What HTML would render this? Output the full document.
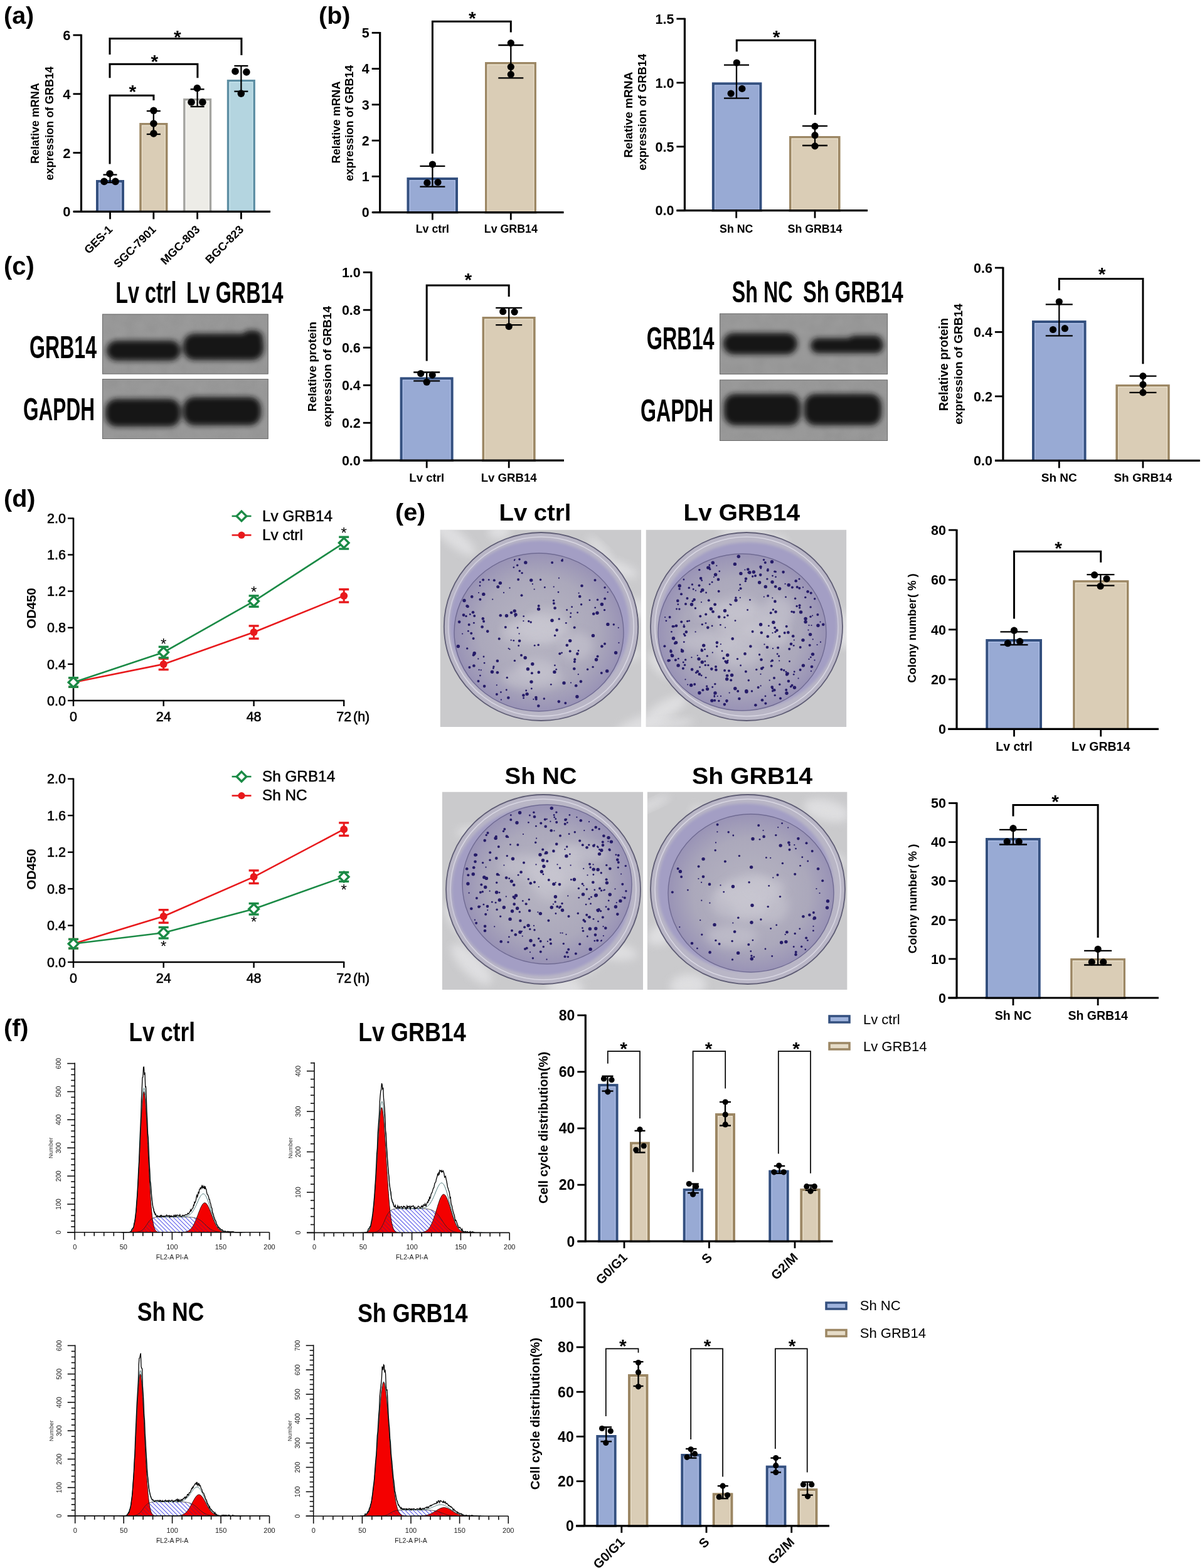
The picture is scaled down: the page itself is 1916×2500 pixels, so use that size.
<!DOCTYPE html>
<html><head><meta charset="utf-8"><title>GRB14 figure</title>
<style>html,body{margin:0;padding:0;background:#fff;} svg{display:block;}</style></head>
<body><svg width="1916" height="2500" viewBox="0 0 1916 2500">
<rect width="1916" height="2500" fill="#fff"/>
<text x="6" y="38" font-family="'Liberation Sans', Arial, sans-serif" font-size="39.5" font-weight="bold" text-anchor="start" fill="#000" >(a)</text>
<line x1="129.5" y1="54.8" x2="129.5" y2="338.6" stroke="#000" stroke-width="3.2" stroke-linecap="butt"/>
<line x1="116.5" y1="56" x2="129.5" y2="56" stroke="#000" stroke-width="2.8" stroke-linecap="butt"/>
<text x="112.5" y="63.9" font-family="'Liberation Sans', Arial, sans-serif" font-size="22" font-weight="bold" text-anchor="end" fill="#000" >6</text>
<line x1="116.5" y1="149.8" x2="129.5" y2="149.8" stroke="#000" stroke-width="2.8" stroke-linecap="butt"/>
<text x="112.5" y="157.7" font-family="'Liberation Sans', Arial, sans-serif" font-size="22" font-weight="bold" text-anchor="end" fill="#000" >4</text>
<line x1="116.5" y1="243.6" x2="129.5" y2="243.6" stroke="#000" stroke-width="2.8" stroke-linecap="butt"/>
<text x="112.5" y="251.5" font-family="'Liberation Sans', Arial, sans-serif" font-size="22" font-weight="bold" text-anchor="end" fill="#000" >2</text>
<line x1="116.5" y1="337.4" x2="129.5" y2="337.4" stroke="#000" stroke-width="2.8" stroke-linecap="butt"/>
<text x="112.5" y="345.3" font-family="'Liberation Sans', Arial, sans-serif" font-size="22" font-weight="bold" text-anchor="end" fill="#000" >0</text>
<line x1="117" y1="337.4" x2="431" y2="337.4" stroke="#000" stroke-width="3.2" stroke-linecap="butt"/>
<line x1="175.5" y1="337.4" x2="175.5" y2="349.4" stroke="#000" stroke-width="2.8" stroke-linecap="butt"/>
<line x1="244.8" y1="337.4" x2="244.8" y2="349.4" stroke="#000" stroke-width="2.8" stroke-linecap="butt"/>
<line x1="314.6" y1="337.4" x2="314.6" y2="349.4" stroke="#000" stroke-width="2.8" stroke-linecap="butt"/>
<line x1="384.4" y1="337.4" x2="384.4" y2="349.4" stroke="#000" stroke-width="2.8" stroke-linecap="butt"/>
<rect x="153" y="287" width="45" height="50.4" fill="#98aad4"/>
<path d="M155,337.4 V289 H196 V337.4" fill="none" stroke="#34507f" stroke-width="4"/>
<path d="M157.6,337.4 V291.6 H193.4 V337.4" fill="none" stroke="#b6c6ee" stroke-width="1.1" opacity="0.9"/>
<line x1="152.5" y1="337.4" x2="198.5" y2="337.4" stroke="#000" stroke-width="3.2"/>
<rect x="222.3" y="196" width="45" height="141.4" fill="#dacdb6"/>
<path d="M224.1,337.4 V197.8 H265.6 V337.4" fill="none" stroke="#9c8764" stroke-width="3.5"/>
<path d="M226.4,337.4 V200.1 H263.2 V337.4" fill="none" stroke="#f0e6d2" stroke-width="1.1" opacity="0.9"/>
<line x1="221.8" y1="337.4" x2="267.8" y2="337.4" stroke="#000" stroke-width="3.2"/>
<rect x="292.1" y="157" width="45" height="180.4" fill="#edece7"/>
<path d="M293.9,337.4 V158.8 H335.4 V337.4" fill="none" stroke="#a4a4a0" stroke-width="3.5"/>
<path d="M296.2,337.4 V161.1 H333 V337.4" fill="none" stroke="#fafaf8" stroke-width="1.1" opacity="0.9"/>
<line x1="291.6" y1="337.4" x2="337.6" y2="337.4" stroke="#000" stroke-width="3.2"/>
<rect x="361.9" y="127" width="45" height="210.4" fill="#b4d5e0"/>
<path d="M363.6,337.4 V128.8 H405.1 V337.4" fill="none" stroke="#5d8ea3" stroke-width="3.5"/>
<path d="M366,337.4 V131.1 H402.8 V337.4" fill="none" stroke="#d2eef6" stroke-width="1.1" opacity="0.9"/>
<line x1="361.4" y1="337.4" x2="407.4" y2="337.4" stroke="#000" stroke-width="3.2"/>
<line x1="175.5" y1="278.6" x2="175.5" y2="291" stroke="#000" stroke-width="2.3" stroke-linecap="butt"/>
<line x1="164.5" y1="278.6" x2="186.5" y2="278.6" stroke="#000" stroke-width="2.3" stroke-linecap="butt"/>
<line x1="164.5" y1="291" x2="186.5" y2="291" stroke="#000" stroke-width="2.3" stroke-linecap="butt"/>
<line x1="244.8" y1="177" x2="244.8" y2="214" stroke="#000" stroke-width="2.3" stroke-linecap="butt"/>
<line x1="233.8" y1="177" x2="255.8" y2="177" stroke="#000" stroke-width="2.3" stroke-linecap="butt"/>
<line x1="233.8" y1="214" x2="255.8" y2="214" stroke="#000" stroke-width="2.3" stroke-linecap="butt"/>
<line x1="314.6" y1="142.3" x2="314.6" y2="170" stroke="#000" stroke-width="2.3" stroke-linecap="butt"/>
<line x1="303.6" y1="142.3" x2="325.6" y2="142.3" stroke="#000" stroke-width="2.3" stroke-linecap="butt"/>
<line x1="303.6" y1="170" x2="325.6" y2="170" stroke="#000" stroke-width="2.3" stroke-linecap="butt"/>
<line x1="384.4" y1="105" x2="384.4" y2="145.7" stroke="#000" stroke-width="2.3" stroke-linecap="butt"/>
<line x1="373.4" y1="105" x2="395.4" y2="105" stroke="#000" stroke-width="2.3" stroke-linecap="butt"/>
<line x1="373.4" y1="145.7" x2="395.4" y2="145.7" stroke="#000" stroke-width="2.3" stroke-linecap="butt"/>
<circle cx="175" cy="277" r="5.8" fill="#000"/>
<circle cx="166" cy="289.4" r="5.8" fill="#000"/>
<circle cx="184" cy="289.4" r="5.8" fill="#000"/>
<circle cx="244.9" cy="176.3" r="5.8" fill="#000"/>
<circle cx="244.9" cy="197" r="5.8" fill="#000"/>
<circle cx="244.9" cy="212.9" r="5.8" fill="#000"/>
<circle cx="314.3" cy="140.6" r="5.8" fill="#000"/>
<circle cx="305" cy="162.9" r="5.8" fill="#000"/>
<circle cx="322.9" cy="162.9" r="5.8" fill="#000"/>
<circle cx="375" cy="113.7" r="5.8" fill="#000"/>
<circle cx="392.9" cy="114.9" r="5.8" fill="#000"/>
<circle cx="384.3" cy="149.1" r="5.8" fill="#000"/>
<polyline points="175,87 175,61.4 384.9,61.4 384.9,88" fill="none" stroke="#000" stroke-width="3" stroke-linejoin="miter"/>
<text x="282.9" y="69.1" font-family="'Liberation Sans', Arial, sans-serif" font-size="30" font-weight="bold" text-anchor="middle" fill="#000" >*</text>
<polyline points="175,124.3 175,102.3 314.9,102.3 314.9,124.3" fill="none" stroke="#000" stroke-width="3" stroke-linejoin="miter"/>
<text x="246.3" y="107.6" font-family="'Liberation Sans', Arial, sans-serif" font-size="30" font-weight="bold" text-anchor="middle" fill="#000" >*</text>
<polyline points="175,261.4 175,152.3 244.9,152.3 244.9,160" fill="none" stroke="#000" stroke-width="3" stroke-linejoin="miter"/>
<text x="211.4" y="155.6" font-family="'Liberation Sans', Arial, sans-serif" font-size="30" font-weight="bold" text-anchor="middle" fill="#000" >*</text>
<text x="62.3" y="196.6" font-family="'Liberation Sans', Arial, sans-serif" font-size="17.95" font-weight="bold" text-anchor="middle" transform="rotate(-90 62.3 196.6)" >Relative mRNA</text>
<text x="85" y="196.8" font-family="'Liberation Sans', Arial, sans-serif" font-size="17.95" font-weight="bold" text-anchor="middle" transform="rotate(-90 85 196.8)" >expression of GRB14</text>
<text x="180.5" y="367" font-family="'Liberation Sans', Arial, sans-serif" font-size="18.3" font-weight="bold" text-anchor="end" transform="rotate(-45 180.5 367)">GES-1</text>
<text x="249.8" y="367" font-family="'Liberation Sans', Arial, sans-serif" font-size="18.3" font-weight="bold" text-anchor="end" transform="rotate(-45 249.8 367)">SGC-7901</text>
<text x="319.6" y="367" font-family="'Liberation Sans', Arial, sans-serif" font-size="18.3" font-weight="bold" text-anchor="end" transform="rotate(-45 319.6 367)">MGC-803</text>
<text x="389.4" y="367" font-family="'Liberation Sans', Arial, sans-serif" font-size="18.3" font-weight="bold" text-anchor="end" transform="rotate(-45 389.4 367)">BGC-823</text>
<text x="508" y="38" font-family="'Liberation Sans', Arial, sans-serif" font-size="39.5" font-weight="bold" text-anchor="start" fill="#000" >(b)</text>
<line x1="605.7" y1="51.1" x2="605.7" y2="339.8" stroke="#000" stroke-width="3.2" stroke-linecap="butt"/>
<line x1="592.7" y1="338.6" x2="605.7" y2="338.6" stroke="#000" stroke-width="2.8" stroke-linecap="butt"/>
<text x="588.7" y="346.3" font-family="'Liberation Sans', Arial, sans-serif" font-size="21.5" font-weight="bold" text-anchor="end" fill="#000" >0</text>
<line x1="592.7" y1="281.3" x2="605.7" y2="281.3" stroke="#000" stroke-width="2.8" stroke-linecap="butt"/>
<text x="588.7" y="289.1" font-family="'Liberation Sans', Arial, sans-serif" font-size="21.5" font-weight="bold" text-anchor="end" fill="#000" >1</text>
<line x1="592.7" y1="224.1" x2="605.7" y2="224.1" stroke="#000" stroke-width="2.8" stroke-linecap="butt"/>
<text x="588.7" y="231.8" font-family="'Liberation Sans', Arial, sans-serif" font-size="21.5" font-weight="bold" text-anchor="end" fill="#000" >2</text>
<line x1="592.7" y1="166.8" x2="605.7" y2="166.8" stroke="#000" stroke-width="2.8" stroke-linecap="butt"/>
<text x="588.7" y="174.6" font-family="'Liberation Sans', Arial, sans-serif" font-size="21.5" font-weight="bold" text-anchor="end" fill="#000" >3</text>
<line x1="592.7" y1="109.6" x2="605.7" y2="109.6" stroke="#000" stroke-width="2.8" stroke-linecap="butt"/>
<text x="588.7" y="117.3" font-family="'Liberation Sans', Arial, sans-serif" font-size="21.5" font-weight="bold" text-anchor="end" fill="#000" >4</text>
<line x1="592.7" y1="52.3" x2="605.7" y2="52.3" stroke="#000" stroke-width="2.8" stroke-linecap="butt"/>
<text x="588.7" y="60" font-family="'Liberation Sans', Arial, sans-serif" font-size="21.5" font-weight="bold" text-anchor="end" fill="#000" >5</text>
<line x1="594" y1="338.6" x2="898.6" y2="338.6" stroke="#000" stroke-width="3.2" stroke-linecap="butt"/>
<line x1="689.4" y1="338.6" x2="689.4" y2="350.6" stroke="#000" stroke-width="2.8" stroke-linecap="butt"/>
<line x1="814.3" y1="338.6" x2="814.3" y2="350.6" stroke="#000" stroke-width="2.8" stroke-linecap="butt"/>
<rect x="648.6" y="283" width="81.4" height="55.6" fill="#98aad4"/>
<path d="M650.6,338.6 V285 H728 V338.6" fill="none" stroke="#34507f" stroke-width="4"/>
<path d="M653.2,338.6 V287.6 H725.4 V338.6" fill="none" stroke="#b6c6ee" stroke-width="1.1" opacity="0.9"/>
<line x1="648.1" y1="338.6" x2="730.5" y2="338.6" stroke="#000" stroke-width="3.2"/>
<rect x="773" y="99" width="82" height="239.6" fill="#dacdb6"/>
<path d="M774.8,338.6 V100.8 H853.2 V338.6" fill="none" stroke="#9c8764" stroke-width="3.5"/>
<path d="M777.1,338.6 V103.1 H850.9 V338.6" fill="none" stroke="#f0e6d2" stroke-width="1.1" opacity="0.9"/>
<line x1="772.5" y1="338.6" x2="855.5" y2="338.6" stroke="#000" stroke-width="3.2"/>
<line x1="689.4" y1="264.9" x2="689.4" y2="297.7" stroke="#000" stroke-width="2.3" stroke-linecap="butt"/>
<line x1="669.4" y1="264.9" x2="709.4" y2="264.9" stroke="#000" stroke-width="2.3" stroke-linecap="butt"/>
<line x1="669.4" y1="297.7" x2="709.4" y2="297.7" stroke="#000" stroke-width="2.3" stroke-linecap="butt"/>
<line x1="814.3" y1="72" x2="814.3" y2="124.3" stroke="#000" stroke-width="2.3" stroke-linecap="butt"/>
<line x1="794.3" y1="72" x2="834.3" y2="72" stroke="#000" stroke-width="2.3" stroke-linecap="butt"/>
<line x1="794.3" y1="124.3" x2="834.3" y2="124.3" stroke="#000" stroke-width="2.3" stroke-linecap="butt"/>
<circle cx="689.4" cy="262" r="5.6" fill="#000"/>
<circle cx="680.9" cy="291.4" r="5.6" fill="#000"/>
<circle cx="698" cy="290.6" r="5.6" fill="#000"/>
<circle cx="814.3" cy="68.6" r="5.6" fill="#000"/>
<circle cx="814.3" cy="106.6" r="5.6" fill="#000"/>
<circle cx="814.3" cy="118.6" r="5.6" fill="#000"/>
<polyline points="689.4,244.9 689.4,34.3 814.3,34.3 814.3,51.4" fill="none" stroke="#000" stroke-width="3" stroke-linejoin="miter"/>
<text x="752.9" y="39.1" font-family="'Liberation Sans', Arial, sans-serif" font-size="30" font-weight="bold" text-anchor="middle" fill="#000" >*</text>
<text x="541.5" y="195" font-family="'Liberation Sans', Arial, sans-serif" font-size="18.3" font-weight="bold" text-anchor="middle" transform="rotate(-90 541.5 195)" >Relative mRNA</text>
<text x="563.5" y="196.4" font-family="'Liberation Sans', Arial, sans-serif" font-size="18.3" font-weight="bold" text-anchor="middle" transform="rotate(-90 563.5 196.4)" >expression of GRB14</text>
<text x="689.4" y="370.5" font-family="'Liberation Sans', Arial, sans-serif" font-size="17.8" font-weight="bold" text-anchor="middle" fill="#000" >Lv ctrl</text>
<text x="814.3" y="370.5" font-family="'Liberation Sans', Arial, sans-serif" font-size="17.8" font-weight="bold" text-anchor="middle" fill="#000" >Lv GRB14</text>
<line x1="1091.4" y1="28.8" x2="1091.4" y2="336.9" stroke="#000" stroke-width="3.2" stroke-linecap="butt"/>
<line x1="1078.4" y1="30" x2="1091.4" y2="30" stroke="#000" stroke-width="2.8" stroke-linecap="butt"/>
<text x="1074.4" y="37.7" font-family="'Liberation Sans', Arial, sans-serif" font-size="21.5" font-weight="bold" text-anchor="end" fill="#000" >1.5</text>
<line x1="1078.4" y1="131.9" x2="1091.4" y2="131.9" stroke="#000" stroke-width="2.8" stroke-linecap="butt"/>
<text x="1074.4" y="139.6" font-family="'Liberation Sans', Arial, sans-serif" font-size="21.5" font-weight="bold" text-anchor="end" fill="#000" >1.0</text>
<line x1="1078.4" y1="233.8" x2="1091.4" y2="233.8" stroke="#000" stroke-width="2.8" stroke-linecap="butt"/>
<text x="1074.4" y="241.5" font-family="'Liberation Sans', Arial, sans-serif" font-size="21.5" font-weight="bold" text-anchor="end" fill="#000" >0.5</text>
<line x1="1078.4" y1="335.7" x2="1091.4" y2="335.7" stroke="#000" stroke-width="2.8" stroke-linecap="butt"/>
<text x="1074.4" y="343.4" font-family="'Liberation Sans', Arial, sans-serif" font-size="21.5" font-weight="bold" text-anchor="end" fill="#000" >0.0</text>
<line x1="1078.6" y1="335.7" x2="1383" y2="335.7" stroke="#000" stroke-width="3.2" stroke-linecap="butt"/>
<line x1="1173.7" y1="335.7" x2="1173.7" y2="347.7" stroke="#000" stroke-width="2.8" stroke-linecap="butt"/>
<line x1="1299" y1="335.7" x2="1299" y2="347.7" stroke="#000" stroke-width="2.8" stroke-linecap="butt"/>
<rect x="1134.9" y="131.4" width="79.4" height="204.3" fill="#98aad4"/>
<path d="M1136.9,335.7 V133.4 H1212.3 V335.7" fill="none" stroke="#34507f" stroke-width="4"/>
<path d="M1139.5,335.7 V136 H1209.7 V335.7" fill="none" stroke="#b6c6ee" stroke-width="1.1" opacity="0.9"/>
<line x1="1134.4" y1="335.7" x2="1214.8" y2="335.7" stroke="#000" stroke-width="3.2"/>
<rect x="1258" y="217" width="81.4" height="118.7" fill="#dacdb6"/>
<path d="M1259.8,335.7 V218.8 H1337.7 V335.7" fill="none" stroke="#9c8764" stroke-width="3.5"/>
<path d="M1262.1,335.7 V221.1 H1335.3 V335.7" fill="none" stroke="#f0e6d2" stroke-width="1.1" opacity="0.9"/>
<line x1="1257.5" y1="335.7" x2="1339.9" y2="335.7" stroke="#000" stroke-width="3.2"/>
<line x1="1174" y1="103.7" x2="1174" y2="156.6" stroke="#000" stroke-width="2.3" stroke-linecap="butt"/>
<line x1="1154" y1="103.7" x2="1194" y2="103.7" stroke="#000" stroke-width="2.3" stroke-linecap="butt"/>
<line x1="1154" y1="156.6" x2="1194" y2="156.6" stroke="#000" stroke-width="2.3" stroke-linecap="butt"/>
<line x1="1299" y1="200.9" x2="1299" y2="232" stroke="#000" stroke-width="2.3" stroke-linecap="butt"/>
<line x1="1279" y1="200.9" x2="1319" y2="200.9" stroke="#000" stroke-width="2.3" stroke-linecap="butt"/>
<line x1="1279" y1="232" x2="1319" y2="232" stroke="#000" stroke-width="2.3" stroke-linecap="butt"/>
<circle cx="1174.3" cy="100" r="5.6" fill="#000"/>
<circle cx="1165.1" cy="149.1" r="5.6" fill="#000"/>
<circle cx="1182.9" cy="141.4" r="5.6" fill="#000"/>
<circle cx="1299" cy="201.4" r="5.6" fill="#000"/>
<circle cx="1299" cy="215.7" r="5.6" fill="#000"/>
<circle cx="1299" cy="232.9" r="5.6" fill="#000"/>
<polyline points="1174.3,82.3 1174.3,64.3 1299.4,64.3 1299.4,182.9" fill="none" stroke="#000" stroke-width="3" stroke-linejoin="miter"/>
<text x="1237.7" y="68.6" font-family="'Liberation Sans', Arial, sans-serif" font-size="30" font-weight="bold" text-anchor="middle" fill="#000" >*</text>
<text x="1008" y="183" font-family="'Liberation Sans', Arial, sans-serif" font-size="19.1" font-weight="bold" text-anchor="middle" transform="rotate(-90 1008 183)" >Relative mRNA</text>
<text x="1030" y="178.8" font-family="'Liberation Sans', Arial, sans-serif" font-size="18.4" font-weight="bold" text-anchor="middle" transform="rotate(-90 1030 178.8)" >expression of GRB14</text>
<text x="1173.7" y="370.5" font-family="'Liberation Sans', Arial, sans-serif" font-size="17.8" font-weight="bold" text-anchor="middle" fill="#000" >Sh NC</text>
<text x="1299" y="370.5" font-family="'Liberation Sans', Arial, sans-serif" font-size="17.8" font-weight="bold" text-anchor="middle" fill="#000" >Sh GRB14</text>
<text x="6" y="438" font-family="'Liberation Sans', Arial, sans-serif" font-size="40" font-weight="bold" text-anchor="start" fill="#000" >(c)</text>
<line x1="591.8" y1="433" x2="591.8" y2="735.4" stroke="#000" stroke-width="3.2" stroke-linecap="butt"/>
<line x1="578.8" y1="734.2" x2="591.8" y2="734.2" stroke="#000" stroke-width="2.8" stroke-linecap="butt"/>
<text x="574.8" y="741.9" font-family="'Liberation Sans', Arial, sans-serif" font-size="21.5" font-weight="bold" text-anchor="end" fill="#000" >0.0</text>
<line x1="578.8" y1="674.2" x2="591.8" y2="674.2" stroke="#000" stroke-width="2.8" stroke-linecap="butt"/>
<text x="574.8" y="681.9" font-family="'Liberation Sans', Arial, sans-serif" font-size="21.5" font-weight="bold" text-anchor="end" fill="#000" >0.2</text>
<line x1="578.8" y1="614.2" x2="591.8" y2="614.2" stroke="#000" stroke-width="2.8" stroke-linecap="butt"/>
<text x="574.8" y="621.9" font-family="'Liberation Sans', Arial, sans-serif" font-size="21.5" font-weight="bold" text-anchor="end" fill="#000" >0.4</text>
<line x1="578.8" y1="554.2" x2="591.8" y2="554.2" stroke="#000" stroke-width="2.8" stroke-linecap="butt"/>
<text x="574.8" y="561.9" font-family="'Liberation Sans', Arial, sans-serif" font-size="21.5" font-weight="bold" text-anchor="end" fill="#000" >0.6</text>
<line x1="578.8" y1="494.2" x2="591.8" y2="494.2" stroke="#000" stroke-width="2.8" stroke-linecap="butt"/>
<text x="574.8" y="501.9" font-family="'Liberation Sans', Arial, sans-serif" font-size="21.5" font-weight="bold" text-anchor="end" fill="#000" >0.8</text>
<line x1="578.8" y1="434.2" x2="591.8" y2="434.2" stroke="#000" stroke-width="2.8" stroke-linecap="butt"/>
<text x="574.8" y="441.9" font-family="'Liberation Sans', Arial, sans-serif" font-size="21.5" font-weight="bold" text-anchor="end" fill="#000" >1.0</text>
<line x1="580.5" y1="734.2" x2="899" y2="734.2" stroke="#000" stroke-width="3.2" stroke-linecap="butt"/>
<line x1="680.2" y1="734.2" x2="680.2" y2="746.2" stroke="#000" stroke-width="2.8" stroke-linecap="butt"/>
<line x1="811.2" y1="734.2" x2="811.2" y2="746.2" stroke="#000" stroke-width="2.8" stroke-linecap="butt"/>
<rect x="637.7" y="601.5" width="84.8" height="132.7" fill="#98aad4"/>
<path d="M639.7,734.2 V603.5 H720.5 V734.2" fill="none" stroke="#34507f" stroke-width="4"/>
<path d="M642.3,734.2 V606.1 H717.9 V734.2" fill="none" stroke="#b6c6ee" stroke-width="1.1" opacity="0.9"/>
<line x1="637.2" y1="734.2" x2="723" y2="734.2" stroke="#000" stroke-width="3.2"/>
<rect x="768.6" y="505" width="84.9" height="229.2" fill="#dacdb6"/>
<path d="M770.4,734.2 V506.8 H851.8 V734.2" fill="none" stroke="#9c8764" stroke-width="3.5"/>
<path d="M772.7,734.2 V509.1 H849.4 V734.2" fill="none" stroke="#f0e6d2" stroke-width="1.1" opacity="0.9"/>
<line x1="768.1" y1="734.2" x2="854" y2="734.2" stroke="#000" stroke-width="3.2"/>
<line x1="680.2" y1="593.5" x2="680.2" y2="607.4" stroke="#000" stroke-width="2.3" stroke-linecap="butt"/>
<line x1="659.2" y1="593.5" x2="701.2" y2="593.5" stroke="#000" stroke-width="2.3" stroke-linecap="butt"/>
<line x1="659.2" y1="607.4" x2="701.2" y2="607.4" stroke="#000" stroke-width="2.3" stroke-linecap="butt"/>
<line x1="811.2" y1="490.8" x2="811.2" y2="518.2" stroke="#000" stroke-width="2.3" stroke-linecap="butt"/>
<line x1="790.2" y1="490.8" x2="832.2" y2="490.8" stroke="#000" stroke-width="2.3" stroke-linecap="butt"/>
<line x1="790.2" y1="518.2" x2="832.2" y2="518.2" stroke="#000" stroke-width="2.3" stroke-linecap="butt"/>
<circle cx="670.7" cy="595.5" r="5.6" fill="#000"/>
<circle cx="689.2" cy="597.9" r="5.6" fill="#000"/>
<circle cx="680.2" cy="609.2" r="5.6" fill="#000"/>
<circle cx="801.7" cy="496.7" r="5.6" fill="#000"/>
<circle cx="820.1" cy="497.3" r="5.6" fill="#000"/>
<circle cx="811.2" cy="520.5" r="5.6" fill="#000"/>
<polyline points="680.2,575.6 680.2,455 811.2,455 811.2,472.9" fill="none" stroke="#000" stroke-width="3" stroke-linejoin="miter"/>
<text x="746.3" y="456.1" font-family="'Liberation Sans', Arial, sans-serif" font-size="30" font-weight="bold" text-anchor="middle" fill="#000" >*</text>
<text x="504" y="584.5" font-family="'Liberation Sans', Arial, sans-serif" font-size="19.1" font-weight="bold" text-anchor="middle" transform="rotate(-90 504 584.5)" >Relative protein</text>
<text x="527.5" y="584.5" font-family="'Liberation Sans', Arial, sans-serif" font-size="19.1" font-weight="bold" text-anchor="middle" transform="rotate(-90 527.5 584.5)" >expression of GRB14</text>
<text x="680.2" y="767.6" font-family="'Liberation Sans', Arial, sans-serif" font-size="18.6" font-weight="bold" text-anchor="middle" fill="#000" >Lv ctrl</text>
<text x="811.2" y="767.6" font-family="'Liberation Sans', Arial, sans-serif" font-size="18.6" font-weight="bold" text-anchor="middle" fill="#000" >Lv GRB14</text>
<line x1="1598.9" y1="425.8" x2="1598.9" y2="735.5" stroke="#000" stroke-width="3.2" stroke-linecap="butt"/>
<line x1="1585.9" y1="734.3" x2="1598.9" y2="734.3" stroke="#000" stroke-width="2.8" stroke-linecap="butt"/>
<text x="1581.9" y="742" font-family="'Liberation Sans', Arial, sans-serif" font-size="21.5" font-weight="bold" text-anchor="end" fill="#000" >0.0</text>
<line x1="1585.9" y1="631.9" x2="1598.9" y2="631.9" stroke="#000" stroke-width="2.8" stroke-linecap="butt"/>
<text x="1581.9" y="639.6" font-family="'Liberation Sans', Arial, sans-serif" font-size="21.5" font-weight="bold" text-anchor="end" fill="#000" >0.2</text>
<line x1="1585.9" y1="529.4" x2="1598.9" y2="529.4" stroke="#000" stroke-width="2.8" stroke-linecap="butt"/>
<text x="1581.9" y="537.2" font-family="'Liberation Sans', Arial, sans-serif" font-size="21.5" font-weight="bold" text-anchor="end" fill="#000" >0.4</text>
<line x1="1585.9" y1="427" x2="1598.9" y2="427" stroke="#000" stroke-width="2.8" stroke-linecap="butt"/>
<text x="1581.9" y="434.7" font-family="'Liberation Sans', Arial, sans-serif" font-size="21.5" font-weight="bold" text-anchor="end" fill="#000" >0.6</text>
<line x1="1586" y1="734.3" x2="1912.8" y2="734.3" stroke="#000" stroke-width="3.2" stroke-linecap="butt"/>
<line x1="1688.3" y1="734.3" x2="1688.3" y2="746.3" stroke="#000" stroke-width="2.8" stroke-linecap="butt"/>
<line x1="1821.9" y1="734.3" x2="1821.9" y2="746.3" stroke="#000" stroke-width="2.8" stroke-linecap="butt"/>
<rect x="1645" y="511" width="86.4" height="223.3" fill="#98aad4"/>
<path d="M1647,734.3 V513 H1729.4 V734.3" fill="none" stroke="#34507f" stroke-width="4"/>
<path d="M1649.6,734.3 V515.6 H1726.8 V734.3" fill="none" stroke="#b6c6ee" stroke-width="1.1" opacity="0.9"/>
<line x1="1644.5" y1="734.3" x2="1731.9" y2="734.3" stroke="#000" stroke-width="3.2"/>
<rect x="1778.5" y="613" width="86.1" height="121.3" fill="#dacdb6"/>
<path d="M1780.2,734.3 V614.8 H1862.8 V734.3" fill="none" stroke="#9c8764" stroke-width="3.5"/>
<path d="M1782.6,734.3 V617.1 H1860.5 V734.3" fill="none" stroke="#f0e6d2" stroke-width="1.1" opacity="0.9"/>
<line x1="1778" y1="734.3" x2="1865.1" y2="734.3" stroke="#000" stroke-width="3.2"/>
<line x1="1688.3" y1="485.4" x2="1688.3" y2="535.4" stroke="#000" stroke-width="2.3" stroke-linecap="butt"/>
<line x1="1666.8" y1="485.4" x2="1709.8" y2="485.4" stroke="#000" stroke-width="2.3" stroke-linecap="butt"/>
<line x1="1666.8" y1="535.4" x2="1709.8" y2="535.4" stroke="#000" stroke-width="2.3" stroke-linecap="butt"/>
<line x1="1821.9" y1="599.6" x2="1821.9" y2="625.9" stroke="#000" stroke-width="2.3" stroke-linecap="butt"/>
<line x1="1800.4" y1="599.6" x2="1843.4" y2="599.6" stroke="#000" stroke-width="2.3" stroke-linecap="butt"/>
<line x1="1800.4" y1="625.9" x2="1843.4" y2="625.9" stroke="#000" stroke-width="2.3" stroke-linecap="butt"/>
<circle cx="1688.3" cy="481" r="5.6" fill="#000"/>
<circle cx="1678.5" cy="525.5" r="5.6" fill="#000"/>
<circle cx="1697.4" cy="523.7" r="5.6" fill="#000"/>
<circle cx="1821.9" cy="599.6" r="5.6" fill="#000"/>
<circle cx="1821.9" cy="613.1" r="5.6" fill="#000"/>
<circle cx="1821.9" cy="625.9" r="5.6" fill="#000"/>
<polyline points="1688.3,462.8 1688.3,444.5 1821.9,444.5 1821.9,580.3" fill="none" stroke="#000" stroke-width="3" stroke-linejoin="miter"/>
<text x="1756.6" y="446.6" font-family="'Liberation Sans', Arial, sans-serif" font-size="30" font-weight="bold" text-anchor="middle" fill="#000" >*</text>
<text x="1510.5" y="581" font-family="'Liberation Sans', Arial, sans-serif" font-size="19.8" font-weight="bold" text-anchor="middle" transform="rotate(-90 1510.5 581)" >Relative protein</text>
<text x="1534" y="580.5" font-family="'Liberation Sans', Arial, sans-serif" font-size="19.05" font-weight="bold" text-anchor="middle" transform="rotate(-90 1534 580.5)" >expression of GRB14</text>
<text x="1688.3" y="767.5" font-family="'Liberation Sans', Arial, sans-serif" font-size="19" font-weight="bold" text-anchor="middle" fill="#000" >Sh NC</text>
<text x="1821.9" y="767.5" font-family="'Liberation Sans', Arial, sans-serif" font-size="19" font-weight="bold" text-anchor="middle" fill="#000" >Sh GRB14</text>
<defs>
<filter id="bl4" x="-20%" y="-40%" width="140%" height="180%"><feGaussianBlur stdDeviation="4"/></filter>
<filter id="bl8" x="-20%" y="-40%" width="140%" height="180%"><feGaussianBlur stdDeviation="7"/></filter>
<filter id="bl1" x="-5%" y="-5%" width="110%" height="110%"><feGaussianBlur stdDeviation="2"/></filter>
<filter id="noise" x="0" y="0" width="100%" height="100%">
  <feTurbulence type="fractalNoise" baseFrequency="0.045" numOctaves="2" seed="3" result="t"/>
  <feColorMatrix type="matrix" values="0 0 0 0 0.5  0 0 0 0 0.5  0 0 0 0 0.5  0.35 0.35 0.35 0 -0.3"/>
</filter>
</defs>
<text x="184.3" y="482.6" font-family="'Liberation Sans', Arial, sans-serif" font-size="49" font-weight="bold" textLength="97.1" lengthAdjust="spacingAndGlyphs">Lv ctrl</text>
<text x="297.1" y="482.6" font-family="'Liberation Sans', Arial, sans-serif" font-size="49" font-weight="bold" textLength="154.3" lengthAdjust="spacingAndGlyphs">Lv GRB14</text>
<clipPath id="c163_500"><rect x="163" y="500.6" width="264.7" height="96"/></clipPath>
<g clip-path="url(#c163_500)">
<rect x="163" y="500.6" width="264.7" height="96" fill="#959595"/>
<rect x="163" y="500.6" width="264.7" height="96" fill="#b0b0b0" opacity="0.35" filter="url(#noise)"/>
<g filter="url(#bl4)">
<rect x="170" y="543" width="118" height="32" rx="16" fill="#151515"/>
<rect x="292" y="532" width="128" height="42" rx="18" fill="#151515"/>
<rect x="385" y="527" width="34" height="25" rx="12.5" fill="#151515"/>
</g>
</g>
<rect x="163.5" y="501.1" width="263.7" height="95" fill="none" stroke="#6a6a6a" stroke-width="1"/>
<clipPath id="c163_604"><rect x="163" y="604" width="264.7" height="96"/></clipPath>
<g clip-path="url(#c163_604)">
<rect x="163" y="604" width="264.7" height="96" fill="#959595"/>
<rect x="163" y="604" width="264.7" height="96" fill="#b0b0b0" opacity="0.35" filter="url(#noise)"/>
<g filter="url(#bl4)">
<rect x="168" y="636" width="120" height="44" rx="18" fill="#151515"/>
<rect x="292" y="633" width="124" height="45" rx="18" fill="#151515"/>
</g>
</g>
<rect x="163.5" y="604.5" width="263.7" height="95" fill="none" stroke="#6a6a6a" stroke-width="1"/>
<text x="47" y="571" font-family="'Liberation Sans', Arial, sans-serif" font-size="50" font-weight="bold" textLength="107" lengthAdjust="spacingAndGlyphs">GRB14</text>
<text x="37" y="670" font-family="'Liberation Sans', Arial, sans-serif" font-size="50" font-weight="bold" textLength="114" lengthAdjust="spacingAndGlyphs">GAPDH</text>
<text x="1166.8" y="482" font-family="'Liberation Sans', Arial, sans-serif" font-size="49" font-weight="bold" textLength="96.8" lengthAdjust="spacingAndGlyphs">Sh NC</text>
<text x="1280" y="482" font-family="'Liberation Sans', Arial, sans-serif" font-size="49" font-weight="bold" textLength="159.8" lengthAdjust="spacingAndGlyphs">Sh GRB14</text>
<clipPath id="c1147_499"><rect x="1147" y="499.7" width="268" height="97.3"/></clipPath>
<g clip-path="url(#c1147_499)">
<rect x="1147" y="499.7" width="268" height="97.3" fill="#959595"/>
<rect x="1147" y="499.7" width="268" height="97.3" fill="#b0b0b0" opacity="0.35" filter="url(#noise)"/>
<g filter="url(#bl4)">
<rect x="1152.5" y="531" width="118.5" height="34" rx="17" fill="#151515"/>
<rect x="1292" y="539" width="116" height="24" rx="12" fill="#151515"/>
<rect x="1350" y="535" width="57" height="25" rx="12.5" fill="#151515"/>
</g>
</g>
<rect x="1147.5" y="500.2" width="267" height="96.3" fill="none" stroke="#6a6a6a" stroke-width="1"/>
<clipPath id="c1147_605"><rect x="1147" y="605.4" width="268" height="97.6"/></clipPath>
<g clip-path="url(#c1147_605)">
<rect x="1147" y="605.4" width="268" height="97.6" fill="#959595"/>
<rect x="1147" y="605.4" width="268" height="97.6" fill="#b0b0b0" opacity="0.35" filter="url(#noise)"/>
<g filter="url(#bl4)">
<rect x="1154" y="628" width="122" height="50" rx="18" fill="#151515"/>
<rect x="1282" y="628" width="123" height="50" rx="18" fill="#151515"/>
</g>
</g>
<rect x="1147.5" y="605.9" width="267" height="96.6" fill="none" stroke="#6a6a6a" stroke-width="1"/>
<text x="1030.8" y="557" font-family="'Liberation Sans', Arial, sans-serif" font-size="50" font-weight="bold" textLength="107.8" lengthAdjust="spacingAndGlyphs">GRB14</text>
<text x="1021" y="672.3" font-family="'Liberation Sans', Arial, sans-serif" font-size="50" font-weight="bold" textLength="116" lengthAdjust="spacingAndGlyphs">GAPDH</text>
<text x="6" y="808" font-family="'Liberation Sans', Arial, sans-serif" font-size="39.5" font-weight="bold" text-anchor="start" fill="#000" >(d)</text>
<line x1="117" y1="825.4" x2="117" y2="1118" stroke="#000" stroke-width="2.6" stroke-linecap="butt"/>
<line x1="108" y1="1117" x2="117" y2="1117" stroke="#000" stroke-width="2.4" stroke-linecap="butt"/>
<text x="105" y="1124.6" font-family="'Liberation Sans', Arial, sans-serif" font-size="21.5" font-weight="normal" text-anchor="end" fill="#000" stroke="#000" stroke-width="0.6">0.0</text>
<line x1="108" y1="1058.9" x2="117" y2="1058.9" stroke="#000" stroke-width="2.4" stroke-linecap="butt"/>
<text x="105" y="1066.5" font-family="'Liberation Sans', Arial, sans-serif" font-size="21.5" font-weight="normal" text-anchor="end" fill="#000" stroke="#000" stroke-width="0.6">0.4</text>
<line x1="108" y1="1000.8" x2="117" y2="1000.8" stroke="#000" stroke-width="2.4" stroke-linecap="butt"/>
<text x="105" y="1008.4" font-family="'Liberation Sans', Arial, sans-serif" font-size="21.5" font-weight="normal" text-anchor="end" fill="#000" stroke="#000" stroke-width="0.6">0.8</text>
<line x1="108" y1="942.6" x2="117" y2="942.6" stroke="#000" stroke-width="2.4" stroke-linecap="butt"/>
<text x="105" y="950.2" font-family="'Liberation Sans', Arial, sans-serif" font-size="21.5" font-weight="normal" text-anchor="end" fill="#000" stroke="#000" stroke-width="0.6">1.2</text>
<line x1="108" y1="884.5" x2="117" y2="884.5" stroke="#000" stroke-width="2.4" stroke-linecap="butt"/>
<text x="105" y="892.1" font-family="'Liberation Sans', Arial, sans-serif" font-size="21.5" font-weight="normal" text-anchor="end" fill="#000" stroke="#000" stroke-width="0.6">1.6</text>
<line x1="108" y1="826.4" x2="117" y2="826.4" stroke="#000" stroke-width="2.4" stroke-linecap="butt"/>
<text x="105" y="834" font-family="'Liberation Sans', Arial, sans-serif" font-size="21.5" font-weight="normal" text-anchor="end" fill="#000" stroke="#000" stroke-width="0.6">2.0</text>
<line x1="117" y1="1117" x2="549.2" y2="1117" stroke="#000" stroke-width="2.6" stroke-linecap="butt"/>
<line x1="117" y1="1117" x2="117" y2="1126" stroke="#000" stroke-width="2.4" stroke-linecap="butt"/>
<text x="117" y="1150" font-family="'Liberation Sans', Arial, sans-serif" font-size="21.5" font-weight="normal" text-anchor="middle" fill="#000" stroke="#000" stroke-width="0.6">0</text>
<line x1="260.7" y1="1117" x2="260.7" y2="1126" stroke="#000" stroke-width="2.4" stroke-linecap="butt"/>
<text x="260.7" y="1150" font-family="'Liberation Sans', Arial, sans-serif" font-size="21.5" font-weight="normal" text-anchor="middle" fill="#000" stroke="#000" stroke-width="0.6">24</text>
<line x1="404.6" y1="1117" x2="404.6" y2="1126" stroke="#000" stroke-width="2.4" stroke-linecap="butt"/>
<text x="404.6" y="1150" font-family="'Liberation Sans', Arial, sans-serif" font-size="21.5" font-weight="normal" text-anchor="middle" fill="#000" stroke="#000" stroke-width="0.6">48</text>
<line x1="548.2" y1="1117" x2="548.2" y2="1126" stroke="#000" stroke-width="2.4" stroke-linecap="butt"/>
<text x="548.2" y="1150" font-family="'Liberation Sans', Arial, sans-serif" font-size="21.5" font-weight="normal" text-anchor="middle" fill="#000" stroke="#000" stroke-width="0.6">72</text>
<text x="563" y="1150" font-family="'Liberation Sans', Arial, sans-serif" font-size="21.5" font-weight="normal" text-anchor="start" fill="#000" stroke="#000" stroke-width="0.6">(h)</text>
<text x="57" y="969.7" font-family="'Liberation Sans', Arial, sans-serif" font-size="20.5" font-weight="bold" text-anchor="middle" transform="rotate(-90 57 969.7)" >OD450</text>
<polyline points="117,1087.9 260.7,1058.9 404.6,1008 548.2,949.9" fill="none" stroke="#e8191c" stroke-width="2.6" stroke-linejoin="miter"/>
<polyline points="117,1087.9 260.7,1040 404.6,958.6 548.2,865.6" fill="none" stroke="#1a8a45" stroke-width="2.6" stroke-linejoin="miter"/>
<line x1="117" y1="1095.2" x2="117" y2="1080.7" stroke="#e8191c" stroke-width="3" stroke-linecap="butt"/>
<line x1="109" y1="1080.7" x2="125" y2="1080.7" stroke="#e8191c" stroke-width="3.4" stroke-linecap="butt"/>
<line x1="109" y1="1095.2" x2="125" y2="1095.2" stroke="#e8191c" stroke-width="3.4" stroke-linecap="butt"/>
<circle cx="117" cy="1087.9" r="6" fill="#e8191c"/>
<line x1="260.7" y1="1067.6" x2="260.7" y2="1050.2" stroke="#e8191c" stroke-width="3" stroke-linecap="butt"/>
<line x1="252.7" y1="1050.2" x2="268.7" y2="1050.2" stroke="#e8191c" stroke-width="3.4" stroke-linecap="butt"/>
<line x1="252.7" y1="1067.6" x2="268.7" y2="1067.6" stroke="#e8191c" stroke-width="3.4" stroke-linecap="butt"/>
<circle cx="260.7" cy="1058.9" r="6" fill="#e8191c"/>
<line x1="404.6" y1="1018.2" x2="404.6" y2="997.9" stroke="#e8191c" stroke-width="3" stroke-linecap="butt"/>
<line x1="396.6" y1="997.9" x2="412.6" y2="997.9" stroke="#e8191c" stroke-width="3.4" stroke-linecap="butt"/>
<line x1="396.6" y1="1018.2" x2="412.6" y2="1018.2" stroke="#e8191c" stroke-width="3.4" stroke-linecap="butt"/>
<circle cx="404.6" cy="1008" r="6" fill="#e8191c"/>
<line x1="548.2" y1="960.1" x2="548.2" y2="939.7" stroke="#e8191c" stroke-width="3" stroke-linecap="butt"/>
<line x1="540.2" y1="939.7" x2="556.2" y2="939.7" stroke="#e8191c" stroke-width="3.4" stroke-linecap="butt"/>
<line x1="540.2" y1="960.1" x2="556.2" y2="960.1" stroke="#e8191c" stroke-width="3.4" stroke-linecap="butt"/>
<circle cx="548.2" cy="949.9" r="6" fill="#e8191c"/>
<line x1="117" y1="1095.2" x2="117" y2="1080.7" stroke="#1a8a45" stroke-width="3" stroke-linecap="butt"/>
<line x1="109" y1="1080.7" x2="125" y2="1080.7" stroke="#1a8a45" stroke-width="3.4" stroke-linecap="butt"/>
<line x1="109" y1="1095.2" x2="125" y2="1095.2" stroke="#1a8a45" stroke-width="3.4" stroke-linecap="butt"/>
<path d="M117,1080.1 L124.8,1087.9 L117,1095.7 L109.2,1087.9 Z" fill="#fff" stroke="#1a8a45" stroke-width="3.4"/>
<line x1="260.7" y1="1048.7" x2="260.7" y2="1031.3" stroke="#1a8a45" stroke-width="3" stroke-linecap="butt"/>
<line x1="252.7" y1="1031.3" x2="268.7" y2="1031.3" stroke="#1a8a45" stroke-width="3.4" stroke-linecap="butt"/>
<line x1="252.7" y1="1048.7" x2="268.7" y2="1048.7" stroke="#1a8a45" stroke-width="3.4" stroke-linecap="butt"/>
<path d="M260.7,1032.2 L268.5,1040 L260.7,1047.8 L252.9,1040 Z" fill="#fff" stroke="#1a8a45" stroke-width="3.4"/>
<line x1="404.6" y1="967.3" x2="404.6" y2="949.9" stroke="#1a8a45" stroke-width="3" stroke-linecap="butt"/>
<line x1="396.6" y1="949.9" x2="412.6" y2="949.9" stroke="#1a8a45" stroke-width="3.4" stroke-linecap="butt"/>
<line x1="396.6" y1="967.3" x2="412.6" y2="967.3" stroke="#1a8a45" stroke-width="3.4" stroke-linecap="butt"/>
<path d="M404.6,950.8 L412.4,958.6 L404.6,966.4 L396.8,958.6 Z" fill="#fff" stroke="#1a8a45" stroke-width="3.4"/>
<line x1="548.2" y1="875.1" x2="548.2" y2="856.2" stroke="#1a8a45" stroke-width="3" stroke-linecap="butt"/>
<line x1="540.2" y1="856.2" x2="556.2" y2="856.2" stroke="#1a8a45" stroke-width="3.4" stroke-linecap="butt"/>
<line x1="540.2" y1="875.1" x2="556.2" y2="875.1" stroke="#1a8a45" stroke-width="3.4" stroke-linecap="butt"/>
<path d="M548.2,857.8 L556,865.6 L548.2,873.4 L540.4,865.6 Z" fill="#fff" stroke="#1a8a45" stroke-width="3.4"/>
<text x="260.7" y="1034.6" font-family="'Liberation Sans', Arial, sans-serif" font-size="24" font-weight="normal" text-anchor="middle" fill="#000" >*</text>
<text x="404.6" y="951.7" font-family="'Liberation Sans', Arial, sans-serif" font-size="24" font-weight="normal" text-anchor="middle" fill="#000" >*</text>
<text x="548.2" y="857.8" font-family="'Liberation Sans', Arial, sans-serif" font-size="24" font-weight="normal" text-anchor="middle" fill="#000" >*</text>
<line x1="369.6" y1="822.9" x2="400.5" y2="822.9" stroke="#1a8a45" stroke-width="2.6" stroke-linecap="butt"/>
<path d="M385,815.1 L392.8,822.9 L385,830.7 L377.2,822.9 Z" fill="#fff" stroke="#1a8a45" stroke-width="3.4"/>
<line x1="369.6" y1="853.2" x2="400.5" y2="853.2" stroke="#e8191c" stroke-width="2.6" stroke-linecap="butt"/>
<circle cx="385" cy="853.2" r="5.6" fill="#e8191c"/>
<text x="418" y="830.7" font-family="'Liberation Sans', Arial, sans-serif" font-size="24.3" font-weight="normal" text-anchor="start" fill="#000" stroke="#000" stroke-width="0.5">Lv GRB14</text>
<text x="418" y="861" font-family="'Liberation Sans', Arial, sans-serif" font-size="24.3" font-weight="normal" text-anchor="start" fill="#000" stroke="#000" stroke-width="0.5">Lv ctrl</text>
<line x1="117" y1="1240.8" x2="117" y2="1535" stroke="#000" stroke-width="2.6" stroke-linecap="butt"/>
<line x1="108" y1="1534" x2="117" y2="1534" stroke="#000" stroke-width="2.4" stroke-linecap="butt"/>
<text x="105" y="1541.6" font-family="'Liberation Sans', Arial, sans-serif" font-size="21.5" font-weight="normal" text-anchor="end" fill="#000" stroke="#000" stroke-width="0.6">0.0</text>
<line x1="108" y1="1475.6" x2="117" y2="1475.6" stroke="#000" stroke-width="2.4" stroke-linecap="butt"/>
<text x="105" y="1483.2" font-family="'Liberation Sans', Arial, sans-serif" font-size="21.5" font-weight="normal" text-anchor="end" fill="#000" stroke="#000" stroke-width="0.6">0.4</text>
<line x1="108" y1="1417.1" x2="117" y2="1417.1" stroke="#000" stroke-width="2.4" stroke-linecap="butt"/>
<text x="105" y="1424.7" font-family="'Liberation Sans', Arial, sans-serif" font-size="21.5" font-weight="normal" text-anchor="end" fill="#000" stroke="#000" stroke-width="0.6">0.8</text>
<line x1="108" y1="1358.7" x2="117" y2="1358.7" stroke="#000" stroke-width="2.4" stroke-linecap="butt"/>
<text x="105" y="1366.3" font-family="'Liberation Sans', Arial, sans-serif" font-size="21.5" font-weight="normal" text-anchor="end" fill="#000" stroke="#000" stroke-width="0.6">1.2</text>
<line x1="108" y1="1300.2" x2="117" y2="1300.2" stroke="#000" stroke-width="2.4" stroke-linecap="butt"/>
<text x="105" y="1307.8" font-family="'Liberation Sans', Arial, sans-serif" font-size="21.5" font-weight="normal" text-anchor="end" fill="#000" stroke="#000" stroke-width="0.6">1.6</text>
<line x1="108" y1="1241.8" x2="117" y2="1241.8" stroke="#000" stroke-width="2.4" stroke-linecap="butt"/>
<text x="105" y="1249.4" font-family="'Liberation Sans', Arial, sans-serif" font-size="21.5" font-weight="normal" text-anchor="end" fill="#000" stroke="#000" stroke-width="0.6">2.0</text>
<line x1="117" y1="1534" x2="549.2" y2="1534" stroke="#000" stroke-width="2.6" stroke-linecap="butt"/>
<line x1="117" y1="1534" x2="117" y2="1543" stroke="#000" stroke-width="2.4" stroke-linecap="butt"/>
<text x="117" y="1567" font-family="'Liberation Sans', Arial, sans-serif" font-size="21.5" font-weight="normal" text-anchor="middle" fill="#000" stroke="#000" stroke-width="0.6">0</text>
<line x1="260.7" y1="1534" x2="260.7" y2="1543" stroke="#000" stroke-width="2.4" stroke-linecap="butt"/>
<text x="260.7" y="1567" font-family="'Liberation Sans', Arial, sans-serif" font-size="21.5" font-weight="normal" text-anchor="middle" fill="#000" stroke="#000" stroke-width="0.6">24</text>
<line x1="404.6" y1="1534" x2="404.6" y2="1543" stroke="#000" stroke-width="2.4" stroke-linecap="butt"/>
<text x="404.6" y="1567" font-family="'Liberation Sans', Arial, sans-serif" font-size="21.5" font-weight="normal" text-anchor="middle" fill="#000" stroke="#000" stroke-width="0.6">48</text>
<line x1="548.2" y1="1534" x2="548.2" y2="1543" stroke="#000" stroke-width="2.4" stroke-linecap="butt"/>
<text x="548.2" y="1567" font-family="'Liberation Sans', Arial, sans-serif" font-size="21.5" font-weight="normal" text-anchor="middle" fill="#000" stroke="#000" stroke-width="0.6">72</text>
<text x="563" y="1567" font-family="'Liberation Sans', Arial, sans-serif" font-size="21.5" font-weight="normal" text-anchor="start" fill="#000" stroke="#000" stroke-width="0.6">(h)</text>
<text x="57" y="1385.9" font-family="'Liberation Sans', Arial, sans-serif" font-size="20.5" font-weight="bold" text-anchor="middle" transform="rotate(-90 57 1385.9)" >OD450</text>
<polyline points="117,1504.8 260.7,1461 404.6,1398.1 548.2,1322.2" fill="none" stroke="#e8191c" stroke-width="2.6" stroke-linejoin="miter"/>
<polyline points="117,1504.8 260.7,1487.2 404.6,1449.3 548.2,1398.1" fill="none" stroke="#1a8a45" stroke-width="2.6" stroke-linejoin="miter"/>
<line x1="117" y1="1512.1" x2="117" y2="1497.5" stroke="#e8191c" stroke-width="3" stroke-linecap="butt"/>
<line x1="109" y1="1497.5" x2="125" y2="1497.5" stroke="#e8191c" stroke-width="3.4" stroke-linecap="butt"/>
<line x1="109" y1="1512.1" x2="125" y2="1512.1" stroke="#e8191c" stroke-width="3.4" stroke-linecap="butt"/>
<circle cx="117" cy="1504.8" r="6" fill="#e8191c"/>
<line x1="260.7" y1="1471.2" x2="260.7" y2="1450.7" stroke="#e8191c" stroke-width="3" stroke-linecap="butt"/>
<line x1="252.7" y1="1450.7" x2="268.7" y2="1450.7" stroke="#e8191c" stroke-width="3.4" stroke-linecap="butt"/>
<line x1="252.7" y1="1471.2" x2="268.7" y2="1471.2" stroke="#e8191c" stroke-width="3.4" stroke-linecap="butt"/>
<circle cx="260.7" cy="1461" r="6" fill="#e8191c"/>
<line x1="404.6" y1="1408.4" x2="404.6" y2="1387.9" stroke="#e8191c" stroke-width="3" stroke-linecap="butt"/>
<line x1="396.6" y1="1387.9" x2="412.6" y2="1387.9" stroke="#e8191c" stroke-width="3.4" stroke-linecap="butt"/>
<line x1="396.6" y1="1408.4" x2="412.6" y2="1408.4" stroke="#e8191c" stroke-width="3.4" stroke-linecap="butt"/>
<circle cx="404.6" cy="1398.1" r="6" fill="#e8191c"/>
<line x1="548.2" y1="1332.4" x2="548.2" y2="1311.9" stroke="#e8191c" stroke-width="3" stroke-linecap="butt"/>
<line x1="540.2" y1="1311.9" x2="556.2" y2="1311.9" stroke="#e8191c" stroke-width="3.4" stroke-linecap="butt"/>
<line x1="540.2" y1="1332.4" x2="556.2" y2="1332.4" stroke="#e8191c" stroke-width="3.4" stroke-linecap="butt"/>
<circle cx="548.2" cy="1322.2" r="6" fill="#e8191c"/>
<line x1="117" y1="1512.1" x2="117" y2="1497.5" stroke="#1a8a45" stroke-width="3" stroke-linecap="butt"/>
<line x1="109" y1="1497.5" x2="125" y2="1497.5" stroke="#1a8a45" stroke-width="3.4" stroke-linecap="butt"/>
<line x1="109" y1="1512.1" x2="125" y2="1512.1" stroke="#1a8a45" stroke-width="3.4" stroke-linecap="butt"/>
<path d="M117,1497 L124.8,1504.8 L117,1512.6 L109.2,1504.8 Z" fill="#fff" stroke="#1a8a45" stroke-width="3.4"/>
<line x1="260.7" y1="1496" x2="260.7" y2="1478.5" stroke="#1a8a45" stroke-width="3" stroke-linecap="butt"/>
<line x1="252.7" y1="1478.5" x2="268.7" y2="1478.5" stroke="#1a8a45" stroke-width="3.4" stroke-linecap="butt"/>
<line x1="252.7" y1="1496" x2="268.7" y2="1496" stroke="#1a8a45" stroke-width="3.4" stroke-linecap="butt"/>
<path d="M260.7,1479.4 L268.5,1487.2 L260.7,1495 L252.9,1487.2 Z" fill="#fff" stroke="#1a8a45" stroke-width="3.4"/>
<line x1="404.6" y1="1458" x2="404.6" y2="1440.5" stroke="#1a8a45" stroke-width="3" stroke-linecap="butt"/>
<line x1="396.6" y1="1440.5" x2="412.6" y2="1440.5" stroke="#1a8a45" stroke-width="3.4" stroke-linecap="butt"/>
<line x1="396.6" y1="1458" x2="412.6" y2="1458" stroke="#1a8a45" stroke-width="3.4" stroke-linecap="butt"/>
<path d="M404.6,1441.5 L412.4,1449.3 L404.6,1457.1 L396.8,1449.3 Z" fill="#fff" stroke="#1a8a45" stroke-width="3.4"/>
<line x1="548.2" y1="1405.4" x2="548.2" y2="1390.8" stroke="#1a8a45" stroke-width="3" stroke-linecap="butt"/>
<line x1="540.2" y1="1390.8" x2="556.2" y2="1390.8" stroke="#1a8a45" stroke-width="3.4" stroke-linecap="butt"/>
<line x1="540.2" y1="1405.4" x2="556.2" y2="1405.4" stroke="#1a8a45" stroke-width="3.4" stroke-linecap="butt"/>
<path d="M548.2,1390.3 L556,1398.1 L548.2,1405.9 L540.4,1398.1 Z" fill="#fff" stroke="#1a8a45" stroke-width="3.4"/>
<text x="260.7" y="1517" font-family="'Liberation Sans', Arial, sans-serif" font-size="24" font-weight="normal" text-anchor="middle" fill="#000" >*</text>
<text x="404.6" y="1477.8" font-family="'Liberation Sans', Arial, sans-serif" font-size="24" font-weight="normal" text-anchor="middle" fill="#000" >*</text>
<text x="548.2" y="1426.7" font-family="'Liberation Sans', Arial, sans-serif" font-size="24" font-weight="normal" text-anchor="middle" fill="#000" >*</text>
<line x1="369.6" y1="1238.2" x2="400.5" y2="1238.2" stroke="#1a8a45" stroke-width="2.6" stroke-linecap="butt"/>
<path d="M385,1230.4 L392.8,1238.2 L385,1246 L377.2,1238.2 Z" fill="#fff" stroke="#1a8a45" stroke-width="3.4"/>
<line x1="369.6" y1="1268.6" x2="400.5" y2="1268.6" stroke="#e8191c" stroke-width="2.6" stroke-linecap="butt"/>
<circle cx="385" cy="1268.6" r="5.6" fill="#e8191c"/>
<text x="418" y="1246" font-family="'Liberation Sans', Arial, sans-serif" font-size="24.3" font-weight="normal" text-anchor="start" fill="#000" stroke="#000" stroke-width="0.5">Sh GRB14</text>
<text x="418" y="1276.4" font-family="'Liberation Sans', Arial, sans-serif" font-size="24.3" font-weight="normal" text-anchor="start" fill="#000" stroke="#000" stroke-width="0.5">Sh NC</text>
<text x="630" y="830" font-family="'Liberation Sans', Arial, sans-serif" font-size="39.5" font-weight="bold" text-anchor="start" fill="#000" >(e)</text>
<text x="795.5" y="830" font-family="'Liberation Sans', Arial, sans-serif" font-size="37" font-weight="bold" textLength="114.9" lengthAdjust="spacingAndGlyphs">Lv ctrl</text>
<text x="1089.6" y="830" font-family="'Liberation Sans', Arial, sans-serif" font-size="37" font-weight="bold" textLength="185.4" lengthAdjust="spacingAndGlyphs">Lv GRB14</text>
<text x="804.6" y="1250" font-family="'Liberation Sans', Arial, sans-serif" font-size="37" font-weight="bold" textLength="114.9" lengthAdjust="spacingAndGlyphs">Sh NC</text>
<text x="1103" y="1250" font-family="'Liberation Sans', Arial, sans-serif" font-size="37" font-weight="bold" textLength="192" lengthAdjust="spacingAndGlyphs">Sh GRB14</text>
<clipPath id="p11"><rect x="701.5" y="844.6" width="320.5" height="314.4"/></clipPath>
<g clip-path="url(#p11)">
<rect x="701.5" y="844.6" width="320.5" height="314.4" fill="#cacacc"/>
<ellipse cx="846.5" cy="1020.6" rx="47.3" ry="11.6" fill="#ececee" opacity="0.6" transform="rotate(5 846.5 1020.6)" filter="url(#bl8)"/>
<ellipse cx="975.5" cy="904.3" rx="43.1" ry="11.7" fill="#ececee" opacity="0.6" transform="rotate(18 975.5 904.3)" filter="url(#bl8)"/>
<ellipse cx="955.6" cy="874.2" rx="25.6" ry="7.1" fill="#ececee" opacity="0.6" transform="rotate(43 955.6 874.2)" filter="url(#bl8)"/>
<ellipse cx="986.9" cy="1044.1" rx="35.8" ry="10.8" fill="#ececee" opacity="0.6" transform="rotate(-3 986.9 1044.1)" filter="url(#bl8)"/>
<ellipse cx="911.1" cy="1038.1" rx="20.5" ry="6.2" fill="#ececee" opacity="0.6" transform="rotate(7 911.1 1038.1)" filter="url(#bl8)"/>
<ellipse cx="721.7" cy="855.8" rx="45.8" ry="13.2" fill="#ececee" opacity="0.6" transform="rotate(39 721.7 855.8)" filter="url(#bl8)"/>
<ellipse cx="850.2" cy="983.1" rx="44.5" ry="12.2" fill="#ececee" opacity="0.6" transform="rotate(21 850.2 983.1)" filter="url(#bl8)"/>
<ellipse cx="795.8" cy="846" rx="18" ry="13.9" fill="#ececee" opacity="0.6" transform="rotate(-8 795.8 846)" filter="url(#bl8)"/>
<ellipse cx="1021.2" cy="1157.6" rx="44.4" ry="14.5" fill="#ececee" opacity="0.6" transform="rotate(-20 1021.2 1157.6)" filter="url(#bl8)"/>
<ellipse cx="944.4" cy="1005.9" rx="16" ry="12.8" fill="#ececee" opacity="0.6" transform="rotate(-47 944.4 1005.9)" filter="url(#bl8)"/>
<ellipse cx="829.8" cy="1110.8" rx="28.5" ry="17.5" fill="#ececee" opacity="0.6" transform="rotate(48 829.8 1110.8)" filter="url(#bl8)"/>
<ellipse cx="921" cy="911.7" rx="47.4" ry="6.6" fill="#ececee" opacity="0.6" transform="rotate(-12 921 911.7)" filter="url(#bl8)"/>
<ellipse cx="1015.7" cy="969.6" rx="17.6" ry="13.6" fill="#ececee" opacity="0.6" transform="rotate(39 1015.7 969.6)" filter="url(#bl8)"/>
<ellipse cx="917.8" cy="950.5" rx="25.9" ry="6.2" fill="#ececee" opacity="0.6" transform="rotate(-8 917.8 950.5)" filter="url(#bl8)"/>
<ellipse cx="862.5" cy="999" rx="154.7" ry="150" fill="#b9b6c6" stroke="#5e5c74" stroke-width="1.8"/>
<ellipse cx="862.5" cy="999" rx="147.7" ry="143" fill="none" stroke="#d8d6e2" stroke-width="1.6"/>
<ellipse cx="859.8" cy="995.5" rx="143" ry="134" fill="#a39ec4" filter="url(#bl1)"/>
<radialGradient id="rg11" cx="50%" cy="50%" r="50%"><stop offset="0" stop-color="#b8b6c2"/><stop offset="0.7" stop-color="#aba8bb"/><stop offset="1" stop-color="#9993b6"/></radialGradient>
<ellipse cx="859" cy="1008" rx="135" ry="126" fill="url(#rg11)" stroke="#6f6a92" stroke-width="1.4"/>
<ellipse cx="859.5" cy="999.1" rx="28.6" ry="13.8" fill="#c8c6d0" opacity="0.55" filter="url(#bl8)"/>
<ellipse cx="919" cy="1030.1" rx="26.2" ry="22.1" fill="#c8c6d0" opacity="0.55" filter="url(#bl8)"/>
<ellipse cx="844.4" cy="1012.7" rx="45.6" ry="14.4" fill="#c8c6d0" opacity="0.55" filter="url(#bl8)"/>
<ellipse cx="853.2" cy="1001.1" rx="34.7" ry="15.8" fill="#c8c6d0" opacity="0.55" filter="url(#bl8)"/>
<ellipse cx="849.2" cy="1080.8" rx="48.1" ry="17.5" fill="#c8c6d0" opacity="0.55" filter="url(#bl8)"/>
<ellipse cx="871.8" cy="997.5" rx="33.8" ry="27.4" fill="#c8c6d0" opacity="0.55" filter="url(#bl8)"/>
<ellipse cx="853.9" cy="1002.1" rx="54.6" ry="15.8" fill="#c8c6d0" opacity="0.55" filter="url(#bl8)"/>
<ellipse cx="855.7" cy="1066.3" rx="31.5" ry="17.3" fill="#c8c6d0" opacity="0.55" filter="url(#bl8)"/>
<g fill="#251b68"><circle cx="903.8" cy="1028.8" r="2.3"/><circle cx="842.8" cy="990.5" r="1.7"/><circle cx="792.9" cy="1072.3" r="2.3"/><circle cx="754.6" cy="1018" r="2.0"/><circle cx="884.4" cy="1060.8" r="1.4"/><circle cx="890" cy="944.1" r="1.4"/><circle cx="918.2" cy="1093.2" r="2.3"/><circle cx="901.3" cy="1121.1" r="2.0"/><circle cx="785.2" cy="955.6" r="1.1"/><circle cx="936.6" cy="1067.2" r="1.7"/><circle cx="867.3" cy="1114" r="1.7"/><circle cx="748.4" cy="1064.1" r="2.0"/><circle cx="841.4" cy="1066.7" r="2.7"/><circle cx="915.7" cy="1000.4" r="2.0"/><circle cx="744.6" cy="966.2" r="2.3"/><circle cx="922" cy="1037.5" r="1.4"/><circle cx="858.7" cy="966" r="2.0"/><circle cx="818.8" cy="1021.3" r="1.4"/><circle cx="838.7" cy="1101" r="1.4"/><circle cx="908.7" cy="1038.3" r="2.0"/><circle cx="968.9" cy="995.4" r="2.7"/><circle cx="732.1" cy="991.6" r="2.3"/><circle cx="884.6" cy="1013.3" r="1.7"/><circle cx="819.9" cy="893.3" r="1.1"/><circle cx="821.2" cy="982.9" r="1.1"/><circle cx="848.9" cy="931.2" r="1.1"/><circle cx="950.5" cy="1051.7" r="2.7"/><circle cx="981.6" cy="1040.8" r="2.7"/><circle cx="824.7" cy="901.3" r="1.7"/><circle cx="791.8" cy="1092.3" r="1.1"/><circle cx="922.6" cy="945.6" r="1.1"/><circle cx="927.5" cy="934" r="2.3"/><circle cx="812.5" cy="937.4" r="1.1"/><circle cx="822" cy="979.9" r="2.7"/><circle cx="915.9" cy="1055.1" r="2.0"/><circle cx="846.7" cy="925.1" r="2.7"/><circle cx="826.1" cy="924" r="2.0"/><circle cx="884.6" cy="969.5" r="2.3"/><circle cx="964" cy="1026.6" r="2.0"/><circle cx="986.4" cy="1024.8" r="1.1"/><circle cx="751.2" cy="1009.7" r="2.0"/><circle cx="858.2" cy="1028.3" r="1.7"/><circle cx="925.9" cy="1086.6" r="2.3"/><circle cx="919.9" cy="1110.8" r="2.7"/><circle cx="948.7" cy="968.8" r="1.4"/><circle cx="807.3" cy="1100" r="1.4"/><circle cx="779.2" cy="924.4" r="1.4"/><circle cx="924.2" cy="951" r="2.3"/><circle cx="920.6" cy="976.7" r="1.4"/><circle cx="737.1" cy="1010.5" r="1.1"/><circle cx="828" cy="891.8" r="1.7"/><circle cx="882.9" cy="962" r="2.0"/><circle cx="847.9" cy="1073.2" r="2.0"/><circle cx="784.4" cy="1071.3" r="2.7"/><circle cx="810.3" cy="1112.5" r="2.3"/><circle cx="814.7" cy="1020.7" r="1.1"/><circle cx="840.1" cy="1106.6" r="2.7"/><circle cx="832.1" cy="913.6" r="1.7"/><circle cx="797.4" cy="929.6" r="2.7"/><circle cx="921.8" cy="1075.2" r="1.1"/><circle cx="868.3" cy="936.5" r="1.4"/><circle cx="896.7" cy="891.8" r="1.1"/><circle cx="756.2" cy="1041.5" r="2.7"/><circle cx="803" cy="944.9" r="1.1"/><circle cx="831.5" cy="949.2" r="2.0"/><circle cx="854.7" cy="1114.7" r="2.0"/><circle cx="825.1" cy="1001" r="1.4"/><circle cx="847" cy="1087.1" r="2.7"/><circle cx="952.8" cy="977.6" r="1.4"/><circle cx="765.4" cy="1077.1" r="1.4"/><circle cx="967.7" cy="1069.9" r="2.7"/><circle cx="786.4" cy="1065.5" r="1.4"/><circle cx="770.1" cy="924.5" r="2.0"/><circle cx="754" cy="976.2" r="2.3"/><circle cx="896" cy="893.7" r="2.0"/><circle cx="798.9" cy="1115.6" r="1.1"/><circle cx="837.8" cy="896.9" r="2.7"/><circle cx="909.4" cy="983.7" r="1.4"/><circle cx="964.1" cy="936.7" r="1.7"/><circle cx="743" cy="982.4" r="1.7"/><circle cx="850.4" cy="1114.8" r="1.1"/><circle cx="831" cy="1044.7" r="2.0"/><circle cx="808.3" cy="1080.4" r="1.7"/><circle cx="827.6" cy="1010.3" r="1.1"/><circle cx="828.1" cy="1021.8" r="2.3"/><circle cx="798.4" cy="1103.6" r="1.4"/><circle cx="730.3" cy="1030.5" r="2.7"/><circle cx="747.6" cy="996.1" r="2.0"/><circle cx="952" cy="977.2" r="2.7"/><circle cx="920.4" cy="1042.4" r="2.3"/><circle cx="745.6" cy="967" r="2.3"/><circle cx="794" cy="935.8" r="2.3"/><circle cx="854.4" cy="1112.1" r="2.3"/><circle cx="890.8" cy="1118.6" r="2.3"/><circle cx="755.4" cy="993.2" r="1.4"/><circle cx="812.4" cy="1035.2" r="1.1"/><circle cx="834.4" cy="990.1" r="1.1"/><circle cx="768.6" cy="999.5" r="2.3"/><circle cx="895.5" cy="1040.8" r="1.4"/><circle cx="952.6" cy="1046.4" r="2.0"/><circle cx="964.2" cy="954.6" r="2.0"/><circle cx="847.3" cy="1097.9" r="1.4"/><circle cx="791.9" cy="1107.1" r="2.0"/><circle cx="805.8" cy="1000.1" r="2.0"/><circle cx="765.3" cy="928.1" r="1.4"/><circle cx="820.5" cy="892.3" r="1.1"/><circle cx="883.9" cy="1071.4" r="2.7"/><circle cx="834.6" cy="1112.9" r="1.4"/><circle cx="820.2" cy="974.1" r="2.7"/><circle cx="752.2" cy="951.4" r="2.3"/><circle cx="858.8" cy="1071.9" r="2.3"/><circle cx="880" cy="989.3" r="2.7"/><circle cx="772.1" cy="1057.1" r="1.4"/><circle cx="739" cy="980.6" r="2.3"/><circle cx="793.5" cy="935.6" r="2.3"/><circle cx="765" cy="933.8" r="1.4"/><circle cx="952.5" cy="956.2" r="1.7"/><circle cx="926.6" cy="963.7" r="1.7"/><circle cx="911.6" cy="967.7" r="1.4"/><circle cx="903.6" cy="972.5" r="1.4"/><circle cx="892.3" cy="1042.2" r="2.0"/><circle cx="958.8" cy="1073" r="2.0"/><circle cx="749.3" cy="979.5" r="1.4"/><circle cx="766.8" cy="1068.3" r="1.1"/><circle cx="945.1" cy="1063.4" r="1.7"/><circle cx="968.7" cy="944.2" r="1.1"/><circle cx="828.3" cy="910.2" r="1.7"/><circle cx="746.4" cy="1006.2" r="1.4"/><circle cx="890.9" cy="921.7" r="1.1"/><circle cx="959.4" cy="1030.5" r="2.3"/><circle cx="939.9" cy="956.8" r="1.4"/><circle cx="886.7" cy="1067.3" r="1.4"/><circle cx="985.8" cy="1000.8" r="1.1"/><circle cx="807.5" cy="981.7" r="2.7"/><circle cx="744.7" cy="1033.9" r="1.7"/><circle cx="786.9" cy="1063" r="1.7"/><circle cx="762.3" cy="1050.4" r="1.1"/><circle cx="834.7" cy="982.6" r="1.4"/><circle cx="899" cy="1088.9" r="2.7"/><circle cx="772.1" cy="1094.1" r="2.3"/><circle cx="910" cy="1088.5" r="1.1"/><circle cx="837.2" cy="1048.8" r="2.7"/><circle cx="948.5" cy="925.1" r="2.0"/><circle cx="797.8" cy="981.3" r="2.3"/><circle cx="978.3" cy="995.8" r="1.7"/><circle cx="848.8" cy="1058.8" r="2.7"/><circle cx="880.1" cy="897.1" r="2.0"/><circle cx="915.3" cy="1066.2" r="2.3"/><circle cx="818.9" cy="904.6" r="1.4"/><circle cx="763.6" cy="1067.9" r="1.1"/><circle cx="882.7" cy="935.6" r="1.1"/><circle cx="945.4" cy="1013.4" r="2.7"/><circle cx="891.2" cy="986.9" r="1.7"/><circle cx="963.6" cy="972.6" r="1.7"/><circle cx="878.3" cy="1091.3" r="1.4"/><circle cx="771.1" cy="990.7" r="2.0"/><circle cx="787.8" cy="925.3" r="2.0"/><circle cx="887.6" cy="1004.6" r="2.3"/><circle cx="916.3" cy="1051.2" r="2.0"/><circle cx="826.7" cy="1029.5" r="1.4"/><circle cx="846.2" cy="992" r="1.7"/><circle cx="858.3" cy="1125.5" r="2.3"/><circle cx="769.8" cy="986.4" r="2.3"/><circle cx="740" cy="957.5" r="2.7"/><circle cx="755.8" cy="1043.1" r="2.3"/><circle cx="763" cy="945" r="1.1"/><circle cx="762.5" cy="1086" r="2.0"/><circle cx="795.7" cy="1018.6" r="2.0"/><circle cx="756.2" cy="982.1" r="2.0"/><circle cx="946.2" cy="978.8" r="2.3"/><circle cx="792.9" cy="1053.7" r="2.3"/><circle cx="834.4" cy="1108.6" r="2.3"/><circle cx="959.4" cy="963.5" r="2.7"/><circle cx="852.2" cy="1029.2" r="1.4"/><circle cx="765.4" cy="955.8" r="2.0"/><circle cx="861.6" cy="924.2" r="1.7"/><circle cx="858.6" cy="971.1" r="2.7"/><circle cx="902.3" cy="993.3" r="1.4"/><circle cx="771" cy="1047" r="1.4"/><circle cx="908.7" cy="1021.6" r="2.7"/><circle cx="909.9" cy="977.6" r="1.4"/><circle cx="815.1" cy="976.8" r="2.3"/><circle cx="810.7" cy="1033.9" r="1.1"/><circle cx="820.4" cy="1053.4" r="1.7"/><circle cx="754.7" cy="1044.5" r="2.0"/><circle cx="770.8" cy="947.4" r="2.7"/><circle cx="755.4" cy="1061.5" r="2.3"/><circle cx="882.5" cy="957.4" r="1.7"/><circle cx="851.7" cy="939.5" r="1.1"/><circle cx="777.2" cy="1006.6" r="2.3"/></g>
</g>
<clipPath id="p12"><rect x="1029.5" y="844.6" width="319.9" height="314.4"/></clipPath>
<g clip-path="url(#p12)">
<rect x="1029.5" y="844.6" width="319.9" height="314.4" fill="#cacacc"/>
<ellipse cx="1181.3" cy="1051.3" rx="38.3" ry="7.7" fill="#ececee" opacity="0.6" transform="rotate(-59 1181.3 1051.3)" filter="url(#bl8)"/>
<ellipse cx="1348.3" cy="996.3" rx="37.5" ry="11.5" fill="#ececee" opacity="0.6" transform="rotate(50 1348.3 996.3)" filter="url(#bl8)"/>
<ellipse cx="1221.9" cy="1020.1" rx="38.1" ry="7.7" fill="#ececee" opacity="0.6" transform="rotate(-4 1221.9 1020.1)" filter="url(#bl8)"/>
<ellipse cx="1147.1" cy="951.4" rx="22.4" ry="12.9" fill="#ececee" opacity="0.6" transform="rotate(-35 1147.1 951.4)" filter="url(#bl8)"/>
<ellipse cx="1053.4" cy="1060.6" rx="26.8" ry="10.9" fill="#ececee" opacity="0.6" transform="rotate(47 1053.4 1060.6)" filter="url(#bl8)"/>
<ellipse cx="1057.4" cy="1133.5" rx="43.7" ry="13.9" fill="#ececee" opacity="0.6" transform="rotate(-32 1057.4 1133.5)" filter="url(#bl8)"/>
<ellipse cx="1058.6" cy="1155" rx="48.1" ry="7.4" fill="#ececee" opacity="0.6" transform="rotate(-6 1058.6 1155)" filter="url(#bl8)"/>
<ellipse cx="1340.2" cy="1014.2" rx="45.9" ry="12.7" fill="#ececee" opacity="0.6" transform="rotate(29 1340.2 1014.2)" filter="url(#bl8)"/>
<ellipse cx="1312.8" cy="1019.1" rx="32.8" ry="7" fill="#ececee" opacity="0.6" transform="rotate(17 1312.8 1019.1)" filter="url(#bl8)"/>
<ellipse cx="1163.5" cy="1032" rx="31.7" ry="10.6" fill="#ececee" opacity="0.6" transform="rotate(-57 1163.5 1032)" filter="url(#bl8)"/>
<ellipse cx="1234.5" cy="870.6" rx="21.7" ry="15.4" fill="#ececee" opacity="0.6" transform="rotate(-27 1234.5 870.6)" filter="url(#bl8)"/>
<ellipse cx="1143.5" cy="958.8" rx="39.2" ry="14.1" fill="#ececee" opacity="0.6" transform="rotate(-46 1143.5 958.8)" filter="url(#bl8)"/>
<ellipse cx="1110.2" cy="950" rx="28" ry="12.9" fill="#ececee" opacity="0.6" transform="rotate(37 1110.2 950)" filter="url(#bl8)"/>
<ellipse cx="1189.5" cy="853.4" rx="43.8" ry="11.2" fill="#ececee" opacity="0.6" transform="rotate(6 1189.5 853.4)" filter="url(#bl8)"/>
<ellipse cx="1190" cy="999" rx="153" ry="150" fill="#b9b6c6" stroke="#5e5c74" stroke-width="1.8"/>
<ellipse cx="1190" cy="999" rx="146" ry="143" fill="none" stroke="#d8d6e2" stroke-width="1.6"/>
<ellipse cx="1192.5" cy="997.5" rx="142" ry="133" fill="#a39ec4" filter="url(#bl1)"/>
<radialGradient id="rg12" cx="50%" cy="50%" r="50%"><stop offset="0" stop-color="#b8b6c2"/><stop offset="0.7" stop-color="#aba8bb"/><stop offset="1" stop-color="#9993b6"/></radialGradient>
<ellipse cx="1183" cy="1008" rx="134" ry="125" fill="url(#rg12)" stroke="#6f6a92" stroke-width="1.4"/>
<ellipse cx="1236.6" cy="1016.2" rx="21.5" ry="15.7" fill="#c8c6d0" opacity="0.55" filter="url(#bl8)"/>
<ellipse cx="1135.7" cy="972.7" rx="27.7" ry="13.4" fill="#c8c6d0" opacity="0.55" filter="url(#bl8)"/>
<ellipse cx="1177.8" cy="1040.1" rx="37.4" ry="22.8" fill="#c8c6d0" opacity="0.55" filter="url(#bl8)"/>
<ellipse cx="1176.8" cy="969.9" rx="32.9" ry="18.1" fill="#c8c6d0" opacity="0.55" filter="url(#bl8)"/>
<ellipse cx="1129.1" cy="1022.4" rx="49.9" ry="16.3" fill="#c8c6d0" opacity="0.55" filter="url(#bl8)"/>
<ellipse cx="1220.3" cy="1005.5" rx="39.2" ry="15.3" fill="#c8c6d0" opacity="0.55" filter="url(#bl8)"/>
<ellipse cx="1184.8" cy="991.6" rx="41.2" ry="29.1" fill="#c8c6d0" opacity="0.55" filter="url(#bl8)"/>
<ellipse cx="1238.5" cy="977.5" rx="26.3" ry="26.3" fill="#c8c6d0" opacity="0.55" filter="url(#bl8)"/>
<g fill="#251b68"><circle cx="1108.6" cy="1007.4" r="1.1"/><circle cx="1312.2" cy="995.7" r="2.3"/><circle cx="1254" cy="1105.2" r="2.7"/><circle cx="1236.5" cy="919.8" r="1.4"/><circle cx="1204" cy="918.1" r="2.0"/><circle cx="1129.8" cy="957.2" r="2.0"/><circle cx="1232.4" cy="971.9" r="1.7"/><circle cx="1154.8" cy="984.3" r="1.7"/><circle cx="1276.6" cy="975.9" r="2.7"/><circle cx="1071.6" cy="1045.4" r="2.7"/><circle cx="1166.6" cy="1076.5" r="2.7"/><circle cx="1213.8" cy="1008.7" r="2.3"/><circle cx="1252.5" cy="951.9" r="1.4"/><circle cx="1212.6" cy="1093.4" r="1.1"/><circle cx="1082.9" cy="971.1" r="1.7"/><circle cx="1189" cy="922.7" r="2.3"/><circle cx="1258.5" cy="1054.5" r="1.4"/><circle cx="1108.4" cy="969.7" r="1.7"/><circle cx="1125.6" cy="944.9" r="1.4"/><circle cx="1295.7" cy="1019.3" r="1.1"/><circle cx="1219.8" cy="897.1" r="2.0"/><circle cx="1067.6" cy="984" r="2.0"/><circle cx="1212.8" cy="906" r="1.4"/><circle cx="1134.9" cy="1117.1" r="2.7"/><circle cx="1145" cy="923.9" r="2.3"/><circle cx="1254.7" cy="1074.6" r="2.7"/><circle cx="1137.9" cy="920" r="1.1"/><circle cx="1114" cy="1050.6" r="2.7"/><circle cx="1127.6" cy="1098.6" r="2.7"/><circle cx="1140" cy="1104.9" r="2.7"/><circle cx="1114.8" cy="908.6" r="1.7"/><circle cx="1214.2" cy="1065.9" r="2.3"/><circle cx="1121.7" cy="1029.1" r="2.7"/><circle cx="1104.1" cy="958.5" r="1.7"/><circle cx="1241.6" cy="1046.1" r="1.7"/><circle cx="1101.7" cy="1092.5" r="2.7"/><circle cx="1118.3" cy="1035.3" r="1.4"/><circle cx="1070.4" cy="1007.3" r="1.4"/><circle cx="1093.9" cy="1007.6" r="2.3"/><circle cx="1224.1" cy="949.9" r="2.0"/><circle cx="1191.6" cy="972.5" r="1.4"/><circle cx="1088.9" cy="1065.7" r="2.0"/><circle cx="1090.3" cy="996.3" r="1.1"/><circle cx="1284.1" cy="991.5" r="2.7"/><circle cx="1138.7" cy="1108.6" r="1.1"/><circle cx="1139.8" cy="1090.6" r="1.7"/><circle cx="1139.9" cy="963.8" r="2.0"/><circle cx="1198.5" cy="1102" r="1.7"/><circle cx="1090.4" cy="1010.9" r="1.7"/><circle cx="1154.9" cy="1123.1" r="2.3"/><circle cx="1158.5" cy="1117.2" r="2.3"/><circle cx="1158.5" cy="1055.7" r="2.7"/><circle cx="1290.7" cy="1028.8" r="2.0"/><circle cx="1091.6" cy="1060.3" r="1.7"/><circle cx="1120.4" cy="1100.2" r="2.0"/><circle cx="1115.6" cy="1063.7" r="1.4"/><circle cx="1216.3" cy="1064.3" r="1.7"/><circle cx="1242.2" cy="1053.5" r="1.1"/><circle cx="1257.2" cy="932.8" r="2.7"/><circle cx="1220.3" cy="935.4" r="2.7"/><circle cx="1283.8" cy="952.4" r="1.7"/><circle cx="1217.8" cy="951.6" r="1.1"/><circle cx="1148.4" cy="996.3" r="1.4"/><circle cx="1205.8" cy="1067.6" r="1.7"/><circle cx="1298.7" cy="954.7" r="1.7"/><circle cx="1156.1" cy="1000.5" r="1.1"/><circle cx="1118.1" cy="1077" r="1.4"/><circle cx="1087.6" cy="1037.9" r="2.7"/><circle cx="1245.6" cy="1067.6" r="2.0"/><circle cx="1119.8" cy="940.7" r="2.7"/><circle cx="1248.6" cy="912.1" r="2.3"/><circle cx="1302.6" cy="1028" r="1.1"/><circle cx="1270.1" cy="966.5" r="1.7"/><circle cx="1136.3" cy="897.2" r="2.7"/><circle cx="1212.2" cy="916.6" r="2.3"/><circle cx="1151" cy="1037.9" r="1.4"/><circle cx="1141" cy="1063" r="2.0"/><circle cx="1218.5" cy="1027.4" r="1.1"/><circle cx="1212.6" cy="995.7" r="2.7"/><circle cx="1140.6" cy="916.3" r="2.7"/><circle cx="1295.1" cy="981.5" r="1.1"/><circle cx="1095.5" cy="953.9" r="2.0"/><circle cx="1117.4" cy="943.5" r="1.7"/><circle cx="1092.7" cy="1051.9" r="1.7"/><circle cx="1210.6" cy="928.8" r="2.7"/><circle cx="1083.2" cy="934" r="2.7"/><circle cx="1262.1" cy="975.2" r="1.7"/><circle cx="1252.9" cy="1071.2" r="1.4"/><circle cx="1172" cy="989.6" r="1.4"/><circle cx="1249.7" cy="1068.8" r="1.7"/><circle cx="1236.3" cy="911.6" r="1.7"/><circle cx="1086" cy="947.3" r="2.0"/><circle cx="1114.9" cy="1104.7" r="2.7"/><circle cx="1098.7" cy="989.9" r="1.4"/><circle cx="1141.4" cy="1068" r="2.3"/><circle cx="1254" cy="1075.8" r="2.0"/><circle cx="1180.6" cy="938.2" r="2.0"/><circle cx="1238.4" cy="1005" r="2.3"/><circle cx="1139.5" cy="963.7" r="2.3"/><circle cx="1242.8" cy="1091.2" r="1.7"/><circle cx="1124.3" cy="1060.5" r="1.7"/><circle cx="1287.6" cy="943.3" r="2.3"/><circle cx="1146.2" cy="983.6" r="2.3"/><circle cx="1127.3" cy="1045.9" r="1.7"/><circle cx="1105.2" cy="939.4" r="1.4"/><circle cx="1158.7" cy="1082.7" r="2.7"/><circle cx="1159.9" cy="981.2" r="1.7"/><circle cx="1155.5" cy="973.8" r="2.7"/><circle cx="1061.9" cy="989.8" r="1.4"/><circle cx="1230.5" cy="895.7" r="2.7"/><circle cx="1138.8" cy="1110.5" r="1.4"/><circle cx="1158.3" cy="1118.8" r="1.4"/><circle cx="1212.5" cy="1074.8" r="1.1"/><circle cx="1114.5" cy="933.5" r="2.0"/><circle cx="1179.7" cy="932.2" r="1.4"/><circle cx="1265.4" cy="975.9" r="2.0"/><circle cx="1123.8" cy="1054.4" r="1.4"/><circle cx="1189.8" cy="1101.6" r="2.7"/><circle cx="1073.5" cy="1017.7" r="2.7"/><circle cx="1098.3" cy="937.3" r="1.7"/><circle cx="1135.8" cy="1040.4" r="1.1"/><circle cx="1274.3" cy="937.8" r="2.0"/><circle cx="1145.7" cy="942.8" r="2.0"/><circle cx="1253.2" cy="1100" r="2.0"/><circle cx="1125.2" cy="979.6" r="2.0"/><circle cx="1148.9" cy="1027.1" r="1.1"/><circle cx="1086.4" cy="1035.4" r="1.4"/><circle cx="1213.5" cy="1051.8" r="2.3"/><circle cx="1111.9" cy="1070.6" r="2.3"/><circle cx="1239.1" cy="1042.7" r="1.4"/><circle cx="1109.6" cy="1072.4" r="1.7"/><circle cx="1274.6" cy="968.9" r="1.7"/><circle cx="1195.5" cy="956.4" r="1.4"/><circle cx="1192.8" cy="912.9" r="1.4"/><circle cx="1176.2" cy="1102.1" r="2.0"/><circle cx="1266.2" cy="1071" r="1.4"/><circle cx="1284.1" cy="986.5" r="2.7"/><circle cx="1258.2" cy="1034.7" r="2.0"/><circle cx="1092.5" cy="1083.3" r="1.1"/><circle cx="1294" cy="1063" r="2.3"/><circle cx="1069.5" cy="1038.8" r="2.3"/><circle cx="1167.7" cy="1018.4" r="2.3"/><circle cx="1096.2" cy="1091.5" r="1.1"/><circle cx="1159.7" cy="1044.5" r="2.7"/><circle cx="1089.9" cy="924" r="1.4"/><circle cx="1159.1" cy="1077.3" r="2.3"/><circle cx="1180.9" cy="914.4" r="2.7"/><circle cx="1128.8" cy="905.1" r="2.7"/><circle cx="1292" cy="983.2" r="1.7"/><circle cx="1232" cy="1033.9" r="1.1"/><circle cx="1272.6" cy="1081.5" r="1.1"/><circle cx="1136.5" cy="975.3" r="2.3"/><circle cx="1119.3" cy="995.6" r="1.7"/><circle cx="1253.7" cy="998.8" r="2.0"/><circle cx="1242.5" cy="1014.8" r="2.0"/><circle cx="1080.8" cy="963.6" r="1.4"/><circle cx="1234.9" cy="911.3" r="1.7"/><circle cx="1076.7" cy="1052.9" r="1.4"/><circle cx="1196.4" cy="1030.5" r="2.3"/><circle cx="1134.3" cy="1066.6" r="2.3"/><circle cx="1091.8" cy="1013.3" r="1.7"/><circle cx="1261" cy="1026.7" r="2.3"/><circle cx="1109" cy="941.6" r="1.1"/><circle cx="1145.9" cy="1117.5" r="1.7"/><circle cx="1260.6" cy="1094.8" r="1.7"/><circle cx="1189.9" cy="1102.9" r="2.7"/><circle cx="1280" cy="936.3" r="1.1"/><circle cx="1225.4" cy="997.8" r="1.4"/><circle cx="1177.3" cy="887.2" r="2.7"/><circle cx="1141.7" cy="1068.3" r="1.1"/><circle cx="1067.4" cy="1052.9" r="1.7"/><circle cx="1126.7" cy="1094.1" r="1.7"/><circle cx="1131.2" cy="931.6" r="1.4"/><circle cx="1251.6" cy="930.9" r="1.1"/><circle cx="1135.1" cy="928.2" r="1.4"/><circle cx="1072.5" cy="998.7" r="2.0"/><circle cx="1095.8" cy="990.4" r="1.7"/><circle cx="1304" cy="997.2" r="2.7"/><circle cx="1256.9" cy="1086" r="2.3"/><circle cx="1090.3" cy="1023.6" r="1.4"/><circle cx="1265.2" cy="1075.3" r="1.4"/><circle cx="1231.4" cy="1097.7" r="1.7"/><circle cx="1059.4" cy="1030.2" r="2.0"/><circle cx="1090.4" cy="999" r="2.0"/><circle cx="1236.5" cy="975.5" r="2.3"/><circle cx="1118.7" cy="925.4" r="1.4"/><circle cx="1280.4" cy="1061.1" r="2.7"/><circle cx="1135.7" cy="1095.5" r="1.4"/><circle cx="1275.7" cy="1032.1" r="2.0"/><circle cx="1179.8" cy="952.9" r="1.1"/><circle cx="1242.6" cy="938.6" r="2.7"/><circle cx="1116.3" cy="982.4" r="2.0"/><circle cx="1217.5" cy="892.6" r="1.7"/><circle cx="1078" cy="997.8" r="2.3"/><circle cx="1231.3" cy="953.3" r="1.1"/><circle cx="1103.1" cy="1067.4" r="2.3"/><circle cx="1262.9" cy="936.5" r="2.0"/><circle cx="1106.6" cy="956.1" r="2.3"/><circle cx="1231" cy="1053.3" r="2.0"/><circle cx="1194.8" cy="912.7" r="2.7"/><circle cx="1298.5" cy="1052.6" r="1.1"/><circle cx="1255.7" cy="1073.5" r="2.0"/><circle cx="1162" cy="1069.6" r="2.0"/><circle cx="1117.1" cy="922.1" r="2.3"/><circle cx="1222.9" cy="923.1" r="1.7"/><circle cx="1240.1" cy="1032.7" r="2.0"/><circle cx="1265.8" cy="1020.5" r="1.1"/><circle cx="1210.6" cy="1043.8" r="1.7"/><circle cx="1188.3" cy="926.6" r="1.7"/><circle cx="1173" cy="957.1" r="2.7"/><circle cx="1102.5" cy="963.7" r="2.7"/><circle cx="1275.6" cy="1068" r="2.0"/><circle cx="1128.9" cy="1060.6" r="1.7"/><circle cx="1235.9" cy="1007.6" r="1.7"/><circle cx="1193.3" cy="1084.8" r="1.7"/><circle cx="1199.7" cy="919" r="1.7"/><circle cx="1231.5" cy="1009.1" r="1.1"/><circle cx="1234" cy="1081.1" r="2.0"/><circle cx="1130.4" cy="904.8" r="2.0"/><circle cx="1270.7" cy="936.1" r="2.0"/><circle cx="1165.1" cy="964.3" r="1.4"/><circle cx="1133.4" cy="970.8" r="2.7"/><circle cx="1236.2" cy="935.3" r="2.3"/><circle cx="1149" cy="1109.9" r="1.1"/><circle cx="1250.7" cy="1008.9" r="2.0"/><circle cx="1119.3" cy="1055.7" r="2.7"/><circle cx="1307.6" cy="991.6" r="1.1"/><circle cx="1142.7" cy="1030.7" r="1.7"/><circle cx="1199.6" cy="1006.9" r="2.0"/><circle cx="1175.5" cy="1050.6" r="1.7"/><circle cx="1153.4" cy="1049.4" r="2.0"/><circle cx="1188.9" cy="1070.8" r="2.0"/><circle cx="1266.5" cy="1096.2" r="2.7"/><circle cx="1289.5" cy="996.9" r="1.1"/><circle cx="1177.8" cy="941.2" r="1.1"/><circle cx="1295.5" cy="1043.1" r="2.7"/><circle cx="1172.9" cy="953" r="1.7"/><circle cx="1135.1" cy="997.9" r="1.4"/><circle cx="1226.7" cy="1084.7" r="1.1"/><circle cx="1223" cy="1032" r="2.3"/><circle cx="1125.1" cy="1080.3" r="1.4"/><circle cx="1103.4" cy="931.9" r="1.7"/><circle cx="1123.5" cy="1035.3" r="1.4"/><circle cx="1143.7" cy="1110" r="1.1"/><circle cx="1223.8" cy="1014.8" r="2.3"/><circle cx="1171.4" cy="899.4" r="2.7"/><circle cx="1264.2" cy="1014.2" r="2.3"/><circle cx="1102.4" cy="1048.2" r="1.1"/><circle cx="1156.4" cy="1054.4" r="2.0"/><circle cx="1293.5" cy="997" r="1.1"/><circle cx="1075.9" cy="1025.8" r="2.0"/><circle cx="1201.4" cy="912" r="2.7"/><circle cx="1086.2" cy="991.6" r="2.0"/><circle cx="1093" cy="963" r="2.0"/><circle cx="1228.8" cy="1054.7" r="1.1"/><circle cx="1292.1" cy="967.9" r="1.7"/><circle cx="1244" cy="1113.6" r="2.0"/><circle cx="1162.7" cy="1104.6" r="1.1"/><circle cx="1215" cy="1116.2" r="2.3"/><circle cx="1280" cy="1020.6" r="2.7"/><circle cx="1118.9" cy="1037.3" r="2.3"/><circle cx="1146.8" cy="910.8" r="1.4"/><circle cx="1231.6" cy="1101.7" r="1.7"/><circle cx="1267.6" cy="954.3" r="1.7"/><circle cx="1130.9" cy="901" r="1.4"/><circle cx="1308" cy="1023.7" r="1.1"/><circle cx="1235.4" cy="958.9" r="2.3"/><circle cx="1178.4" cy="1114" r="2.3"/><circle cx="1165.2" cy="1084.6" r="2.0"/><circle cx="1142.9" cy="1024.6" r="2.3"/><circle cx="1291.6" cy="1011.6" r="2.7"/><circle cx="1128.3" cy="1000.6" r="2.3"/><circle cx="1125" cy="993.6" r="1.4"/><circle cx="1060.1" cy="984.1" r="1.1"/><circle cx="1228.7" cy="977.3" r="2.0"/><circle cx="1065.7" cy="1053.3" r="2.3"/><circle cx="1070.7" cy="1044.2" r="2.0"/><circle cx="1265.2" cy="1029.3" r="1.4"/><circle cx="1232.9" cy="992.3" r="2.7"/><circle cx="1274.6" cy="965.3" r="2.0"/><circle cx="1078.5" cy="971" r="1.4"/><circle cx="1160.2" cy="1053.1" r="1.4"/><circle cx="1208.6" cy="1095.9" r="2.0"/><circle cx="1274" cy="923.2" r="1.4"/><circle cx="1192.3" cy="907.8" r="2.3"/><circle cx="1292.3" cy="1047.9" r="1.4"/><circle cx="1076.9" cy="1052.3" r="2.0"/><circle cx="1114.9" cy="1074.9" r="2.3"/><circle cx="1231" cy="928" r="2.7"/><circle cx="1081.3" cy="1050.2" r="1.4"/><circle cx="1173.3" cy="1098.3" r="1.1"/><circle cx="1131.7" cy="907.5" r="1.7"/><circle cx="1256.4" cy="1008.4" r="2.3"/><circle cx="1089.2" cy="1056" r="1.4"/><circle cx="1292.9" cy="1070" r="1.1"/><circle cx="1074.2" cy="998.7" r="1.7"/><circle cx="1187.5" cy="1042.4" r="2.3"/><circle cx="1303.4" cy="980.1" r="2.0"/><circle cx="1187.4" cy="908.5" r="1.1"/><circle cx="1163.5" cy="963.4" r="1.1"/><circle cx="1230.7" cy="1095.6" r="2.3"/><circle cx="1292.7" cy="945.4" r="2.0"/><circle cx="1235.2" cy="1108.6" r="1.7"/><circle cx="1288.5" cy="1004.5" r="1.1"/><circle cx="1235.1" cy="1001" r="2.0"/><circle cx="1107.2" cy="1091.1" r="2.0"/><circle cx="1204.4" cy="1124.2" r="2.3"/><circle cx="1081.1" cy="1060.9" r="2.7"/><circle cx="1155.1" cy="1069" r="2.0"/><circle cx="1262.5" cy="1092.8" r="2.0"/><circle cx="1231.5" cy="918.1" r="1.4"/><circle cx="1289.5" cy="1050.9" r="1.1"/><circle cx="1212.5" cy="903.7" r="2.3"/><circle cx="1111.8" cy="1045.1" r="1.1"/><circle cx="1142.3" cy="901.9" r="1.1"/><circle cx="1171.8" cy="1097.8" r="2.7"/><circle cx="1229.7" cy="1061.7" r="2.0"/><circle cx="1220.4" cy="1121.6" r="2.0"/><circle cx="1234.3" cy="1100.2" r="2.3"/><circle cx="1083.1" cy="938.9" r="1.7"/><circle cx="1139.2" cy="1116.8" r="2.0"/><circle cx="1180.6" cy="1061" r="1.4"/><circle cx="1268.7" cy="926.2" r="2.3"/><circle cx="1220" cy="1109.9" r="1.4"/><circle cx="1118" cy="960.1" r="1.1"/><circle cx="1080.3" cy="957.9" r="2.3"/><circle cx="1223.8" cy="909.4" r="2.0"/><circle cx="1069.2" cy="1036.9" r="1.7"/><circle cx="1077.6" cy="1024.6" r="2.7"/><circle cx="1224" cy="907.6" r="1.7"/></g>
</g>
<clipPath id="p13"><rect x="704.6" y="1262.4" width="320.4" height="315.6"/></clipPath>
<g clip-path="url(#p13)">
<rect x="704.6" y="1262.4" width="320.4" height="315.6" fill="#cacacc"/>
<ellipse cx="787.6" cy="1478.7" rx="38.9" ry="16.2" fill="#ececee" opacity="0.6" transform="rotate(-37 787.6 1478.7)" filter="url(#bl8)"/>
<ellipse cx="913.5" cy="1472.6" rx="45.4" ry="13.7" fill="#ececee" opacity="0.6" transform="rotate(-37 913.5 1472.6)" filter="url(#bl8)"/>
<ellipse cx="746.3" cy="1430.1" rx="22.5" ry="9.5" fill="#ececee" opacity="0.6" transform="rotate(-5 746.3 1430.1)" filter="url(#bl8)"/>
<ellipse cx="745.1" cy="1478.3" rx="49.9" ry="17.9" fill="#ececee" opacity="0.6" transform="rotate(46 745.1 1478.3)" filter="url(#bl8)"/>
<ellipse cx="751.6" cy="1537.4" rx="43.3" ry="15.7" fill="#ececee" opacity="0.6" transform="rotate(45 751.6 1537.4)" filter="url(#bl8)"/>
<ellipse cx="849.1" cy="1400.2" rx="19.9" ry="16.5" fill="#ececee" opacity="0.6" transform="rotate(-15 849.1 1400.2)" filter="url(#bl8)"/>
<ellipse cx="976.9" cy="1416" rx="41.4" ry="12.8" fill="#ececee" opacity="0.6" transform="rotate(-6 976.9 1416)" filter="url(#bl8)"/>
<ellipse cx="919.5" cy="1542.9" rx="37.4" ry="13.9" fill="#ececee" opacity="0.6" transform="rotate(-16 919.5 1542.9)" filter="url(#bl8)"/>
<ellipse cx="967.2" cy="1514.3" rx="49.5" ry="14.3" fill="#ececee" opacity="0.6" transform="rotate(10 967.2 1514.3)" filter="url(#bl8)"/>
<ellipse cx="900.4" cy="1573.9" rx="30.4" ry="14.7" fill="#ececee" opacity="0.6" transform="rotate(8 900.4 1573.9)" filter="url(#bl8)"/>
<ellipse cx="761.2" cy="1326.3" rx="33.3" ry="9" fill="#ececee" opacity="0.6" transform="rotate(-2 761.2 1326.3)" filter="url(#bl8)"/>
<ellipse cx="788.5" cy="1350.8" rx="46.1" ry="12.9" fill="#ececee" opacity="0.6" transform="rotate(10 788.5 1350.8)" filter="url(#bl8)"/>
<ellipse cx="780" cy="1336.8" rx="21.8" ry="10.4" fill="#ececee" opacity="0.6" transform="rotate(-51 780 1336.8)" filter="url(#bl8)"/>
<ellipse cx="842.5" cy="1460.9" rx="31.2" ry="6" fill="#ececee" opacity="0.6" transform="rotate(-6 842.5 1460.9)" filter="url(#bl8)"/>
<ellipse cx="866" cy="1418" rx="155" ry="151" fill="#b9b6c6" stroke="#5e5c74" stroke-width="1.8"/>
<ellipse cx="866" cy="1418" rx="148" ry="144" fill="none" stroke="#d8d6e2" stroke-width="1.6"/>
<ellipse cx="863" cy="1420" rx="143" ry="135" fill="#a39ec4" filter="url(#bl1)"/>
<radialGradient id="rg13" cx="50%" cy="50%" r="50%"><stop offset="0" stop-color="#b8b6c2"/><stop offset="0.7" stop-color="#aba8bb"/><stop offset="1" stop-color="#9993b6"/></radialGradient>
<ellipse cx="872" cy="1410" rx="135" ry="127" fill="url(#rg13)" stroke="#6f6a92" stroke-width="1.4"/>
<ellipse cx="875.2" cy="1408.7" rx="25" ry="26.5" fill="#c8c6d0" opacity="0.55" filter="url(#bl8)"/>
<ellipse cx="899.2" cy="1368.6" rx="25.6" ry="19.4" fill="#c8c6d0" opacity="0.55" filter="url(#bl8)"/>
<ellipse cx="920.5" cy="1360.3" rx="48.1" ry="15.7" fill="#c8c6d0" opacity="0.55" filter="url(#bl8)"/>
<ellipse cx="890.4" cy="1387.3" rx="45.1" ry="14.5" fill="#c8c6d0" opacity="0.55" filter="url(#bl8)"/>
<ellipse cx="920.1" cy="1401.7" rx="45.3" ry="15.8" fill="#c8c6d0" opacity="0.55" filter="url(#bl8)"/>
<ellipse cx="837.1" cy="1380.3" rx="40.7" ry="18.5" fill="#c8c6d0" opacity="0.55" filter="url(#bl8)"/>
<ellipse cx="868.1" cy="1384.2" rx="30.3" ry="15" fill="#c8c6d0" opacity="0.55" filter="url(#bl8)"/>
<ellipse cx="868.3" cy="1402.2" rx="27.9" ry="13.2" fill="#c8c6d0" opacity="0.55" filter="url(#bl8)"/>
<g fill="#251b68"><circle cx="807.8" cy="1333.6" r="2.3"/><circle cx="828.3" cy="1295.4" r="1.7"/><circle cx="809.9" cy="1334.7" r="1.4"/><circle cx="928.4" cy="1409.3" r="1.7"/><circle cx="958.8" cy="1355.8" r="2.7"/><circle cx="957.6" cy="1452.6" r="1.7"/><circle cx="892.6" cy="1383.9" r="1.7"/><circle cx="821.8" cy="1490.2" r="2.3"/><circle cx="775.4" cy="1400.4" r="2.7"/><circle cx="903.8" cy="1518.6" r="2.0"/><circle cx="745.9" cy="1409" r="2.7"/><circle cx="928.4" cy="1479.6" r="1.4"/><circle cx="866.3" cy="1509.5" r="1.7"/><circle cx="887.2" cy="1311.1" r="2.0"/><circle cx="896.6" cy="1487.6" r="1.1"/><circle cx="832.8" cy="1492.5" r="1.1"/><circle cx="877.4" cy="1309.7" r="1.1"/><circle cx="825.4" cy="1347" r="2.0"/><circle cx="769.3" cy="1421.8" r="1.7"/><circle cx="966" cy="1445.8" r="1.4"/><circle cx="896" cy="1440.5" r="1.7"/><circle cx="903.7" cy="1350" r="1.7"/><circle cx="808.3" cy="1364.6" r="1.7"/><circle cx="932.3" cy="1469.1" r="2.0"/><circle cx="781.2" cy="1359.3" r="2.0"/><circle cx="970.2" cy="1435.9" r="1.4"/><circle cx="910.4" cy="1402.5" r="1.4"/><circle cx="952.3" cy="1349.7" r="1.4"/><circle cx="974.4" cy="1342.1" r="2.7"/><circle cx="929.5" cy="1484.2" r="1.7"/><circle cx="941.5" cy="1440.9" r="1.4"/><circle cx="942.5" cy="1430.2" r="1.4"/><circle cx="746.3" cy="1395.2" r="2.0"/><circle cx="902.5" cy="1489.8" r="1.1"/><circle cx="939" cy="1310.2" r="1.1"/><circle cx="775.2" cy="1331.4" r="1.7"/><circle cx="792.9" cy="1394.1" r="2.3"/><circle cx="857.4" cy="1454.3" r="1.1"/><circle cx="930.2" cy="1384.9" r="1.1"/><circle cx="961.6" cy="1477.2" r="1.1"/><circle cx="992.3" cy="1409.7" r="2.0"/><circle cx="941.2" cy="1513.4" r="2.7"/><circle cx="855.1" cy="1336.6" r="1.1"/><circle cx="935.2" cy="1458.8" r="2.0"/><circle cx="796" cy="1423.1" r="1.4"/><circle cx="858.8" cy="1414" r="1.1"/><circle cx="795.3" cy="1395.2" r="1.4"/><circle cx="941.1" cy="1382.9" r="1.7"/><circle cx="759.1" cy="1471.8" r="2.0"/><circle cx="819.7" cy="1441.6" r="2.3"/><circle cx="955.4" cy="1354.5" r="1.4"/><circle cx="883.7" cy="1302.9" r="1.4"/><circle cx="995.8" cy="1431.5" r="2.0"/><circle cx="900.5" cy="1354.2" r="1.1"/><circle cx="930.4" cy="1411.9" r="1.1"/><circle cx="946.3" cy="1348.5" r="2.3"/><circle cx="865.5" cy="1371.8" r="2.7"/><circle cx="868.8" cy="1306.4" r="2.0"/><circle cx="972.2" cy="1426.2" r="2.7"/><circle cx="947.8" cy="1500.1" r="1.4"/><circle cx="804.3" cy="1321.9" r="2.0"/><circle cx="940" cy="1377.8" r="2.0"/><circle cx="922.4" cy="1416.4" r="1.7"/><circle cx="852" cy="1406.4" r="2.0"/><circle cx="970" cy="1335.6" r="2.7"/><circle cx="879.3" cy="1446.8" r="2.7"/><circle cx="945.3" cy="1406.8" r="2.3"/><circle cx="868.9" cy="1361" r="1.4"/><circle cx="981.9" cy="1362.8" r="1.4"/><circle cx="824" cy="1311.8" r="2.7"/><circle cx="861.4" cy="1456.6" r="2.7"/><circle cx="949" cy="1490.6" r="2.3"/><circle cx="953.5" cy="1469.1" r="1.4"/><circle cx="794.8" cy="1349.9" r="2.0"/><circle cx="935.5" cy="1351.3" r="2.3"/><circle cx="767.3" cy="1410.5" r="2.0"/><circle cx="984.3" cy="1457.6" r="2.3"/><circle cx="953.1" cy="1386.5" r="2.7"/><circle cx="921.3" cy="1456.2" r="1.7"/><circle cx="838.6" cy="1441.3" r="2.0"/><circle cx="945.6" cy="1378.3" r="1.1"/><circle cx="966.6" cy="1402.2" r="2.0"/><circle cx="747.6" cy="1423.7" r="1.1"/><circle cx="934.1" cy="1442.1" r="1.4"/><circle cx="744.2" cy="1385.2" r="2.3"/><circle cx="905.4" cy="1525.6" r="1.7"/><circle cx="980.5" cy="1417.3" r="1.1"/><circle cx="871.7" cy="1305.9" r="1.1"/><circle cx="769.6" cy="1375.6" r="1.7"/><circle cx="885.4" cy="1429.7" r="2.7"/><circle cx="888.3" cy="1445.6" r="2.0"/><circle cx="757.8" cy="1363.1" r="2.7"/><circle cx="883.4" cy="1324.5" r="1.1"/><circle cx="907.9" cy="1299.4" r="1.4"/><circle cx="937.7" cy="1462" r="1.1"/><circle cx="771.8" cy="1398.8" r="2.7"/><circle cx="924.2" cy="1505.3" r="2.0"/><circle cx="844.8" cy="1481.4" r="1.7"/><circle cx="851.3" cy="1507.1" r="2.3"/><circle cx="803.3" cy="1446.8" r="2.7"/><circle cx="861" cy="1362.7" r="2.7"/><circle cx="905.3" cy="1428.4" r="1.1"/><circle cx="945.9" cy="1394.5" r="1.4"/><circle cx="835" cy="1375.4" r="2.0"/><circle cx="822.5" cy="1427.9" r="2.7"/><circle cx="953.3" cy="1350.9" r="1.4"/><circle cx="853.7" cy="1343.3" r="1.7"/><circle cx="902.9" cy="1364.9" r="2.7"/><circle cx="909.6" cy="1379.6" r="1.1"/><circle cx="886.9" cy="1295.1" r="1.7"/><circle cx="784.3" cy="1438.2" r="1.4"/><circle cx="842.4" cy="1311.3" r="1.4"/><circle cx="874.4" cy="1467.8" r="2.0"/><circle cx="958.6" cy="1419.9" r="1.7"/><circle cx="870.9" cy="1359.6" r="2.7"/><circle cx="906.5" cy="1461.1" r="2.0"/><circle cx="984.2" cy="1370.7" r="2.3"/><circle cx="820.4" cy="1432" r="2.0"/><circle cx="757.5" cy="1373.8" r="2.3"/><circle cx="985.8" cy="1375" r="2.0"/><circle cx="893" cy="1332.4" r="2.0"/><circle cx="833.3" cy="1436.4" r="1.4"/><circle cx="773.1" cy="1476.8" r="2.3"/><circle cx="872.3" cy="1373.1" r="2.0"/><circle cx="777" cy="1445.1" r="2.3"/><circle cx="852" cy="1302.2" r="2.3"/><circle cx="982.8" cy="1439.1" r="1.1"/><circle cx="877.2" cy="1498.1" r="2.0"/><circle cx="858.7" cy="1496.5" r="1.7"/><circle cx="917.9" cy="1520.4" r="2.0"/><circle cx="908.4" cy="1361.8" r="1.4"/><circle cx="777.2" cy="1451.1" r="1.1"/><circle cx="816.5" cy="1452.7" r="2.7"/><circle cx="862.3" cy="1312.5" r="2.0"/><circle cx="881.9" cy="1441.6" r="1.1"/><circle cx="763.4" cy="1445.8" r="2.3"/><circle cx="773" cy="1484" r="2.3"/><circle cx="958.9" cy="1499.4" r="1.1"/><circle cx="773.7" cy="1414.5" r="2.7"/><circle cx="751.3" cy="1448.7" r="2.3"/><circle cx="863.4" cy="1389.7" r="2.7"/><circle cx="904.3" cy="1311.6" r="1.4"/><circle cx="866.9" cy="1381.2" r="2.7"/><circle cx="985.7" cy="1363.8" r="2.0"/><circle cx="780.6" cy="1420.7" r="1.1"/><circle cx="906.2" cy="1513.8" r="2.0"/><circle cx="811.7" cy="1400.7" r="1.4"/><circle cx="903.1" cy="1306" r="1.1"/><circle cx="891.5" cy="1447.5" r="1.4"/><circle cx="828.6" cy="1295.8" r="2.7"/><circle cx="882.8" cy="1409.6" r="2.7"/><circle cx="872.9" cy="1500.9" r="1.1"/><circle cx="969.8" cy="1449.5" r="2.0"/><circle cx="807.1" cy="1399.5" r="2.3"/><circle cx="971.4" cy="1354.5" r="2.0"/><circle cx="790.8" cy="1333.7" r="2.0"/><circle cx="814.3" cy="1299.6" r="1.4"/><circle cx="770.9" cy="1442.2" r="1.4"/><circle cx="962.4" cy="1332.8" r="2.3"/><circle cx="754.3" cy="1393.7" r="2.7"/><circle cx="901.4" cy="1307" r="2.3"/><circle cx="854.4" cy="1317.2" r="1.4"/><circle cx="797.7" cy="1461.1" r="1.7"/><circle cx="845" cy="1518.1" r="1.1"/><circle cx="946" cy="1465.3" r="1.4"/><circle cx="844.4" cy="1300" r="1.4"/><circle cx="861.8" cy="1517.6" r="2.0"/><circle cx="972.4" cy="1385" r="2.3"/><circle cx="755.2" cy="1383.3" r="2.3"/><circle cx="961" cy="1347.6" r="2.3"/><circle cx="930.4" cy="1466.9" r="2.0"/><circle cx="962.2" cy="1419.6" r="1.1"/><circle cx="952.2" cy="1499.4" r="2.0"/><circle cx="992.5" cy="1430.4" r="1.1"/><circle cx="939.6" cy="1462.2" r="2.3"/><circle cx="883.1" cy="1299.5" r="1.4"/><circle cx="869.7" cy="1317.7" r="2.3"/><circle cx="759.9" cy="1431.9" r="2.0"/><circle cx="845.8" cy="1408.2" r="2.3"/><circle cx="810" cy="1502.1" r="1.7"/><circle cx="952.2" cy="1451.1" r="2.0"/><circle cx="949.7" cy="1319" r="2.3"/><circle cx="893.5" cy="1487.5" r="1.1"/><circle cx="830.6" cy="1390.5" r="2.3"/><circle cx="846" cy="1499.8" r="2.7"/><circle cx="907.1" cy="1329.7" r="1.4"/><circle cx="819.2" cy="1411" r="2.3"/><circle cx="843.3" cy="1434.1" r="1.7"/><circle cx="806.8" cy="1429.4" r="1.1"/><circle cx="834" cy="1330" r="1.1"/><circle cx="791.6" cy="1422.8" r="2.7"/><circle cx="949.7" cy="1480.5" r="2.7"/><circle cx="836.1" cy="1478.3" r="2.0"/><circle cx="935.3" cy="1417.8" r="1.7"/><circle cx="949.7" cy="1427.8" r="2.7"/><circle cx="874.8" cy="1403.1" r="2.0"/><circle cx="958.1" cy="1500.2" r="1.1"/><circle cx="828.3" cy="1453.9" r="1.7"/><circle cx="885.8" cy="1305.7" r="1.4"/><circle cx="837" cy="1513.1" r="2.0"/><circle cx="885.9" cy="1456.5" r="1.4"/><circle cx="939.1" cy="1433.1" r="1.7"/><circle cx="900.7" cy="1313.7" r="2.0"/><circle cx="931.3" cy="1324.1" r="1.1"/><circle cx="997.9" cy="1420.7" r="1.7"/><circle cx="915.4" cy="1402.3" r="2.7"/><circle cx="865.2" cy="1354.5" r="2.0"/><circle cx="938.8" cy="1347.1" r="1.7"/><circle cx="842.1" cy="1475.6" r="2.7"/><circle cx="774.2" cy="1457.8" r="2.0"/><circle cx="961.9" cy="1492" r="1.1"/><circle cx="922.7" cy="1431.3" r="1.4"/><circle cx="896.5" cy="1451.2" r="2.7"/><circle cx="829.4" cy="1468" r="2.3"/><circle cx="815.4" cy="1405.1" r="2.7"/><circle cx="829" cy="1486.3" r="2.7"/><circle cx="792.1" cy="1450.3" r="1.7"/><circle cx="781" cy="1371.3" r="1.7"/><circle cx="839.7" cy="1511.8" r="2.0"/><circle cx="774.5" cy="1382.7" r="1.1"/><circle cx="798.7" cy="1501.2" r="2.3"/><circle cx="956" cy="1416.5" r="2.0"/><circle cx="791.2" cy="1368.4" r="2.3"/><circle cx="824.6" cy="1448.3" r="2.7"/><circle cx="900.5" cy="1525.2" r="2.0"/><circle cx="919.4" cy="1302.9" r="1.1"/><circle cx="817.5" cy="1369.3" r="2.7"/><circle cx="924.2" cy="1340.5" r="2.0"/><circle cx="814.3" cy="1307.1" r="2.0"/><circle cx="759.2" cy="1363" r="2.0"/><circle cx="865.9" cy="1393.9" r="1.4"/><circle cx="916.3" cy="1326.7" r="1.7"/><circle cx="958.3" cy="1391.8" r="1.7"/><circle cx="850.9" cy="1295.3" r="1.7"/><circle cx="888.5" cy="1378.3" r="1.1"/><circle cx="879.3" cy="1288.6" r="2.7"/><circle cx="955.1" cy="1321.7" r="1.7"/><circle cx="928.8" cy="1347.3" r="2.0"/><circle cx="960.9" cy="1462.4" r="2.0"/><circle cx="756.9" cy="1466.7" r="1.1"/><circle cx="947.8" cy="1418.8" r="1.4"/><circle cx="990.1" cy="1393.5" r="1.1"/><circle cx="963.6" cy="1418.8" r="1.4"/><circle cx="967.4" cy="1407.6" r="2.7"/><circle cx="997.3" cy="1380.6" r="1.7"/><circle cx="965.3" cy="1479.8" r="2.3"/><circle cx="953.3" cy="1452.1" r="2.3"/><circle cx="969.4" cy="1341.5" r="1.1"/><circle cx="796.3" cy="1435" r="2.7"/><circle cx="803.4" cy="1379.5" r="1.1"/><circle cx="765.9" cy="1422.8" r="2.0"/><circle cx="950.2" cy="1427.3" r="2.7"/><circle cx="790.1" cy="1439.2" r="1.4"/><circle cx="772.7" cy="1340.1" r="2.3"/><circle cx="972" cy="1355.5" r="1.7"/><circle cx="813.1" cy="1465.4" r="2.7"/><circle cx="826.1" cy="1395.2" r="1.4"/><circle cx="925.8" cy="1308.2" r="2.3"/><circle cx="944.5" cy="1323.2" r="1.7"/><circle cx="811.4" cy="1493.8" r="1.4"/><circle cx="788.2" cy="1477.3" r="1.1"/><circle cx="878.7" cy="1324.2" r="2.3"/><circle cx="985.3" cy="1383.1" r="1.7"/><circle cx="849.4" cy="1527.8" r="1.7"/><circle cx="954.5" cy="1450.3" r="2.3"/><circle cx="981.4" cy="1445.7" r="2.7"/><circle cx="887.2" cy="1345.7" r="2.3"/><circle cx="818.5" cy="1430" r="2.0"/><circle cx="885.7" cy="1407.1" r="1.1"/><circle cx="936.5" cy="1395.3" r="1.1"/><circle cx="791.7" cy="1407.2" r="1.7"/><circle cx="988.9" cy="1436.4" r="2.7"/><circle cx="765.4" cy="1445.1" r="1.1"/><circle cx="851" cy="1475.9" r="1.1"/><circle cx="955.5" cy="1361.6" r="2.7"/><circle cx="947.5" cy="1347" r="1.4"/><circle cx="885.1" cy="1437.9" r="1.7"/><circle cx="842.3" cy="1401.8" r="1.7"/><circle cx="946.2" cy="1386.1" r="2.7"/><circle cx="813.5" cy="1346.6" r="1.4"/><circle cx="898.3" cy="1504.6" r="1.7"/><circle cx="831.9" cy="1484.9" r="1.1"/><circle cx="940.4" cy="1480.9" r="2.7"/><circle cx="777.5" cy="1327.9" r="2.0"/><circle cx="854.5" cy="1378.4" r="1.1"/><circle cx="790.1" cy="1336.4" r="2.7"/><circle cx="861.7" cy="1500.8" r="2.0"/><circle cx="802.5" cy="1325.3" r="1.7"/><circle cx="871.5" cy="1529.7" r="1.1"/><circle cx="882.4" cy="1356.9" r="2.3"/><circle cx="852" cy="1482.7" r="1.7"/><circle cx="816" cy="1483.7" r="2.0"/><circle cx="893.1" cy="1445.7" r="2.0"/><circle cx="878" cy="1504.5" r="2.0"/><circle cx="936.3" cy="1493" r="1.4"/><circle cx="929.5" cy="1425.9" r="2.7"/><circle cx="844.1" cy="1452" r="2.3"/><circle cx="960.8" cy="1342.4" r="2.0"/><circle cx="966.8" cy="1379.4" r="1.7"/><circle cx="892" cy="1410.1" r="2.3"/></g>
</g>
<clipPath id="p14"><rect x="1031.7" y="1262.4" width="318.9" height="315.6"/></clipPath>
<g clip-path="url(#p14)">
<rect x="1031.7" y="1262.4" width="318.9" height="315.6" fill="#cacacc"/>
<ellipse cx="1065.8" cy="1484.1" rx="37.8" ry="17.3" fill="#ececee" opacity="0.6" transform="rotate(-26 1065.8 1484.1)" filter="url(#bl8)"/>
<ellipse cx="1266.1" cy="1354.2" rx="17.5" ry="11.4" fill="#ececee" opacity="0.6" transform="rotate(-1 1266.1 1354.2)" filter="url(#bl8)"/>
<ellipse cx="1249.9" cy="1387.6" rx="42.2" ry="7.4" fill="#ececee" opacity="0.6" transform="rotate(-32 1249.9 1387.6)" filter="url(#bl8)"/>
<ellipse cx="1309.4" cy="1362" rx="43.3" ry="10.3" fill="#ececee" opacity="0.6" transform="rotate(20 1309.4 1362)" filter="url(#bl8)"/>
<ellipse cx="1233.1" cy="1309.6" rx="34.3" ry="14" fill="#ececee" opacity="0.6" transform="rotate(-39 1233.1 1309.6)" filter="url(#bl8)"/>
<ellipse cx="1035.1" cy="1284.5" rx="35.8" ry="6.3" fill="#ececee" opacity="0.6" transform="rotate(-25 1035.1 1284.5)" filter="url(#bl8)"/>
<ellipse cx="1096.9" cy="1571.1" rx="29.1" ry="17.9" fill="#ececee" opacity="0.6" transform="rotate(-4 1096.9 1571.1)" filter="url(#bl8)"/>
<ellipse cx="1317.6" cy="1292.2" rx="37.4" ry="16.6" fill="#ececee" opacity="0.6" transform="rotate(14 1317.6 1292.2)" filter="url(#bl8)"/>
<ellipse cx="1219.6" cy="1462.4" rx="21.3" ry="7.1" fill="#ececee" opacity="0.6" transform="rotate(51 1219.6 1462.4)" filter="url(#bl8)"/>
<ellipse cx="1186.9" cy="1474.6" rx="24.5" ry="13.5" fill="#ececee" opacity="0.6" transform="rotate(2 1186.9 1474.6)" filter="url(#bl8)"/>
<ellipse cx="1286.3" cy="1420.4" rx="18.6" ry="15.8" fill="#ececee" opacity="0.6" transform="rotate(-49 1286.3 1420.4)" filter="url(#bl8)"/>
<ellipse cx="1120.6" cy="1299.7" rx="20.7" ry="10.9" fill="#ececee" opacity="0.6" transform="rotate(27 1120.6 1299.7)" filter="url(#bl8)"/>
<ellipse cx="1199.4" cy="1291.7" rx="31.8" ry="14.2" fill="#ececee" opacity="0.6" transform="rotate(8 1199.4 1291.7)" filter="url(#bl8)"/>
<ellipse cx="1155" cy="1360.1" rx="31.1" ry="11" fill="#ececee" opacity="0.6" transform="rotate(45 1155 1360.1)" filter="url(#bl8)"/>
<ellipse cx="1192" cy="1418" rx="155" ry="151" fill="#b9b6c6" stroke="#5e5c74" stroke-width="1.8"/>
<ellipse cx="1192" cy="1418" rx="148" ry="144" fill="none" stroke="#d8d6e2" stroke-width="1.6"/>
<ellipse cx="1188.5" cy="1415" rx="140" ry="134" fill="#a39ec4" filter="url(#bl1)"/>
<radialGradient id="rg14" cx="50%" cy="50%" r="50%"><stop offset="0" stop-color="#b8b6c2"/><stop offset="0.7" stop-color="#aba8bb"/><stop offset="1" stop-color="#9993b6"/></radialGradient>
<ellipse cx="1197" cy="1424" rx="132" ry="126" fill="url(#rg14)" stroke="#6f6a92" stroke-width="1.4"/>
<ellipse cx="1228.1" cy="1444.1" rx="28.3" ry="27.6" fill="#c8c6d0" opacity="0.55" filter="url(#bl8)"/>
<ellipse cx="1201.9" cy="1422.1" rx="25" ry="24.7" fill="#c8c6d0" opacity="0.55" filter="url(#bl8)"/>
<ellipse cx="1195.6" cy="1423.4" rx="44.7" ry="29" fill="#c8c6d0" opacity="0.55" filter="url(#bl8)"/>
<ellipse cx="1172.6" cy="1436.2" rx="39.9" ry="28.9" fill="#c8c6d0" opacity="0.55" filter="url(#bl8)"/>
<ellipse cx="1195" cy="1446.8" rx="26.6" ry="23.3" fill="#c8c6d0" opacity="0.55" filter="url(#bl8)"/>
<ellipse cx="1177.1" cy="1427.7" rx="33.6" ry="12.6" fill="#c8c6d0" opacity="0.55" filter="url(#bl8)"/>
<ellipse cx="1167.2" cy="1492.7" rx="40.5" ry="17.1" fill="#c8c6d0" opacity="0.55" filter="url(#bl8)"/>
<ellipse cx="1223.1" cy="1413.4" rx="28.8" ry="12.6" fill="#c8c6d0" opacity="0.55" filter="url(#bl8)"/>
<g fill="#251b68"><circle cx="1237.7" cy="1474.9" r="1.4"/><circle cx="1196.8" cy="1516.7" r="1.4"/><circle cx="1197.9" cy="1523.9" r="1.7"/><circle cx="1167.5" cy="1529.9" r="1.7"/><circle cx="1318.5" cy="1447.3" r="2.7"/><circle cx="1304.1" cy="1385.2" r="2.3"/><circle cx="1155.9" cy="1373.6" r="2.0"/><circle cx="1103" cy="1504" r="2.3"/><circle cx="1080.6" cy="1385.1" r="2.0"/><circle cx="1287.7" cy="1373" r="1.4"/><circle cx="1140.2" cy="1355.8" r="1.7"/><circle cx="1296.4" cy="1483.9" r="1.4"/><circle cx="1230.7" cy="1524.5" r="1.4"/><circle cx="1220" cy="1513" r="1.4"/><circle cx="1113.4" cy="1401" r="1.1"/><circle cx="1193.3" cy="1505.9" r="2.0"/><circle cx="1116.2" cy="1467.2" r="1.1"/><circle cx="1265.2" cy="1509.5" r="1.4"/><circle cx="1319.5" cy="1436.7" r="2.7"/><circle cx="1272.4" cy="1337.1" r="2.3"/><circle cx="1141" cy="1343.4" r="1.1"/><circle cx="1113.6" cy="1381.6" r="2.0"/><circle cx="1176.8" cy="1463.3" r="1.7"/><circle cx="1298.5" cy="1463.7" r="2.7"/><circle cx="1148.5" cy="1411.4" r="1.1"/><circle cx="1083.3" cy="1478.1" r="1.1"/><circle cx="1256.2" cy="1319.5" r="1.1"/><circle cx="1306.5" cy="1424" r="1.1"/><circle cx="1254.4" cy="1486.3" r="2.3"/><circle cx="1268.7" cy="1518" r="2.0"/><circle cx="1217.6" cy="1333.9" r="2.3"/><circle cx="1243.5" cy="1429.6" r="1.7"/><circle cx="1198.3" cy="1528.8" r="2.7"/><circle cx="1096.4" cy="1419.1" r="1.4"/><circle cx="1194.1" cy="1406.7" r="1.7"/><circle cx="1294.7" cy="1357.1" r="2.0"/><circle cx="1139" cy="1474.4" r="2.7"/><circle cx="1225.7" cy="1412.3" r="1.4"/><circle cx="1176.6" cy="1519.4" r="2.7"/><circle cx="1171.1" cy="1485.5" r="2.3"/><circle cx="1244.2" cy="1348.1" r="2.7"/><circle cx="1280.4" cy="1461.2" r="2.3"/><circle cx="1118.8" cy="1490.1" r="1.7"/><circle cx="1143.6" cy="1314.7" r="2.0"/><circle cx="1311.2" cy="1404.2" r="2.0"/><circle cx="1258.5" cy="1354.7" r="2.0"/><circle cx="1246.6" cy="1312.7" r="1.4"/><circle cx="1228.2" cy="1367.8" r="1.1"/><circle cx="1198" cy="1470.7" r="2.7"/><circle cx="1168.4" cy="1413.5" r="2.7"/><circle cx="1236.8" cy="1331.6" r="1.7"/><circle cx="1211" cy="1338.3" r="1.4"/><circle cx="1232.3" cy="1399.3" r="1.1"/><circle cx="1178.4" cy="1364.6" r="1.7"/><circle cx="1131.4" cy="1439.7" r="1.1"/><circle cx="1121.1" cy="1369.6" r="2.7"/><circle cx="1140.9" cy="1499.4" r="1.7"/><circle cx="1296.9" cy="1454.9" r="2.0"/><circle cx="1277.7" cy="1509.3" r="1.7"/><circle cx="1118.3" cy="1435.7" r="1.1"/><circle cx="1252.9" cy="1501.6" r="2.7"/><circle cx="1167.1" cy="1500.5" r="1.7"/><circle cx="1111.4" cy="1512.1" r="1.4"/><circle cx="1283.8" cy="1513.8" r="1.4"/><circle cx="1153.7" cy="1422.1" r="1.4"/><circle cx="1247.4" cy="1376.4" r="1.7"/><circle cx="1257.4" cy="1343.5" r="2.3"/><circle cx="1221.4" cy="1367.4" r="1.4"/><circle cx="1258.3" cy="1347.1" r="1.7"/><circle cx="1146.6" cy="1505" r="2.0"/><circle cx="1224.2" cy="1445.6" r="1.7"/><circle cx="1228.6" cy="1480.5" r="1.4"/><circle cx="1287.3" cy="1499.3" r="1.4"/><circle cx="1267.2" cy="1393.7" r="2.0"/><circle cx="1285.1" cy="1495.5" r="2.0"/><circle cx="1301.4" cy="1417" r="1.1"/><circle cx="1168.8" cy="1332" r="1.4"/><circle cx="1290.4" cy="1458.8" r="2.3"/><circle cx="1086.1" cy="1397.9" r="2.0"/><circle cx="1212.9" cy="1466" r="1.7"/><circle cx="1266.3" cy="1347.2" r="1.1"/><circle cx="1296.5" cy="1476.8" r="1.1"/><circle cx="1268.5" cy="1353.1" r="1.4"/><circle cx="1239.5" cy="1395.1" r="2.0"/><circle cx="1121" cy="1397.7" r="2.3"/><circle cx="1297" cy="1465" r="1.7"/><circle cx="1267.2" cy="1488.5" r="1.7"/><circle cx="1245.6" cy="1502.8" r="2.7"/><circle cx="1216.6" cy="1324" r="1.1"/><circle cx="1118.1" cy="1406.8" r="1.1"/><circle cx="1131" cy="1409.9" r="2.3"/><circle cx="1274.8" cy="1480.8" r="1.4"/><circle cx="1275.6" cy="1380.3" r="1.4"/><circle cx="1197.6" cy="1382.6" r="2.7"/><circle cx="1131.6" cy="1518.4" r="2.3"/><circle cx="1285.5" cy="1344.2" r="2.0"/><circle cx="1268.5" cy="1522" r="2.3"/><circle cx="1200" cy="1337.5" r="2.7"/><circle cx="1199.9" cy="1499.1" r="1.4"/><circle cx="1161.2" cy="1326.7" r="1.7"/><circle cx="1201.9" cy="1525.7" r="1.4"/><circle cx="1251.7" cy="1489.9" r="1.1"/><circle cx="1199" cy="1443.5" r="2.7"/><circle cx="1143.4" cy="1326.3" r="1.1"/><circle cx="1278.8" cy="1366.7" r="1.4"/><circle cx="1168.3" cy="1471.5" r="1.1"/><circle cx="1240.2" cy="1319.1" r="1.1"/><circle cx="1084.4" cy="1389.5" r="2.7"/><circle cx="1071.8" cy="1422.4" r="2.0"/><circle cx="1209.2" cy="1315.9" r="2.0"/></g>
</g>
<line x1="1525" y1="843.9" x2="1525" y2="1163.6" stroke="#000" stroke-width="3.2" stroke-linecap="butt"/>
<line x1="1512" y1="1162.4" x2="1525" y2="1162.4" stroke="#000" stroke-width="2.8" stroke-linecap="butt"/>
<text x="1508" y="1170.1" font-family="'Liberation Sans', Arial, sans-serif" font-size="21.5" font-weight="bold" text-anchor="end" fill="#000" >0</text>
<line x1="1512" y1="1083.1" x2="1525" y2="1083.1" stroke="#000" stroke-width="2.8" stroke-linecap="butt"/>
<text x="1508" y="1090.8" font-family="'Liberation Sans', Arial, sans-serif" font-size="21.5" font-weight="bold" text-anchor="end" fill="#000" >20</text>
<line x1="1512" y1="1003.8" x2="1525" y2="1003.8" stroke="#000" stroke-width="2.8" stroke-linecap="butt"/>
<text x="1508" y="1011.5" font-family="'Liberation Sans', Arial, sans-serif" font-size="21.5" font-weight="bold" text-anchor="end" fill="#000" >40</text>
<line x1="1512" y1="924.4" x2="1525" y2="924.4" stroke="#000" stroke-width="2.8" stroke-linecap="butt"/>
<text x="1508" y="932.2" font-family="'Liberation Sans', Arial, sans-serif" font-size="21.5" font-weight="bold" text-anchor="end" fill="#000" >60</text>
<line x1="1512" y1="845.1" x2="1525" y2="845.1" stroke="#000" stroke-width="2.8" stroke-linecap="butt"/>
<text x="1508" y="852.8" font-family="'Liberation Sans', Arial, sans-serif" font-size="21.5" font-weight="bold" text-anchor="end" fill="#000" >80</text>
<line x1="1511.2" y1="1162.4" x2="1846.9" y2="1162.4" stroke="#000" stroke-width="3.2" stroke-linecap="butt"/>
<line x1="1616.5" y1="1162.4" x2="1616.5" y2="1174.4" stroke="#000" stroke-width="2.8" stroke-linecap="butt"/>
<line x1="1754.7" y1="1162.4" x2="1754.7" y2="1174.4" stroke="#000" stroke-width="2.8" stroke-linecap="butt"/>
<rect x="1571.4" y="1019" width="89.6" height="143.4" fill="#98aad4"/>
<path d="M1573.4,1162.4 V1021 H1659 V1162.4" fill="none" stroke="#34507f" stroke-width="4"/>
<path d="M1576,1162.4 V1023.6 H1656.4 V1162.4" fill="none" stroke="#b6c6ee" stroke-width="1.1" opacity="0.9"/>
<line x1="1570.9" y1="1162.4" x2="1661.5" y2="1162.4" stroke="#000" stroke-width="3.2"/>
<rect x="1710.2" y="925.3" width="89.1" height="237.1" fill="#dacdb6"/>
<path d="M1712,1162.4 V927 H1797.5 V1162.4" fill="none" stroke="#9c8764" stroke-width="3.5"/>
<path d="M1714.3,1162.4 V929.4 H1795.2 V1162.4" fill="none" stroke="#f0e6d2" stroke-width="1.1" opacity="0.9"/>
<line x1="1709.7" y1="1162.4" x2="1799.8" y2="1162.4" stroke="#000" stroke-width="3.2"/>
<line x1="1616.5" y1="1007.3" x2="1616.5" y2="1028.2" stroke="#000" stroke-width="2.3" stroke-linecap="butt"/>
<line x1="1594.5" y1="1007.3" x2="1638.5" y2="1007.3" stroke="#000" stroke-width="2.3" stroke-linecap="butt"/>
<line x1="1594.5" y1="1028.2" x2="1638.5" y2="1028.2" stroke="#000" stroke-width="2.3" stroke-linecap="butt"/>
<line x1="1754.4" y1="916.1" x2="1754.4" y2="933.6" stroke="#000" stroke-width="2.3" stroke-linecap="butt"/>
<line x1="1732.4" y1="916.1" x2="1776.4" y2="916.1" stroke="#000" stroke-width="2.3" stroke-linecap="butt"/>
<line x1="1732.4" y1="933.6" x2="1776.4" y2="933.6" stroke="#000" stroke-width="2.3" stroke-linecap="butt"/>
<circle cx="1616.5" cy="1005.2" r="5.6" fill="#000"/>
<circle cx="1606.4" cy="1025.7" r="5.6" fill="#000"/>
<circle cx="1625.7" cy="1022.7" r="5.6" fill="#000"/>
<circle cx="1744.6" cy="916.7" r="5.6" fill="#000"/>
<circle cx="1764" cy="922.8" r="5.6" fill="#000"/>
<circle cx="1754.1" cy="934.5" r="5.6" fill="#000"/>
<polyline points="1616.5,986.4 1616.5,879.2 1754.7,879.2 1754.7,896.7" fill="none" stroke="#000" stroke-width="3" stroke-linejoin="miter"/>
<text x="1687.2" y="883.6" font-family="'Liberation Sans', Arial, sans-serif" font-size="30" font-weight="bold" text-anchor="middle" fill="#000" >*</text>
<text x="1616.5" y="1196.9" font-family="'Liberation Sans', Arial, sans-serif" font-size="19.5" font-weight="bold" text-anchor="middle" fill="#000" >Lv ctrl</text>
<text x="1754.7" y="1196.9" font-family="'Liberation Sans', Arial, sans-serif" font-size="19.5" font-weight="bold" text-anchor="middle" fill="#000" >Lv GRB14</text>
<text x="1460" y="1001.5" font-family="'Liberation Sans', 'Noto Sans CJK SC', sans-serif" font-size="18.4" font-weight="bold" text-anchor="middle" transform="rotate(-90 1460 1001.5)">Colony number<tspan dx="1">(</tspan><tspan dx="5">%</tspan><tspan dx="5">)</tspan></text>
<line x1="1525" y1="1279.3" x2="1525" y2="1592.2" stroke="#000" stroke-width="3.2" stroke-linecap="butt"/>
<line x1="1512" y1="1591" x2="1525" y2="1591" stroke="#000" stroke-width="2.8" stroke-linecap="butt"/>
<text x="1508" y="1598.7" font-family="'Liberation Sans', Arial, sans-serif" font-size="21.5" font-weight="bold" text-anchor="end" fill="#000" >0</text>
<line x1="1512" y1="1528.9" x2="1525" y2="1528.9" stroke="#000" stroke-width="2.8" stroke-linecap="butt"/>
<text x="1508" y="1536.6" font-family="'Liberation Sans', Arial, sans-serif" font-size="21.5" font-weight="bold" text-anchor="end" fill="#000" >10</text>
<line x1="1512" y1="1466.8" x2="1525" y2="1466.8" stroke="#000" stroke-width="2.8" stroke-linecap="butt"/>
<text x="1508" y="1474.5" font-family="'Liberation Sans', Arial, sans-serif" font-size="21.5" font-weight="bold" text-anchor="end" fill="#000" >20</text>
<line x1="1512" y1="1404.7" x2="1525" y2="1404.7" stroke="#000" stroke-width="2.8" stroke-linecap="butt"/>
<text x="1508" y="1412.4" font-family="'Liberation Sans', Arial, sans-serif" font-size="21.5" font-weight="bold" text-anchor="end" fill="#000" >30</text>
<line x1="1512" y1="1342.6" x2="1525" y2="1342.6" stroke="#000" stroke-width="2.8" stroke-linecap="butt"/>
<text x="1508" y="1350.3" font-family="'Liberation Sans', Arial, sans-serif" font-size="21.5" font-weight="bold" text-anchor="end" fill="#000" >40</text>
<line x1="1512" y1="1280.5" x2="1525" y2="1280.5" stroke="#000" stroke-width="2.8" stroke-linecap="butt"/>
<text x="1508" y="1288.2" font-family="'Liberation Sans', Arial, sans-serif" font-size="21.5" font-weight="bold" text-anchor="end" fill="#000" >50</text>
<line x1="1511.2" y1="1591" x2="1846.9" y2="1591" stroke="#000" stroke-width="3.2" stroke-linecap="butt"/>
<line x1="1615" y1="1591" x2="1615" y2="1603" stroke="#000" stroke-width="2.8" stroke-linecap="butt"/>
<line x1="1750.1" y1="1591" x2="1750.1" y2="1603" stroke="#000" stroke-width="2.8" stroke-linecap="butt"/>
<rect x="1571" y="1336" width="87.6" height="255" fill="#98aad4"/>
<path d="M1573,1591 V1338 H1656.6 V1591" fill="none" stroke="#34507f" stroke-width="4"/>
<path d="M1575.6,1591 V1340.6 H1654 V1591" fill="none" stroke="#b6c6ee" stroke-width="1.1" opacity="0.9"/>
<line x1="1570.5" y1="1591" x2="1659.1" y2="1591" stroke="#000" stroke-width="3.2"/>
<rect x="1706.2" y="1528" width="87.8" height="63" fill="#dacdb6"/>
<path d="M1708,1591 V1529.8 H1792.2 V1591" fill="none" stroke="#9c8764" stroke-width="3.5"/>
<path d="M1710.3,1591 V1532.1 H1789.9 V1591" fill="none" stroke="#f0e6d2" stroke-width="1.1" opacity="0.9"/>
<line x1="1705.7" y1="1591" x2="1794.5" y2="1591" stroke="#000" stroke-width="3.2"/>
<line x1="1615" y1="1322.9" x2="1615" y2="1346.5" stroke="#000" stroke-width="2.3" stroke-linecap="butt"/>
<line x1="1593" y1="1322.9" x2="1637" y2="1322.9" stroke="#000" stroke-width="2.3" stroke-linecap="butt"/>
<line x1="1593" y1="1346.5" x2="1637" y2="1346.5" stroke="#000" stroke-width="2.3" stroke-linecap="butt"/>
<line x1="1750.1" y1="1515.8" x2="1750.1" y2="1538.5" stroke="#000" stroke-width="2.3" stroke-linecap="butt"/>
<line x1="1728.1" y1="1515.8" x2="1772.1" y2="1515.8" stroke="#000" stroke-width="2.3" stroke-linecap="butt"/>
<line x1="1728.1" y1="1538.5" x2="1772.1" y2="1538.5" stroke="#000" stroke-width="2.3" stroke-linecap="butt"/>
<circle cx="1615" cy="1320.7" r="5.6" fill="#000"/>
<circle cx="1605.2" cy="1341.9" r="5.6" fill="#000"/>
<circle cx="1624.2" cy="1341.9" r="5.6" fill="#000"/>
<circle cx="1750.1" cy="1513.3" r="5.6" fill="#000"/>
<circle cx="1740.3" cy="1533.9" r="5.6" fill="#000"/>
<circle cx="1758.7" cy="1533.9" r="5.6" fill="#000"/>
<polyline points="1615,1301.4 1615,1283.6 1750.1,1283.6 1750.1,1494.9" fill="none" stroke="#000" stroke-width="3" stroke-linejoin="miter"/>
<text x="1682" y="1288.1" font-family="'Liberation Sans', Arial, sans-serif" font-size="30" font-weight="bold" text-anchor="middle" fill="#000" >*</text>
<text x="1615" y="1625.5" font-family="'Liberation Sans', Arial, sans-serif" font-size="19.5" font-weight="bold" text-anchor="middle" fill="#000" >Sh NC</text>
<text x="1750.1" y="1625.5" font-family="'Liberation Sans', Arial, sans-serif" font-size="19.5" font-weight="bold" text-anchor="middle" fill="#000" >Sh GRB14</text>
<text x="1461.5" y="1432.9" font-family="'Liberation Sans', 'Noto Sans CJK SC', sans-serif" font-size="18.4" font-weight="bold" text-anchor="middle" transform="rotate(-90 1461.5 1432.9)">Colony number<tspan dx="1">(</tspan><tspan dx="5">%</tspan><tspan dx="5">)</tspan></text>
<defs><pattern id="hatch" patternUnits="userSpaceOnUse" width="4.6" height="4.6" patternTransform="rotate(-45)">
<rect width="4.6" height="4.6" fill="#ffffff"/><line x1="0" y1="0" x2="0" y2="4.6" stroke="#4a4ae8" stroke-width="2"/></pattern>
<pattern id="hatch2" patternUnits="userSpaceOnUse" width="4.6" height="4.6" patternTransform="rotate(-45)">
<line x1="0" y1="0" x2="0" y2="4.6" stroke="#7a1060" stroke-width="1.8"/></pattern></defs>
<text x="6" y="1652" font-family="'Liberation Sans', Arial, sans-serif" font-size="39.5" font-weight="bold" text-anchor="start" fill="#000" >(f)</text>
<path d="M210.7,1964.8 L210.7,1964.7 L211.5,1964.7 L212.3,1964.7 L213.1,1964.7 L213.8,1964.6 L214.6,1964.6 L215.4,1964.6 L216.2,1964.5 L216.9,1964.4 L217.7,1964.4 L218.5,1964.3 L219.3,1964.2 L220,1964 L220.8,1963.9 L221.6,1963.7 L222.4,1963.5 L223.2,1963.2 L223.9,1962.9 L224.7,1962.6 L225.5,1962.1 L226.3,1961.7 L227,1961.1 L227.8,1960.4 L228.6,1959.7 L229.4,1958.9 L230.1,1958 L230.9,1957 L231.7,1955.9 L232.5,1954.8 L233.2,1953.6 L234,1952.5 L234.8,1951.3 L235.6,1950.1 L236.3,1949 L237.1,1947.9 L237.9,1946.9 L238.7,1946 L239.4,1945.2 L240.2,1944.5 L241,1943.8 L241.8,1943.3 L242.5,1942.8 L243.3,1942.4 L244.1,1942 L244.9,1941.7 L245.6,1941.4 L246.4,1941.2 L247.2,1941 L248,1940.9 L248.8,1940.7 L249.5,1940.6 L250.3,1940.6 L251.1,1940.5 L251.9,1940.4 L252.6,1940.4 L253.4,1940.3 L254.2,1940.3 L255,1940.3 L255.7,1940.2 L256.5,1940.2 L257.3,1940.2 L258.1,1940.2 L258.8,1940.2 L259.6,1940.2 L260.4,1940.2 L261.2,1940.2 L261.9,1940.1 L262.7,1940.1 L263.5,1940.1 L264.3,1940.1 L265,1940.1 L265.8,1940.1 L266.6,1940.1 L267.4,1940.1 L268.1,1940.1 L268.9,1940.1 L269.7,1940.1 L270.5,1940.1 L271.2,1940.1 L272,1940.1 L272.8,1940.1 L273.6,1940.1 L274.4,1940.1 L275.1,1940.1 L275.9,1940.1 L276.7,1940.1 L277.5,1940.1 L278.2,1940.1 L279,1940.1 L279.8,1940.1 L280.6,1940.1 L281.3,1940.1 L282.1,1940.1 L282.9,1940.1 L283.7,1940.1 L284.4,1940.1 L285.2,1940.2 L286,1940.2 L286.8,1940.2 L287.5,1940.2 L288.3,1940.2 L289.1,1940.2 L289.9,1940.2 L290.6,1940.2 L291.4,1940.2 L292.2,1940.2 L293,1940.2 L293.7,1940.2 L294.5,1940.3 L295.3,1940.3 L296.1,1940.3 L296.8,1940.3 L297.6,1940.3 L298.4,1940.4 L299.2,1940.4 L299.9,1940.4 L300.7,1940.5 L301.5,1940.5 L302.3,1940.6 L303.1,1940.6 L303.8,1940.7 L304.6,1940.8 L305.4,1940.8 L306.2,1940.9 L306.9,1941 L307.7,1941.2 L308.5,1941.3 L309.3,1941.4 L310,1941.6 L310.8,1941.8 L311.6,1942 L312.4,1942.2 L313.1,1942.5 L313.9,1942.8 L314.7,1943.1 L315.5,1943.4 L316.2,1943.8 L317,1944.2 L317.8,1944.6 L318.6,1945.1 L319.3,1945.6 L320.1,1946.2 L320.9,1946.8 L321.7,1947.4 L322.4,1948 L323.2,1948.7 L324,1949.4 L324.8,1950.2 L325.5,1950.9 L326.3,1951.7 L327.1,1952.5 L327.9,1953.2 L328.7,1954 L329.4,1954.7 L330.2,1955.5 L331,1956.2 L331.8,1956.9 L332.5,1957.5 L333.3,1958.2 L334.1,1958.8 L334.9,1959.3 L335.6,1959.8 L336.4,1960.3 L337.2,1960.7 L338,1961.1 L338.7,1961.5 L339.5,1961.9 L340.3,1962.2 L341.1,1962.4 L341.8,1962.7 L342.6,1962.9 L343.4,1963.1 L344.2,1963.3 L344.9,1963.5 L345.7,1963.6 L346.5,1963.8 L347.3,1963.9 L348,1964 L348.8,1964.1 L349.6,1964.2 L350.4,1964.2 L350.4,1964.8 Z" fill="url(#hatch)"/>
<path d="M204.5,1964.8 L204.5,1964.7 L205.3,1964.6 L206.1,1964.5 L206.9,1964.4 L207.6,1964.1 L208.4,1963.8 L209.2,1963.3 L210,1962.6 L210.7,1961.7 L211.5,1960.4 L212.3,1958.7 L213.1,1956.4 L213.8,1953.3 L214.6,1949.5 L215.4,1944.6 L216.2,1938.6 L216.9,1931.4 L217.7,1922.7 L218.5,1912.6 L219.3,1901 L220,1887.9 L220.8,1873.6 L221.6,1858.2 L222.4,1842 L223.2,1825.4 L223.9,1809 L224.7,1793.2 L225.5,1778.5 L226.3,1765.6 L227,1755 L227.8,1747 L228.6,1742.1 L229.4,1740.5 L230.1,1742.1 L230.9,1747 L231.7,1755 L232.5,1765.6 L233.2,1778.5 L234,1793.2 L234.8,1809 L235.6,1825.4 L236.3,1842 L237.1,1858.2 L237.9,1873.6 L238.7,1887.9 L239.4,1901 L240.2,1912.6 L241,1922.7 L241.8,1931.4 L242.5,1938.6 L243.3,1944.6 L244.1,1949.5 L244.9,1953.3 L245.6,1956.4 L246.4,1958.7 L247.2,1960.4 L248,1961.7 L248.8,1962.6 L249.5,1963.3 L250.3,1963.8 L251.1,1964.1 L251.9,1964.4 L252.6,1964.5 L253.4,1964.6 L254.2,1964.7 L254.2,1964.8 Z" fill="#f40000" stroke="#000" stroke-width="0.8"/>
<path d="M204.5,1964.8 L204.5,1964.8 L205.3,1964.8 L206.1,1964.8 L206.9,1964.8 L207.6,1964.8 L208.4,1964.8 L209.2,1964.7 L210,1964.7 L210.7,1964.7 L211.5,1964.7 L212.3,1964.7 L213.1,1964.7 L213.8,1964.6 L214.6,1964.6 L215.4,1964.6 L216.2,1964.5 L216.9,1964.4 L217.7,1964.4 L218.5,1964.3 L219.3,1964.2 L220,1964 L220.8,1963.9 L221.6,1963.7 L222.4,1963.5 L223.2,1963.2 L223.9,1962.9 L224.7,1962.6 L225.5,1962.1 L226.3,1961.7 L227,1961.1 L227.8,1960.4 L228.6,1959.7 L229.4,1958.9 L230.1,1958 L230.9,1957 L231.7,1955.9 L232.5,1954.8 L233.2,1953.6 L234,1952.5 L234.8,1951.3 L235.6,1950.1 L236.3,1949 L237.1,1947.9 L237.9,1946.9 L238.7,1946 L239.4,1945.2 L240.2,1944.5 L241,1943.8 L241.8,1943.3 L242.5,1942.8 L243.3,1944.6 L244.1,1949.5 L244.9,1953.3 L245.6,1956.4 L246.4,1958.7 L247.2,1960.4 L248,1961.7 L248.8,1962.6 L249.5,1963.3 L250.3,1963.8 L251.1,1964.1 L251.9,1964.4 L252.6,1964.5 L253.4,1964.6 L254.2,1964.7 L254.2,1964.8 Z" fill="url(#hatch2)" opacity="0.75"/>
<path d="M283.7,1964.8 L283.7,1964.8 L284.4,1964.8 L285.2,1964.8 L286,1964.8 L286.8,1964.7 L287.5,1964.7 L288.3,1964.7 L289.1,1964.7 L289.9,1964.7 L290.6,1964.6 L291.4,1964.6 L292.2,1964.5 L293,1964.4 L293.7,1964.3 L294.5,1964.2 L295.3,1964.1 L296.1,1963.9 L296.8,1963.7 L297.6,1963.5 L298.4,1963.2 L299.2,1962.9 L299.9,1962.5 L300.7,1962.1 L301.5,1961.6 L302.3,1961 L303.1,1960.4 L303.8,1959.6 L304.6,1958.8 L305.4,1957.9 L306.2,1956.8 L306.9,1955.7 L307.7,1954.4 L308.5,1953.1 L309.3,1951.6 L310,1950 L310.8,1948.3 L311.6,1946.5 L312.4,1944.7 L313.1,1942.7 L313.9,1940.7 L314.7,1938.7 L315.5,1936.6 L316.2,1934.6 L317,1932.5 L317.8,1930.5 L318.6,1928.6 L319.3,1926.7 L320.1,1925 L320.9,1923.4 L321.7,1921.9 L322.4,1920.7 L323.2,1919.6 L324,1918.8 L324.8,1918.2 L325.5,1917.8 L326.3,1917.7 L327.1,1917.8 L327.9,1918.2 L328.7,1918.8 L329.4,1919.6 L330.2,1920.7 L331,1921.9 L331.8,1923.4 L332.5,1925 L333.3,1926.7 L334.1,1928.6 L334.9,1930.5 L335.6,1932.5 L336.4,1934.6 L337.2,1936.6 L338,1938.7 L338.7,1940.7 L339.5,1942.7 L340.3,1944.7 L341.1,1946.5 L341.8,1948.3 L342.6,1950 L343.4,1951.6 L344.2,1953.1 L344.9,1954.4 L345.7,1955.7 L346.5,1956.8 L347.3,1957.9 L348,1958.8 L348.8,1959.6 L349.6,1960.4 L350.4,1961 L351.1,1961.6 L351.9,1962.1 L352.7,1962.5 L353.5,1962.9 L354.3,1963.2 L355,1963.5 L355.8,1963.7 L356.6,1963.9 L357.4,1964.1 L358.1,1964.2 L358.9,1964.3 L359.7,1964.4 L360.5,1964.5 L361.2,1964.6 L362,1964.6 L362.8,1964.7 L363.6,1964.7 L364.3,1964.7 L365.1,1964.7 L365.9,1964.7 L366.7,1964.8 L367.4,1964.8 L368.2,1964.8 L369,1964.8 L369,1964.8 Z" fill="#f40000" stroke="#000" stroke-width="0.8"/>
<path d="M283.7,1964.8 L283.7,1964.8 L284.4,1964.8 L285.2,1964.8 L286,1964.8 L286.8,1964.7 L287.5,1964.7 L288.3,1964.7 L289.1,1964.7 L289.9,1964.7 L290.6,1964.6 L291.4,1964.6 L292.2,1964.5 L293,1964.4 L293.7,1964.3 L294.5,1964.2 L295.3,1964.1 L296.1,1963.9 L296.8,1963.7 L297.6,1963.5 L298.4,1963.2 L299.2,1962.9 L299.9,1962.5 L300.7,1962.1 L301.5,1961.6 L302.3,1961 L303.1,1960.4 L303.8,1959.6 L304.6,1958.8 L305.4,1957.9 L306.2,1956.8 L306.9,1955.7 L307.7,1954.4 L308.5,1953.1 L309.3,1951.6 L310,1950 L310.8,1948.3 L311.6,1946.5 L312.4,1944.7 L313.1,1942.7 L313.9,1942.8 L314.7,1943.1 L315.5,1943.4 L316.2,1943.8 L317,1944.2 L317.8,1944.6 L318.6,1945.1 L319.3,1945.6 L320.1,1946.2 L320.9,1946.8 L321.7,1947.4 L322.4,1948 L323.2,1948.7 L324,1949.4 L324.8,1950.2 L325.5,1950.9 L326.3,1951.7 L327.1,1952.5 L327.9,1953.2 L328.7,1954 L329.4,1954.7 L330.2,1955.5 L331,1956.2 L331.8,1956.9 L332.5,1957.5 L333.3,1958.2 L334.1,1958.8 L334.9,1959.3 L335.6,1959.8 L336.4,1960.3 L337.2,1960.7 L338,1961.1 L338.7,1961.5 L339.5,1961.9 L340.3,1962.2 L341.1,1962.4 L341.8,1962.7 L342.6,1962.9 L343.4,1963.1 L344.2,1963.3 L344.9,1963.5 L345.7,1963.6 L346.5,1963.8 L347.3,1963.9 L348,1964 L348.8,1964.1 L349.6,1964.2 L350.4,1964.2 L351.1,1964.3 L351.9,1964.4 L352.7,1964.4 L353.5,1964.5 L354.3,1964.5 L355,1964.5 L355.8,1964.6 L356.6,1964.6 L357.4,1964.6 L358.1,1964.6 L358.9,1964.7 L359.7,1964.7 L360.5,1964.7 L361.2,1964.7 L362,1964.7 L362.8,1964.7 L363.6,1964.7 L364.3,1964.7 L365.1,1964.7 L365.9,1964.8 L366.7,1964.8 L367.4,1964.8 L368.2,1964.8 L369,1964.8 L369,1964.8 Z" fill="url(#hatch2)" opacity="0.75"/>
<polyline points="210.7,1964.7 211.5,1964.7 212.3,1964.7 213.1,1964.7 213.8,1964.6 214.6,1964.6 215.4,1964.6 216.2,1964.5 216.9,1964.4 217.7,1964.4 218.5,1964.3 219.3,1964.2 220,1964 220.8,1963.9 221.6,1963.7 222.4,1963.5 223.2,1963.2 223.9,1962.9 224.7,1962.6 225.5,1962.1 226.3,1961.7 227,1961.1 227.8,1960.4 228.6,1959.7 229.4,1958.9 230.1,1958 230.9,1957 231.7,1955.9 232.5,1954.8 233.2,1953.6 234,1952.5 234.8,1951.3 235.6,1950.1 236.3,1949 237.1,1947.9 237.9,1946.9 238.7,1946 239.4,1945.2 240.2,1944.5 241,1943.8 241.8,1943.3 242.5,1942.8 243.3,1942.4 244.1,1942 244.9,1941.7 245.6,1941.4 246.4,1941.2 247.2,1941 248,1940.9 248.8,1940.7 249.5,1940.6 250.3,1940.6 251.1,1940.5 251.9,1940.4 252.6,1940.4 253.4,1940.3 254.2,1940.3 255,1940.3 255.7,1940.2 256.5,1940.2 257.3,1940.2 258.1,1940.2 258.8,1940.2 259.6,1940.2 260.4,1940.2 261.2,1940.2 261.9,1940.1 262.7,1940.1 263.5,1940.1 264.3,1940.1 265,1940.1 265.8,1940.1 266.6,1940.1 267.4,1940.1 268.1,1940.1 268.9,1940.1 269.7,1940.1 270.5,1940.1 271.2,1940.1 272,1940.1 272.8,1940.1 273.6,1940.1 274.4,1940.1 275.1,1940.1 275.9,1940.1 276.7,1940.1 277.5,1940.1 278.2,1940.1 279,1940.1 279.8,1940.1 280.6,1940.1 281.3,1940.1 282.1,1940.1 282.9,1940.1 283.7,1940.1 284.4,1940.1 285.2,1940.2 286,1940.2 286.8,1940.2 287.5,1940.2 288.3,1940.2 289.1,1940.2 289.9,1940.2 290.6,1940.2 291.4,1940.2 292.2,1940.2 293,1940.2 293.7,1940.2 294.5,1940.3 295.3,1940.3 296.1,1940.3 296.8,1940.3 297.6,1940.3 298.4,1940.4 299.2,1940.4 299.9,1940.4 300.7,1940.5 301.5,1940.5 302.3,1940.6 303.1,1940.6 303.8,1940.7 304.6,1940.8 305.4,1940.8 306.2,1940.9 306.9,1941 307.7,1941.2 308.5,1941.3 309.3,1941.4 310,1941.6 310.8,1941.8 311.6,1942 312.4,1942.2 313.1,1942.5 313.9,1942.8 314.7,1943.1 315.5,1943.4 316.2,1943.8 317,1944.2 317.8,1944.6 318.6,1945.1 319.3,1945.6 320.1,1946.2 320.9,1946.8 321.7,1947.4 322.4,1948 323.2,1948.7 324,1949.4 324.8,1950.2 325.5,1950.9 326.3,1951.7 327.1,1952.5 327.9,1953.2 328.7,1954 329.4,1954.7 330.2,1955.5 331,1956.2 331.8,1956.9 332.5,1957.5 333.3,1958.2 334.1,1958.8 334.9,1959.3 335.6,1959.8 336.4,1960.3 337.2,1960.7 338,1961.1 338.7,1961.5 339.5,1961.9 340.3,1962.2 341.1,1962.4 341.8,1962.7 342.6,1962.9 343.4,1963.1 344.2,1963.3 344.9,1963.5 345.7,1963.6 346.5,1963.8 347.3,1963.9 348,1964 348.8,1964.1 349.6,1964.2 350.4,1964.2" fill="none" stroke="#222" stroke-width="0.8"/>
<polyline points="189,1964.8 189.8,1964.8 190.6,1964.8 191.3,1964.8 192.1,1964.8 192.9,1964.8 193.7,1964.8 194.4,1964.8 195.2,1964.8 196,1964.8 196.8,1964.8 197.6,1964.8 198.3,1964.8 199.1,1964.8 199.9,1964.8 200.7,1964.8 201.4,1964.8 202.2,1964.8 203,1964.7 203.8,1964.7 204.5,1964.7 205.3,1964.6 206.1,1964.5 206.9,1964.3 207.6,1964.1 208.4,1963.8 209.2,1963.3 210,1962.6 210.7,1961.6 211.5,1960.3 212.3,1958.6 213.1,1956.2 213.8,1953.2 214.6,1949.3 215.4,1944.4 216.2,1938.4 216.9,1931 217.7,1922.3 218.5,1912.1 219.3,1900.3 220,1887.2 220.8,1872.7 221.6,1857.1 222.4,1840.7 223.2,1823.9 223.9,1807.1 224.7,1790.9 225.5,1775.9 226.3,1762.5 227,1751.3 227.8,1742.7 228.6,1737 229.4,1734.5 230.1,1735.3 230.9,1739.2 231.7,1746.1 232.5,1755.6 233.2,1767.4 234,1780.8 234.8,1795.4 235.6,1810.7 236.3,1826.2 237.1,1841.3 237.9,1855.7 238.7,1869.2 239.4,1881.4 240.2,1892.3 241,1901.7 241.8,1909.8 242.5,1916.6 243.3,1922.2 244.1,1926.7 244.9,1930.2 245.6,1933 246.4,1935.1 247.2,1936.6 248,1937.8 248.8,1938.6 249.5,1939.2 250.3,1939.6 251.1,1939.8 251.9,1940 252.6,1940.1 253.4,1940.1 254.2,1940.2 255,1940.2 255.7,1940.2 256.5,1940.2 257.3,1940.2 258.1,1940.2 258.8,1940.2 259.6,1940.2 260.4,1940.2 261.2,1940.2 261.9,1940.1 262.7,1940.1 263.5,1940.1 264.3,1940.1 265,1940.1 265.8,1940.1 266.6,1940.1 267.4,1940.1 268.1,1940.1 268.9,1940.1 269.7,1940.1 270.5,1940.1 271.2,1940.1 272,1940.1 272.8,1940.1 273.6,1940.1 274.4,1940.1 275.1,1940.1 275.9,1940.1 276.7,1940.1 277.5,1940.1 278.2,1940.1 279,1940.1 279.8,1940.1 280.6,1940.1 281.3,1940.1 282.1,1940.1 282.9,1940.1 283.7,1940.1 284.4,1940.1 285.2,1940.1 286,1940.1 286.8,1940.1 287.5,1940.1 288.3,1940.1 289.1,1940.1 289.9,1940 290.6,1940 291.4,1940 292.2,1939.9 293,1939.9 293.7,1939.8 294.5,1939.7 295.3,1939.6 296.1,1939.4 296.8,1939.2 297.6,1939 298.4,1938.8 299.2,1938.5 299.9,1938.2 300.7,1937.8 301.5,1937.3 302.3,1936.8 303.1,1936.2 303.8,1935.5 304.6,1934.7 305.4,1933.9 306.2,1933 306.9,1931.9 307.7,1930.8 308.5,1929.5 309.3,1928.2 310,1926.8 310.8,1925.3 311.6,1923.7 312.4,1922.1 313.1,1920.4 313.9,1918.7 314.7,1917 315.5,1915.2 316.2,1913.5 317,1911.9 317.8,1910.3 318.6,1908.9 319.3,1907.5 320.1,1906.3 320.9,1905.3 321.7,1904.5 322.4,1903.9 323.2,1903.6 324,1903.4 324.8,1903.6 325.5,1903.9 326.3,1904.6 327.1,1905.5 327.9,1906.6 328.7,1908 329.4,1909.6 330.2,1911.4 331,1913.3 331.8,1915.5 332.5,1917.7 333.3,1920.1 334.1,1922.5 334.9,1925 335.6,1927.5 336.4,1930.1 337.2,1932.6 338,1935.1 338.7,1937.5 339.5,1939.8 340.3,1942 341.1,1944.2 341.8,1946.2 342.6,1948.1 343.4,1949.9 344.2,1951.6 344.9,1953.1 345.7,1954.5 346.5,1955.8 347.3,1956.9 348,1958 348.8,1958.9 349.6,1959.7 350.4,1960.5 351.1,1961.1 351.9,1961.7 352.7,1962.1 353.5,1962.6 354.3,1962.9 355,1963.2 355.8,1963.5 356.6,1963.7 357.4,1963.9 358.1,1964.1 358.9,1964.2 359.7,1964.3 360.5,1964.4 361.2,1964.5 362,1964.5 362.8,1964.6 363.6,1964.6 364.3,1964.7 365.1,1964.7 365.9,1964.7 366.7,1964.7 367.4,1964.7 368.2,1964.7 369,1964.8 369.8,1964.8 370.5,1964.8 371.3,1964.8 372.1,1964.8 372.9,1964.8 373.6,1964.8 374.4,1964.8 375.2,1964.8 376,1964.8 376.7,1964.8 377.5,1964.8 378.3,1964.8 379.1,1964.8 379.9,1964.8 380.6,1964.8 381.4,1964.8 382.2,1964.8 383,1964.8 383.7,1964.8 384.5,1964.8 385.3,1964.8 386.1,1964.8 386.8,1964.8 387.6,1964.8 388.4,1964.8 389.2,1964.8 389.9,1964.8 390.7,1964.8" fill="none" stroke="#3a6a6a" stroke-width="0.9"/>
<polyline points="193.7,1964.8 194.4,1964.8 195.2,1964.8 196,1964.8 196.8,1964.8 197.6,1964.8 198.3,1964.8 199.1,1964.8 199.9,1964.8 200.7,1964.8 201.4,1964.8 202.2,1964.8 203,1964.7 203.8,1964.7 204.5,1964.7 205.3,1964.6 206.1,1964.5 206.9,1964.3 207.6,1964.1 208.4,1963.7 209.2,1962.7 210,1960.1 210.7,1959.5 211.5,1958.3 212.3,1957.4 213.1,1955.4 213.8,1950.3 214.6,1948.2 215.4,1943.1 216.2,1935.7 216.9,1931.3 217.7,1917.6 218.5,1908.8 219.3,1895.3 220,1883.4 220.8,1865.1 221.6,1852.3 222.4,1830.4 223.2,1812.4 223.9,1795.2 224.7,1778.5 225.5,1750.9 226.3,1735.9 227,1717.9 227.8,1717.5 228.6,1701.4 229.4,1701.1 230.1,1713.9 230.9,1709.8 231.7,1732.8 232.5,1732.5 233.2,1747.2 234,1772.1 234.8,1786.8 235.6,1808.2 236.3,1813.5 237.1,1833.6 237.9,1852.6 238.7,1865.1 239.4,1882.7 240.2,1887.3 241,1897.7 241.8,1908.3 242.5,1914.3 243.3,1921.2 244.1,1925.8 244.9,1927.1 245.6,1932.6 246.4,1932.4 247.2,1935.8 248,1935.4 248.8,1937.4 249.5,1939.7 250.3,1939.3 251.1,1938.2 251.9,1939.3 252.6,1939.1 253.4,1939.6 254.2,1940.3 255,1938.5 255.7,1940 256.5,1937.4 257.3,1937.5 258.1,1939.9 258.8,1939 259.6,1938.9 260.4,1938.8 261.2,1940.4 261.9,1939.5 262.7,1938.6 263.5,1938.7 264.3,1939 265,1938.6 265.8,1937.1 266.6,1938.6 267.4,1938.6 268.1,1938.8 268.9,1938.2 269.7,1937.8 270.5,1940.7 271.2,1938.8 272,1938.4 272.8,1939.8 273.6,1938.6 274.4,1939 275.1,1939.7 275.9,1939.8 276.7,1938.7 277.5,1937.5 278.2,1939.6 279,1939 279.8,1937.3 280.6,1939.6 281.3,1938.2 282.1,1937.2 282.9,1937.8 283.7,1937.4 284.4,1937.8 285.2,1938.1 286,1938.6 286.8,1936.7 287.5,1938.9 288.3,1939.4 289.1,1939.6 289.9,1939.4 290.6,1937.5 291.4,1937.8 292.2,1937.7 293,1938.3 293.7,1937.7 294.5,1937.8 295.3,1936.8 296.1,1936.6 296.8,1936.9 297.6,1936.7 298.4,1936.7 299.2,1934.4 299.9,1934.6 300.7,1935.5 301.5,1934.3 302.3,1932.1 303.1,1932 303.8,1928.9 304.6,1930.8 305.4,1929.3 306.2,1927 306.9,1926.8 307.7,1925.7 308.5,1921.3 309.3,1921.9 310,1916.7 310.8,1917.7 311.6,1916.1 312.4,1913.1 313.1,1908.2 313.9,1905.4 314.7,1908.2 315.5,1905.1 316.2,1900.2 317,1902.9 317.8,1896.4 318.6,1896.1 319.3,1894 320.1,1895.6 320.9,1893.6 321.7,1890.9 322.4,1893.8 323.2,1890.9 324,1893.6 324.8,1894.1 325.5,1890.5 326.3,1895.9 327.1,1891.5 327.9,1895.5 328.7,1896 329.4,1900.5 330.2,1904.1 331,1904.4 331.8,1906.6 332.5,1908.1 333.3,1912.3 334.1,1912.4 334.9,1917.8 335.6,1918.6 336.4,1922.4 337.2,1925.4 338,1927 338.7,1932.8 339.5,1934.9 340.3,1936.6 341.1,1940.6 341.8,1941.5 342.6,1944.7 343.4,1945.7 344.2,1947.4 344.9,1950.1 345.7,1952.4 346.5,1953.4 347.3,1954.7 348,1957.2 348.8,1956.6 349.6,1957.5 350.4,1959.7 351.1,1959.1 351.9,1959.7 352.7,1961.2 353.5,1960.6 354.3,1960.6 355,1962.3 355.8,1962.3 356.6,1963.2 357.4,1963.2 358.1,1962.9 358.9,1963 359.7,1963.2 360.5,1963.8 361.2,1964.4 362,1963.7 362.8,1963.2 363.6,1964.3 364.3,1963.5 365.1,1964.6 365.9,1963.6 366.7,1964.1 367.4,1963.9 368.2,1963.8 369,1963.7 369.8,1964.4 370.5,1963.7 371.3,1964.5 372.1,1963.6 372.9,1964.4 373.6,1964.6 374.4,1964.4 375.2,1964.8 376,1964.8 376.7,1964.8 377.5,1964.8 378.3,1964.8 379.1,1964.8 379.9,1964.8 380.6,1964.8 381.4,1964.8 382.2,1964.8 383,1964.8 383.7,1964.8 384.5,1964.8 385.3,1964.8 386.1,1964.8" fill="none" stroke="#000" stroke-width="1.3"/>
<g stroke="#111" stroke-width="1.6">
<line x1="119.2" y1="1694.6" x2="119.2" y2="1964.8"/>
<line x1="107.2" y1="1964.8" x2="429.5" y2="1964.8"/>
<line x1="107.2" y1="1964.8" x2="119.2" y2="1964.8"/>
<line x1="113.2" y1="1955.8" x2="119.2" y2="1955.8"/>
<line x1="113.2" y1="1946.9" x2="119.2" y2="1946.9"/>
<line x1="113.2" y1="1937.9" x2="119.2" y2="1937.9"/>
<line x1="113.2" y1="1928.9" x2="119.2" y2="1928.9"/>
<line x1="107.2" y1="1919.9" x2="119.2" y2="1919.9"/>
<line x1="113.2" y1="1911" x2="119.2" y2="1911"/>
<line x1="113.2" y1="1902" x2="119.2" y2="1902"/>
<line x1="113.2" y1="1893" x2="119.2" y2="1893"/>
<line x1="113.2" y1="1884" x2="119.2" y2="1884"/>
<line x1="107.2" y1="1875.1" x2="119.2" y2="1875.1"/>
<line x1="113.2" y1="1866.1" x2="119.2" y2="1866.1"/>
<line x1="113.2" y1="1857.1" x2="119.2" y2="1857.1"/>
<line x1="113.2" y1="1848.1" x2="119.2" y2="1848.1"/>
<line x1="113.2" y1="1839.2" x2="119.2" y2="1839.2"/>
<line x1="107.2" y1="1830.2" x2="119.2" y2="1830.2"/>
<line x1="113.2" y1="1821.2" x2="119.2" y2="1821.2"/>
<line x1="113.2" y1="1812.3" x2="119.2" y2="1812.3"/>
<line x1="113.2" y1="1803.3" x2="119.2" y2="1803.3"/>
<line x1="113.2" y1="1794.3" x2="119.2" y2="1794.3"/>
<line x1="107.2" y1="1785.3" x2="119.2" y2="1785.3"/>
<line x1="113.2" y1="1776.4" x2="119.2" y2="1776.4"/>
<line x1="113.2" y1="1767.4" x2="119.2" y2="1767.4"/>
<line x1="113.2" y1="1758.4" x2="119.2" y2="1758.4"/>
<line x1="113.2" y1="1749.4" x2="119.2" y2="1749.4"/>
<line x1="107.2" y1="1740.5" x2="119.2" y2="1740.5"/>
<line x1="113.2" y1="1731.5" x2="119.2" y2="1731.5"/>
<line x1="113.2" y1="1722.5" x2="119.2" y2="1722.5"/>
<line x1="113.2" y1="1713.5" x2="119.2" y2="1713.5"/>
<line x1="113.2" y1="1704.6" x2="119.2" y2="1704.6"/>
<line x1="107.2" y1="1695.6" x2="119.2" y2="1695.6"/>
<line x1="119.2" y1="1964.8" x2="119.2" y2="1976.8"/>
<line x1="134.7" y1="1964.8" x2="134.7" y2="1970.8"/>
<line x1="150.2" y1="1964.8" x2="150.2" y2="1970.8"/>
<line x1="165.7" y1="1964.8" x2="165.7" y2="1970.8"/>
<line x1="181.3" y1="1964.8" x2="181.3" y2="1970.8"/>
<line x1="196.8" y1="1964.8" x2="196.8" y2="1976.8"/>
<line x1="212.3" y1="1964.8" x2="212.3" y2="1970.8"/>
<line x1="227.8" y1="1964.8" x2="227.8" y2="1970.8"/>
<line x1="243.3" y1="1964.8" x2="243.3" y2="1970.8"/>
<line x1="258.8" y1="1964.8" x2="258.8" y2="1970.8"/>
<line x1="274.4" y1="1964.8" x2="274.4" y2="1976.8"/>
<line x1="289.9" y1="1964.8" x2="289.9" y2="1970.8"/>
<line x1="305.4" y1="1964.8" x2="305.4" y2="1970.8"/>
<line x1="320.9" y1="1964.8" x2="320.9" y2="1970.8"/>
<line x1="336.4" y1="1964.8" x2="336.4" y2="1970.8"/>
<line x1="351.9" y1="1964.8" x2="351.9" y2="1976.8"/>
<line x1="367.4" y1="1964.8" x2="367.4" y2="1970.8"/>
<line x1="383" y1="1964.8" x2="383" y2="1970.8"/>
<line x1="398.5" y1="1964.8" x2="398.5" y2="1970.8"/>
<line x1="414" y1="1964.8" x2="414" y2="1970.8"/>
<line x1="429.5" y1="1964.8" x2="429.5" y2="1976.8"/>
</g>
<text x="97.2" y="1964.8" font-family="'Liberation Sans', Arial, sans-serif" font-size="10.5" fill="#1a1a1a" text-anchor="middle" transform="rotate(-90 97.2 1964.8)">0</text>
<text x="97.2" y="1919.9" font-family="'Liberation Sans', Arial, sans-serif" font-size="10.5" fill="#1a1a1a" text-anchor="middle" transform="rotate(-90 97.2 1919.9)">100</text>
<text x="97.2" y="1875.1" font-family="'Liberation Sans', Arial, sans-serif" font-size="10.5" fill="#1a1a1a" text-anchor="middle" transform="rotate(-90 97.2 1875.1)">200</text>
<text x="97.2" y="1830.2" font-family="'Liberation Sans', Arial, sans-serif" font-size="10.5" fill="#1a1a1a" text-anchor="middle" transform="rotate(-90 97.2 1830.2)">300</text>
<text x="97.2" y="1785.3" font-family="'Liberation Sans', Arial, sans-serif" font-size="10.5" fill="#1a1a1a" text-anchor="middle" transform="rotate(-90 97.2 1785.3)">400</text>
<text x="97.2" y="1740.5" font-family="'Liberation Sans', Arial, sans-serif" font-size="10.5" fill="#1a1a1a" text-anchor="middle" transform="rotate(-90 97.2 1740.5)">500</text>
<text x="97.2" y="1695.6" font-family="'Liberation Sans', Arial, sans-serif" font-size="10.5" fill="#1a1a1a" text-anchor="middle" transform="rotate(-90 97.2 1695.6)">600</text>
<text x="119.2" y="1991.8" font-family="'Liberation Sans', Arial, sans-serif" font-size="11" font-weight="normal" text-anchor="middle" fill="#1a1a1a" >0</text>
<text x="196.8" y="1991.8" font-family="'Liberation Sans', Arial, sans-serif" font-size="11" font-weight="normal" text-anchor="middle" fill="#1a1a1a" >50</text>
<text x="274.4" y="1991.8" font-family="'Liberation Sans', Arial, sans-serif" font-size="11" font-weight="normal" text-anchor="middle" fill="#1a1a1a" >100</text>
<text x="351.9" y="1991.8" font-family="'Liberation Sans', Arial, sans-serif" font-size="11" font-weight="normal" text-anchor="middle" fill="#1a1a1a" >150</text>
<text x="429.5" y="1991.8" font-family="'Liberation Sans', Arial, sans-serif" font-size="11" font-weight="normal" text-anchor="middle" fill="#1a1a1a" >200</text>
<text x="274.4" y="2007.8" font-family="'Liberation Sans', Arial, sans-serif" font-size="10.5" font-weight="normal" text-anchor="middle" fill="#1a1a1a" >FL2-A PI-A</text>
<text x="84.2" y="1830.2" font-family="'Liberation Sans', Arial, sans-serif" font-size="9.5" fill="#333" text-anchor="middle" transform="rotate(-90 84.2 1830.2)">Number</text>
<text x="205.6" y="1659.7" font-family="'Liberation Sans', Arial, sans-serif" font-size="43" font-weight="bold" textLength="105.4" lengthAdjust="spacingAndGlyphs">Lv ctrl</text>
<path d="M589.7,1965.4 L589.7,1965.3 L590.5,1965.3 L591.2,1965.2 L592,1965.2 L592.8,1965.1 L593.6,1965.1 L594.4,1965 L595.1,1964.9 L595.9,1964.8 L596.7,1964.7 L597.5,1964.6 L598.2,1964.4 L599,1964.2 L599.8,1964 L600.6,1963.7 L601.4,1963.4 L602.1,1962.9 L602.9,1962.5 L603.7,1961.9 L604.5,1961.2 L605.3,1960.5 L606,1959.6 L606.8,1958.6 L607.6,1957.4 L608.4,1956.1 L609.1,1954.7 L609.9,1953.2 L610.7,1951.5 L611.5,1949.7 L612.3,1947.9 L613,1946.1 L613.8,1944.2 L614.6,1942.4 L615.4,1940.6 L616.1,1939 L616.9,1937.4 L617.7,1936 L618.5,1934.7 L619.3,1933.6 L620,1932.6 L620.8,1931.7 L621.6,1930.9 L622.4,1930.2 L623.1,1929.7 L623.9,1929.2 L624.7,1928.8 L625.5,1928.4 L626.3,1928.2 L627,1927.9 L627.8,1927.7 L628.6,1927.6 L629.4,1927.4 L630.1,1927.3 L630.9,1927.2 L631.7,1927.1 L632.5,1927.1 L633.3,1927 L634,1927 L634.8,1926.9 L635.6,1926.9 L636.4,1926.9 L637.2,1926.8 L637.9,1926.8 L638.7,1926.8 L639.5,1926.8 L640.3,1926.8 L641,1926.8 L641.8,1926.8 L642.6,1926.8 L643.4,1926.8 L644.2,1926.8 L644.9,1926.8 L645.7,1926.8 L646.5,1926.8 L647.3,1926.8 L648,1926.8 L648.8,1926.8 L649.6,1926.8 L650.4,1926.8 L651.2,1926.8 L651.9,1926.8 L652.7,1926.8 L653.5,1926.8 L654.3,1926.8 L655,1926.8 L655.8,1926.8 L656.6,1926.8 L657.4,1926.8 L658.2,1926.8 L658.9,1926.8 L659.7,1926.8 L660.5,1926.8 L661.3,1926.8 L662,1926.8 L662.8,1926.8 L663.6,1926.8 L664.4,1926.8 L665.2,1926.8 L665.9,1926.8 L666.7,1926.8 L667.5,1926.8 L668.3,1926.9 L669,1926.9 L669.8,1926.9 L670.6,1926.9 L671.4,1926.9 L672.2,1926.9 L672.9,1927 L673.7,1927 L674.5,1927 L675.3,1927.1 L676.1,1927.1 L676.8,1927.2 L677.6,1927.2 L678.4,1927.3 L679.2,1927.4 L679.9,1927.4 L680.7,1927.5 L681.5,1927.6 L682.3,1927.7 L683.1,1927.9 L683.8,1928 L684.6,1928.2 L685.4,1928.4 L686.2,1928.6 L686.9,1928.8 L687.7,1929.1 L688.5,1929.4 L689.3,1929.7 L690.1,1930 L690.8,1930.4 L691.6,1930.9 L692.4,1931.4 L693.2,1931.9 L693.9,1932.5 L694.7,1933.1 L695.5,1933.8 L696.3,1934.5 L697.1,1935.4 L697.8,1936.2 L698.6,1937.1 L699.4,1938.1 L700.2,1939.1 L700.9,1940.2 L701.7,1941.3 L702.5,1942.5 L703.3,1943.7 L704.1,1944.9 L704.8,1946.1 L705.6,1947.3 L706.4,1948.5 L707.2,1949.7 L707.9,1950.8 L708.7,1951.9 L709.5,1953 L710.3,1954 L711.1,1955 L711.8,1955.9 L712.6,1956.8 L713.4,1957.6 L714.2,1958.3 L715,1959 L715.7,1959.7 L716.5,1960.3 L717.3,1960.8 L718.1,1961.3 L718.8,1961.7 L719.6,1962.1 L720.4,1962.5 L721.2,1962.8 L722,1963.1 L722.7,1963.3 L723.5,1963.6 L724.3,1963.8 L725.1,1964 L725.8,1964.1 L726.6,1964.3 L727.4,1964.4 L728.2,1964.5 L728.2,1965.4 Z" fill="url(#hatch)"/>
<path d="M580.4,1965.4 L580.4,1965.3 L581.1,1965.3 L581.9,1965.2 L582.7,1965.1 L583.5,1964.9 L584.2,1964.7 L585,1964.4 L585.8,1964 L586.6,1963.5 L587.4,1962.7 L588.1,1961.7 L588.9,1960.4 L589.7,1958.8 L590.5,1956.6 L591.2,1954 L592,1950.6 L592.8,1946.6 L593.6,1941.7 L594.4,1935.9 L595.1,1929.2 L595.9,1921.4 L596.7,1912.5 L597.5,1902.7 L598.2,1891.8 L599,1880.1 L599.8,1867.7 L600.6,1854.8 L601.4,1841.6 L602.1,1828.5 L602.9,1815.9 L603.7,1803.9 L604.5,1793.1 L605.3,1783.7 L606,1776 L606.8,1770.3 L607.6,1766.8 L608.4,1765.7 L609.1,1766.8 L609.9,1770.3 L610.7,1776 L611.5,1783.7 L612.3,1793.1 L613,1803.9 L613.8,1815.9 L614.6,1828.5 L615.4,1841.6 L616.1,1854.8 L616.9,1867.7 L617.7,1880.1 L618.5,1891.8 L619.3,1902.7 L620,1912.5 L620.8,1921.4 L621.6,1929.2 L622.4,1935.9 L623.1,1941.7 L623.9,1946.6 L624.7,1950.6 L625.5,1954 L626.3,1956.6 L627,1958.8 L627.8,1960.4 L628.6,1961.7 L629.4,1962.7 L630.1,1963.5 L630.9,1964 L631.7,1964.4 L632.5,1964.7 L633.3,1964.9 L634,1965.1 L634.8,1965.2 L635.6,1965.3 L636.4,1965.3 L636.4,1965.4 Z" fill="#f40000" stroke="#000" stroke-width="0.8"/>
<path d="M580.4,1965.4 L580.4,1965.4 L581.1,1965.4 L581.9,1965.4 L582.7,1965.4 L583.5,1965.4 L584.2,1965.4 L585,1965.4 L585.8,1965.4 L586.6,1965.3 L587.4,1965.3 L588.1,1965.3 L588.9,1965.3 L589.7,1965.3 L590.5,1965.3 L591.2,1965.2 L592,1965.2 L592.8,1965.1 L593.6,1965.1 L594.4,1965 L595.1,1964.9 L595.9,1964.8 L596.7,1964.7 L597.5,1964.6 L598.2,1964.4 L599,1964.2 L599.8,1964 L600.6,1963.7 L601.4,1963.4 L602.1,1962.9 L602.9,1962.5 L603.7,1961.9 L604.5,1961.2 L605.3,1960.5 L606,1959.6 L606.8,1958.6 L607.6,1957.4 L608.4,1956.1 L609.1,1954.7 L609.9,1953.2 L610.7,1951.5 L611.5,1949.7 L612.3,1947.9 L613,1946.1 L613.8,1944.2 L614.6,1942.4 L615.4,1940.6 L616.1,1939 L616.9,1937.4 L617.7,1936 L618.5,1934.7 L619.3,1933.6 L620,1932.6 L620.8,1931.7 L621.6,1930.9 L622.4,1935.9 L623.1,1941.7 L623.9,1946.6 L624.7,1950.6 L625.5,1954 L626.3,1956.6 L627,1958.8 L627.8,1960.4 L628.6,1961.7 L629.4,1962.7 L630.1,1963.5 L630.9,1964 L631.7,1964.4 L632.5,1964.7 L633.3,1964.9 L634,1965.1 L634.8,1965.2 L635.6,1965.3 L636.4,1965.3 L636.4,1965.4 Z" fill="url(#hatch2)" opacity="0.75"/>
<path d="M662.8,1965.4 L662.8,1965.4 L663.6,1965.4 L664.4,1965.4 L665.2,1965.3 L665.9,1965.3 L666.7,1965.3 L667.5,1965.3 L668.3,1965.3 L669,1965.2 L669.8,1965.2 L670.6,1965.1 L671.4,1965 L672.2,1964.9 L672.9,1964.8 L673.7,1964.7 L674.5,1964.5 L675.3,1964.3 L676.1,1964.1 L676.8,1963.8 L677.6,1963.5 L678.4,1963.1 L679.2,1962.7 L679.9,1962.2 L680.7,1961.6 L681.5,1961 L682.3,1960.2 L683.1,1959.4 L683.8,1958.4 L684.6,1957.3 L685.4,1956.2 L686.2,1954.8 L686.9,1953.4 L687.7,1951.8 L688.5,1950.1 L689.3,1948.3 L690.1,1946.3 L690.8,1944.3 L691.6,1942.1 L692.4,1939.8 L693.2,1937.4 L693.9,1934.9 L694.7,1932.4 L695.5,1929.8 L696.3,1927.2 L697.1,1924.7 L697.8,1922.1 L698.6,1919.7 L699.4,1917.3 L700.2,1915.1 L700.9,1912.9 L701.7,1911 L702.5,1909.3 L703.3,1907.8 L704.1,1906.5 L704.8,1905.5 L705.6,1904.8 L706.4,1904.3 L707.2,1904.2 L707.9,1904.3 L708.7,1904.8 L709.5,1905.5 L710.3,1906.5 L711.1,1907.8 L711.8,1909.3 L712.6,1911 L713.4,1912.9 L714.2,1915.1 L715,1917.3 L715.7,1919.7 L716.5,1922.1 L717.3,1924.7 L718.1,1927.2 L718.8,1929.8 L719.6,1932.4 L720.4,1934.9 L721.2,1937.4 L722,1939.8 L722.7,1942.1 L723.5,1944.3 L724.3,1946.3 L725.1,1948.3 L725.8,1950.1 L726.6,1951.8 L727.4,1953.4 L728.2,1954.8 L729,1956.2 L729.7,1957.3 L730.5,1958.4 L731.3,1959.4 L732.1,1960.2 L732.8,1961 L733.6,1961.6 L734.4,1962.2 L735.2,1962.7 L736,1963.1 L736.7,1963.5 L737.5,1963.8 L738.3,1964.1 L739.1,1964.3 L739.8,1964.5 L740.6,1964.7 L741.4,1964.8 L742.2,1964.9 L743,1965 L743.7,1965.1 L744.5,1965.2 L745.3,1965.2 L746.1,1965.3 L746.8,1965.3 L747.6,1965.3 L748.4,1965.3 L749.2,1965.3 L750,1965.4 L750.7,1965.4 L751.5,1965.4 L751.5,1965.4 Z" fill="#f40000" stroke="#000" stroke-width="0.8"/>
<path d="M662.8,1965.4 L662.8,1965.4 L663.6,1965.4 L664.4,1965.4 L665.2,1965.3 L665.9,1965.3 L666.7,1965.3 L667.5,1965.3 L668.3,1965.3 L669,1965.2 L669.8,1965.2 L670.6,1965.1 L671.4,1965 L672.2,1964.9 L672.9,1964.8 L673.7,1964.7 L674.5,1964.5 L675.3,1964.3 L676.1,1964.1 L676.8,1963.8 L677.6,1963.5 L678.4,1963.1 L679.2,1962.7 L679.9,1962.2 L680.7,1961.6 L681.5,1961 L682.3,1960.2 L683.1,1959.4 L683.8,1958.4 L684.6,1957.3 L685.4,1956.2 L686.2,1954.8 L686.9,1953.4 L687.7,1951.8 L688.5,1950.1 L689.3,1948.3 L690.1,1946.3 L690.8,1944.3 L691.6,1942.1 L692.4,1939.8 L693.2,1937.4 L693.9,1934.9 L694.7,1933.1 L695.5,1933.8 L696.3,1934.5 L697.1,1935.4 L697.8,1936.2 L698.6,1937.1 L699.4,1938.1 L700.2,1939.1 L700.9,1940.2 L701.7,1941.3 L702.5,1942.5 L703.3,1943.7 L704.1,1944.9 L704.8,1946.1 L705.6,1947.3 L706.4,1948.5 L707.2,1949.7 L707.9,1950.8 L708.7,1951.9 L709.5,1953 L710.3,1954 L711.1,1955 L711.8,1955.9 L712.6,1956.8 L713.4,1957.6 L714.2,1958.3 L715,1959 L715.7,1959.7 L716.5,1960.3 L717.3,1960.8 L718.1,1961.3 L718.8,1961.7 L719.6,1962.1 L720.4,1962.5 L721.2,1962.8 L722,1963.1 L722.7,1963.3 L723.5,1963.6 L724.3,1963.8 L725.1,1964 L725.8,1964.1 L726.6,1964.3 L727.4,1964.4 L728.2,1964.5 L729,1964.6 L729.7,1964.7 L730.5,1964.8 L731.3,1964.9 L732.1,1964.9 L732.8,1965 L733.6,1965 L734.4,1965.1 L735.2,1965.1 L736,1965.1 L736.7,1965.2 L737.5,1965.2 L738.3,1965.2 L739.1,1965.2 L739.8,1965.3 L740.6,1965.3 L741.4,1965.3 L742.2,1965.3 L743,1965.3 L743.7,1965.3 L744.5,1965.3 L745.3,1965.3 L746.1,1965.3 L746.8,1965.4 L747.6,1965.4 L748.4,1965.4 L749.2,1965.4 L750,1965.4 L750.7,1965.4 L751.5,1965.4 L751.5,1965.4 Z" fill="url(#hatch2)" opacity="0.75"/>
<polyline points="589.7,1965.3 590.5,1965.3 591.2,1965.2 592,1965.2 592.8,1965.1 593.6,1965.1 594.4,1965 595.1,1964.9 595.9,1964.8 596.7,1964.7 597.5,1964.6 598.2,1964.4 599,1964.2 599.8,1964 600.6,1963.7 601.4,1963.4 602.1,1962.9 602.9,1962.5 603.7,1961.9 604.5,1961.2 605.3,1960.5 606,1959.6 606.8,1958.6 607.6,1957.4 608.4,1956.1 609.1,1954.7 609.9,1953.2 610.7,1951.5 611.5,1949.7 612.3,1947.9 613,1946.1 613.8,1944.2 614.6,1942.4 615.4,1940.6 616.1,1939 616.9,1937.4 617.7,1936 618.5,1934.7 619.3,1933.6 620,1932.6 620.8,1931.7 621.6,1930.9 622.4,1930.2 623.1,1929.7 623.9,1929.2 624.7,1928.8 625.5,1928.4 626.3,1928.2 627,1927.9 627.8,1927.7 628.6,1927.6 629.4,1927.4 630.1,1927.3 630.9,1927.2 631.7,1927.1 632.5,1927.1 633.3,1927 634,1927 634.8,1926.9 635.6,1926.9 636.4,1926.9 637.2,1926.8 637.9,1926.8 638.7,1926.8 639.5,1926.8 640.3,1926.8 641,1926.8 641.8,1926.8 642.6,1926.8 643.4,1926.8 644.2,1926.8 644.9,1926.8 645.7,1926.8 646.5,1926.8 647.3,1926.8 648,1926.8 648.8,1926.8 649.6,1926.8 650.4,1926.8 651.2,1926.8 651.9,1926.8 652.7,1926.8 653.5,1926.8 654.3,1926.8 655,1926.8 655.8,1926.8 656.6,1926.8 657.4,1926.8 658.2,1926.8 658.9,1926.8 659.7,1926.8 660.5,1926.8 661.3,1926.8 662,1926.8 662.8,1926.8 663.6,1926.8 664.4,1926.8 665.2,1926.8 665.9,1926.8 666.7,1926.8 667.5,1926.8 668.3,1926.9 669,1926.9 669.8,1926.9 670.6,1926.9 671.4,1926.9 672.2,1926.9 672.9,1927 673.7,1927 674.5,1927 675.3,1927.1 676.1,1927.1 676.8,1927.2 677.6,1927.2 678.4,1927.3 679.2,1927.4 679.9,1927.4 680.7,1927.5 681.5,1927.6 682.3,1927.7 683.1,1927.9 683.8,1928 684.6,1928.2 685.4,1928.4 686.2,1928.6 686.9,1928.8 687.7,1929.1 688.5,1929.4 689.3,1929.7 690.1,1930 690.8,1930.4 691.6,1930.9 692.4,1931.4 693.2,1931.9 693.9,1932.5 694.7,1933.1 695.5,1933.8 696.3,1934.5 697.1,1935.4 697.8,1936.2 698.6,1937.1 699.4,1938.1 700.2,1939.1 700.9,1940.2 701.7,1941.3 702.5,1942.5 703.3,1943.7 704.1,1944.9 704.8,1946.1 705.6,1947.3 706.4,1948.5 707.2,1949.7 707.9,1950.8 708.7,1951.9 709.5,1953 710.3,1954 711.1,1955 711.8,1955.9 712.6,1956.8 713.4,1957.6 714.2,1958.3 715,1959 715.7,1959.7 716.5,1960.3 717.3,1960.8 718.1,1961.3 718.8,1961.7 719.6,1962.1 720.4,1962.5 721.2,1962.8 722,1963.1 722.7,1963.3 723.5,1963.6 724.3,1963.8 725.1,1964 725.8,1964.1 726.6,1964.3 727.4,1964.4 728.2,1964.5" fill="none" stroke="#222" stroke-width="0.8"/>
<polyline points="571,1965.4 571.8,1965.4 572.6,1965.4 573.4,1965.4 574.1,1965.4 574.9,1965.4 575.7,1965.4 576.5,1965.4 577.2,1965.4 578,1965.4 578.8,1965.4 579.6,1965.3 580.4,1965.3 581.1,1965.2 581.9,1965.2 582.7,1965.1 583.5,1964.9 584.2,1964.7 585,1964.4 585.8,1964 586.6,1963.4 587.4,1962.6 588.1,1961.6 588.9,1960.3 589.7,1958.6 590.5,1956.5 591.2,1953.8 592,1950.4 592.8,1946.3 593.6,1941.4 594.4,1935.6 595.1,1928.7 595.9,1920.8 596.7,1911.9 597.5,1901.8 598.2,1890.8 599,1878.9 599.8,1866.3 600.6,1853.1 601.4,1839.6 602.1,1826.1 602.9,1812.9 603.7,1800.4 604.5,1788.9 605.3,1778.8 606,1770.2 606.8,1763.5 607.6,1758.9 608.4,1756.4 609.1,1756.2 609.9,1758.1 610.7,1762.1 611.5,1768 612.3,1775.6 613,1784.6 613.8,1794.7 614.6,1805.5 615.4,1816.9 616.1,1828.4 616.9,1839.7 617.7,1850.7 618.5,1861.1 619.3,1870.8 620,1879.7 620.8,1887.7 621.6,1894.7 622.4,1900.8 623.1,1906 623.9,1910.4 624.7,1914 625.5,1917 626.3,1919.4 627,1921.3 627.8,1922.7 628.6,1923.9 629.4,1924.7 630.1,1925.4 630.9,1925.8 631.7,1926.1 632.5,1926.4 633.3,1926.5 634,1926.6 634.8,1926.7 635.6,1926.7 636.4,1926.8 637.2,1926.8 637.9,1926.8 638.7,1926.8 639.5,1926.8 640.3,1926.8 641,1926.8 641.8,1926.8 642.6,1926.8 643.4,1926.8 644.2,1926.8 644.9,1926.8 645.7,1926.8 646.5,1926.8 647.3,1926.8 648,1926.8 648.8,1926.8 649.6,1926.8 650.4,1926.8 651.2,1926.8 651.9,1926.8 652.7,1926.8 653.5,1926.8 654.3,1926.8 655,1926.8 655.8,1926.8 656.6,1926.8 657.4,1926.8 658.2,1926.8 658.9,1926.8 659.7,1926.8 660.5,1926.8 661.3,1926.8 662,1926.8 662.8,1926.8 663.6,1926.8 664.4,1926.8 665.2,1926.8 665.9,1926.7 666.7,1926.7 667.5,1926.7 668.3,1926.7 669,1926.7 669.8,1926.6 670.6,1926.6 671.4,1926.5 672.2,1926.5 672.9,1926.4 673.7,1926.3 674.5,1926.2 675.3,1926 676.1,1925.8 676.8,1925.6 677.6,1925.3 678.4,1925 679.2,1924.7 679.9,1924.2 680.7,1923.8 681.5,1923.2 682.3,1922.6 683.1,1921.8 683.8,1921 684.6,1920.1 685.4,1919.1 686.2,1918 686.9,1916.8 687.7,1915.5 688.5,1914.1 689.3,1912.6 690.1,1911 690.8,1909.3 691.6,1907.5 692.4,1905.7 693.2,1903.9 693.9,1902 694.7,1900.1 695.5,1898.2 696.3,1896.4 697.1,1894.6 697.8,1893 698.6,1891.4 699.4,1890 700.2,1888.8 700.9,1887.8 701.7,1887 702.5,1886.4 703.3,1886 704.1,1886 704.8,1886.2 705.6,1886.7 706.4,1887.4 707.2,1888.4 707.9,1889.7 708.7,1891.3 709.5,1893.1 710.3,1895.1 711.1,1897.4 711.8,1899.8 712.6,1902.4 713.4,1905.1 714.2,1908 715,1910.9 715.7,1914 716.5,1917 717.3,1920.1 718.1,1923.1 718.8,1926.1 719.6,1929.1 720.4,1932 721.2,1934.8 722,1937.4 722.7,1940 723.5,1942.4 724.3,1944.7 725.1,1946.9 725.8,1948.9 726.6,1950.7 727.4,1952.4 728.2,1954 729,1955.4 729.7,1956.6 730.5,1957.8 731.3,1958.8 732.1,1959.7 732.8,1960.5 733.6,1961.3 734.4,1961.9 735.2,1962.4 736,1962.9 736.7,1963.3 737.5,1963.6 738.3,1963.9 739.1,1964.2 739.8,1964.4 740.6,1964.6 741.4,1964.7 742.2,1964.8 743,1964.9 743.7,1965 744.5,1965.1 745.3,1965.2 746.1,1965.2 746.8,1965.2 747.6,1965.3 748.4,1965.3 749.2,1965.3 750,1965.3 750.7,1965.3 751.5,1965.4 752.3,1965.4 753.1,1965.4 753.9,1965.4 754.6,1965.4 755.4,1965.4 756.2,1965.4 757,1965.4 757.7,1965.4 758.5,1965.4 759.3,1965.4 760.1,1965.4 760.9,1965.4 761.6,1965.4 762.4,1965.4 763.2,1965.4 764,1965.4 764.7,1965.4 765.5,1965.4 766.3,1965.4 767.1,1965.4 767.9,1965.4 768.6,1965.4 769.4,1965.4 770.2,1965.4 771,1965.4 771.7,1965.4 772.5,1965.4 773.3,1965.4" fill="none" stroke="#3a6a6a" stroke-width="0.9"/>
<polyline points="575.7,1965.4 576.5,1965.4 577.2,1965.4 578,1965.4 578.8,1965.4 579.6,1965.3 580.4,1965.3 581.1,1965.2 581.9,1965.2 582.7,1965 583.5,1964.9 584.2,1964.7 585,1964.3 585.8,1963.9 586.6,1961 587.4,1959 588.1,1958.7 588.9,1957.6 589.7,1955.6 590.5,1955.6 591.2,1952 592,1947.3 592.8,1944.1 593.6,1938.6 594.4,1932.7 595.1,1925.9 595.9,1917.9 596.7,1908.1 597.5,1896.3 598.2,1886 599,1873.7 599.8,1857.5 600.6,1839.2 601.4,1831 602.1,1809.6 602.9,1798 603.7,1786.7 604.5,1777.1 605.3,1757.2 606,1747.9 606.8,1740.1 607.6,1737.3 608.4,1727.2 609.1,1728.9 609.9,1737.5 610.7,1734.1 611.5,1750.9 612.3,1759 613,1766 613.8,1780.3 614.6,1802.5 615.4,1807.9 616.1,1824.8 616.9,1835.8 617.7,1848.7 618.5,1860 619.3,1870.7 620,1875.5 620.8,1888.1 621.6,1893.6 622.4,1898.5 623.1,1900.6 623.9,1910.9 624.7,1912.4 625.5,1916.2 626.3,1916.9 627,1918.7 627.8,1922.7 628.6,1924.4 629.4,1923.6 630.1,1921.6 630.9,1925.3 631.7,1925.7 632.5,1926.3 633.3,1925.7 634,1922.4 634.8,1924.7 635.6,1926.1 636.4,1923.9 637.2,1925.8 637.9,1924.7 638.7,1924.7 639.5,1923.4 640.3,1923.9 641,1926 641.8,1926.8 642.6,1923.8 643.4,1923 644.2,1924.6 644.9,1923.7 645.7,1924.5 646.5,1925.5 647.3,1927.6 648,1926.2 648.8,1922.9 649.6,1925.7 650.4,1923.3 651.2,1923.7 651.9,1924.6 652.7,1923.1 653.5,1925.4 654.3,1927.4 655,1923.1 655.8,1923.9 656.6,1923.5 657.4,1923.5 658.2,1922.6 658.9,1922.4 659.7,1925 660.5,1926.5 661.3,1924.5 662,1927.2 662.8,1926.8 663.6,1925.5 664.4,1925.8 665.2,1925.5 665.9,1924.4 666.7,1922.9 667.5,1923.5 668.3,1924.1 669,1925.3 669.8,1926.3 670.6,1926 671.4,1923.3 672.2,1924.1 672.9,1922.3 673.7,1924.7 674.5,1923.8 675.3,1920.7 676.1,1921.6 676.8,1922.3 677.6,1919.2 678.4,1921.6 679.2,1922.9 679.9,1920.1 680.7,1917.9 681.5,1916.3 682.3,1917 683.1,1912.4 683.8,1914.8 684.6,1909 685.4,1910.9 686.2,1909.1 686.9,1905 687.7,1902.6 688.5,1901.8 689.3,1899.4 690.1,1896.6 690.8,1894.2 691.6,1893.8 692.4,1889.7 693.2,1886.3 693.9,1885.4 694.7,1884.3 695.5,1880 696.3,1877.5 697.1,1874.7 697.8,1870.9 698.6,1874.5 699.4,1869.8 700.2,1871.6 700.9,1865.9 701.7,1866.7 702.5,1866.4 703.3,1868.5 704.1,1866.3 704.8,1868.5 705.6,1868.1 706.4,1866.7 707.2,1869 707.9,1871.3 708.7,1877.1 709.5,1876.5 710.3,1875.4 711.1,1880.1 711.8,1882.9 712.6,1887.1 713.4,1892.4 714.2,1894.4 715,1897.7 715.7,1899 716.5,1902.3 717.3,1909.9 718.1,1909 718.8,1916.8 719.6,1920.8 720.4,1922.6 721.2,1926.9 722,1930.4 722.7,1933 723.5,1935.8 724.3,1937.8 725.1,1942.7 725.8,1946 726.6,1945.3 727.4,1947.1 728.2,1949.4 729,1951.8 729.7,1953.5 730.5,1955.8 731.3,1957.3 732.1,1957.3 732.8,1956.6 733.6,1957.2 734.4,1959.1 735.2,1959.9 736,1961.9 736.7,1959.6 737.5,1962.8 738.3,1963.5 739.1,1963.3 739.8,1963.9 740.6,1963.9 741.4,1963.6 742.2,1963.3 743,1964.4 743.7,1964.4 744.5,1963.6 745.3,1963.7 746.1,1965 746.8,1964.5 747.6,1964.9 748.4,1965 749.2,1963.4 750,1964.9 750.7,1964.4 751.5,1965.1 752.3,1963.9 753.1,1964 753.9,1963.9 754.6,1964.5 755.4,1965.1 756.2,1964.9 757,1965.3 757.7,1965.4 758.5,1965.4 759.3,1965.4 760.1,1965.4 760.9,1965.4 761.6,1965.4 762.4,1965.4 763.2,1965.4 764,1965.4 764.7,1965.4 765.5,1965.4 766.3,1965.4 767.1,1965.4 767.9,1965.4 768.6,1965.4" fill="none" stroke="#000" stroke-width="1.3"/>
<g stroke="#111" stroke-width="1.6">
<line x1="501" y1="1693.8" x2="501" y2="1965.4"/>
<line x1="489" y1="1965.4" x2="812.2" y2="1965.4"/>
<line x1="489" y1="1965.4" x2="501" y2="1965.4"/>
<line x1="495" y1="1952.5" x2="501" y2="1952.5"/>
<line x1="495" y1="1939.6" x2="501" y2="1939.6"/>
<line x1="495" y1="1926.7" x2="501" y2="1926.7"/>
<line x1="495" y1="1913.9" x2="501" y2="1913.9"/>
<line x1="489" y1="1901" x2="501" y2="1901"/>
<line x1="495" y1="1888.1" x2="501" y2="1888.1"/>
<line x1="495" y1="1875.2" x2="501" y2="1875.2"/>
<line x1="495" y1="1862.3" x2="501" y2="1862.3"/>
<line x1="495" y1="1849.4" x2="501" y2="1849.4"/>
<line x1="489" y1="1836.5" x2="501" y2="1836.5"/>
<line x1="495" y1="1823.7" x2="501" y2="1823.7"/>
<line x1="495" y1="1810.8" x2="501" y2="1810.8"/>
<line x1="495" y1="1797.9" x2="501" y2="1797.9"/>
<line x1="495" y1="1785" x2="501" y2="1785"/>
<line x1="489" y1="1772.1" x2="501" y2="1772.1"/>
<line x1="495" y1="1759.2" x2="501" y2="1759.2"/>
<line x1="495" y1="1746.3" x2="501" y2="1746.3"/>
<line x1="495" y1="1733.5" x2="501" y2="1733.5"/>
<line x1="495" y1="1720.6" x2="501" y2="1720.6"/>
<line x1="489" y1="1707.7" x2="501" y2="1707.7"/>
<line x1="495" y1="1694.8" x2="501" y2="1694.8"/>
<line x1="501" y1="1965.4" x2="501" y2="1977.4"/>
<line x1="516.6" y1="1965.4" x2="516.6" y2="1971.4"/>
<line x1="532.1" y1="1965.4" x2="532.1" y2="1971.4"/>
<line x1="547.7" y1="1965.4" x2="547.7" y2="1971.4"/>
<line x1="563.2" y1="1965.4" x2="563.2" y2="1971.4"/>
<line x1="578.8" y1="1965.4" x2="578.8" y2="1977.4"/>
<line x1="594.4" y1="1965.4" x2="594.4" y2="1971.4"/>
<line x1="609.9" y1="1965.4" x2="609.9" y2="1971.4"/>
<line x1="625.5" y1="1965.4" x2="625.5" y2="1971.4"/>
<line x1="641" y1="1965.4" x2="641" y2="1971.4"/>
<line x1="656.6" y1="1965.4" x2="656.6" y2="1977.4"/>
<line x1="672.2" y1="1965.4" x2="672.2" y2="1971.4"/>
<line x1="687.7" y1="1965.4" x2="687.7" y2="1971.4"/>
<line x1="703.3" y1="1965.4" x2="703.3" y2="1971.4"/>
<line x1="718.8" y1="1965.4" x2="718.8" y2="1971.4"/>
<line x1="734.4" y1="1965.4" x2="734.4" y2="1977.4"/>
<line x1="750" y1="1965.4" x2="750" y2="1971.4"/>
<line x1="765.5" y1="1965.4" x2="765.5" y2="1971.4"/>
<line x1="781.1" y1="1965.4" x2="781.1" y2="1971.4"/>
<line x1="796.6" y1="1965.4" x2="796.6" y2="1971.4"/>
<line x1="812.2" y1="1965.4" x2="812.2" y2="1977.4"/>
</g>
<text x="479" y="1965.4" font-family="'Liberation Sans', Arial, sans-serif" font-size="10.5" fill="#1a1a1a" text-anchor="middle" transform="rotate(-90 479 1965.4)">0</text>
<text x="479" y="1901" font-family="'Liberation Sans', Arial, sans-serif" font-size="10.5" fill="#1a1a1a" text-anchor="middle" transform="rotate(-90 479 1901)">100</text>
<text x="479" y="1836.5" font-family="'Liberation Sans', Arial, sans-serif" font-size="10.5" fill="#1a1a1a" text-anchor="middle" transform="rotate(-90 479 1836.5)">200</text>
<text x="479" y="1772.1" font-family="'Liberation Sans', Arial, sans-serif" font-size="10.5" fill="#1a1a1a" text-anchor="middle" transform="rotate(-90 479 1772.1)">300</text>
<text x="479" y="1707.7" font-family="'Liberation Sans', Arial, sans-serif" font-size="10.5" fill="#1a1a1a" text-anchor="middle" transform="rotate(-90 479 1707.7)">400</text>
<text x="501" y="1992.4" font-family="'Liberation Sans', Arial, sans-serif" font-size="11" font-weight="normal" text-anchor="middle" fill="#1a1a1a" >0</text>
<text x="578.8" y="1992.4" font-family="'Liberation Sans', Arial, sans-serif" font-size="11" font-weight="normal" text-anchor="middle" fill="#1a1a1a" >50</text>
<text x="656.6" y="1992.4" font-family="'Liberation Sans', Arial, sans-serif" font-size="11" font-weight="normal" text-anchor="middle" fill="#1a1a1a" >100</text>
<text x="734.4" y="1992.4" font-family="'Liberation Sans', Arial, sans-serif" font-size="11" font-weight="normal" text-anchor="middle" fill="#1a1a1a" >150</text>
<text x="812.2" y="1992.4" font-family="'Liberation Sans', Arial, sans-serif" font-size="11" font-weight="normal" text-anchor="middle" fill="#1a1a1a" >200</text>
<text x="656.6" y="2008.4" font-family="'Liberation Sans', Arial, sans-serif" font-size="10.5" font-weight="normal" text-anchor="middle" fill="#1a1a1a" >FL2-A PI-A</text>
<text x="466" y="1830.1" font-family="'Liberation Sans', Arial, sans-serif" font-size="9.5" fill="#333" text-anchor="middle" transform="rotate(-90 466 1830.1)">Number</text>
<text x="571.2" y="1659.7" font-family="'Liberation Sans', Arial, sans-serif" font-size="43" font-weight="bold" textLength="171.6" lengthAdjust="spacingAndGlyphs">Lv GRB14</text>
<path d="M204.9,2416.9 L204.9,2416.8 L205.7,2416.8 L206.4,2416.8 L207.2,2416.8 L208,2416.7 L208.8,2416.7 L209.5,2416.7 L210.3,2416.6 L211.1,2416.6 L211.9,2416.5 L212.6,2416.4 L213.4,2416.3 L214.2,2416.2 L215,2416.1 L215.7,2415.9 L216.5,2415.7 L217.3,2415.5 L218.1,2415.2 L218.8,2414.9 L219.6,2414.5 L220.4,2414 L221.2,2413.5 L221.9,2412.9 L222.7,2412.2 L223.5,2411.5 L224.3,2410.6 L225,2409.7 L225.8,2408.8 L226.6,2407.7 L227.4,2406.7 L228.1,2405.6 L228.9,2404.5 L229.7,2403.4 L230.5,2402.4 L231.2,2401.4 L232,2400.5 L232.8,2399.7 L233.6,2398.9 L234.3,2398.3 L235.1,2397.7 L235.9,2397.2 L236.6,2396.7 L237.4,2396.3 L238.2,2396 L239,2395.7 L239.7,2395.5 L240.5,2395.3 L241.3,2395.1 L242.1,2395 L242.8,2394.8 L243.6,2394.7 L244.4,2394.7 L245.2,2394.6 L245.9,2394.5 L246.7,2394.5 L247.5,2394.5 L248.3,2394.4 L249,2394.4 L249.8,2394.4 L250.6,2394.4 L251.4,2394.3 L252.1,2394.3 L252.9,2394.3 L253.7,2394.3 L254.5,2394.3 L255.2,2394.3 L256,2394.3 L256.8,2394.3 L257.6,2394.3 L258.3,2394.3 L259.1,2394.3 L259.9,2394.3 L260.7,2394.3 L261.4,2394.3 L262.2,2394.3 L263,2394.3 L263.8,2394.3 L264.5,2394.3 L265.3,2394.3 L266.1,2394.3 L266.9,2394.3 L267.6,2394.3 L268.4,2394.3 L269.2,2394.3 L270,2394.3 L270.7,2394.3 L271.5,2394.3 L272.3,2394.3 L273.1,2394.3 L273.8,2394.3 L274.6,2394.3 L275.4,2394.3 L276.1,2394.3 L276.9,2394.3 L277.7,2394.3 L278.5,2394.3 L279.2,2394.3 L280,2394.3 L280.8,2394.3 L281.6,2394.4 L282.3,2394.4 L283.1,2394.4 L283.9,2394.4 L284.7,2394.4 L285.4,2394.4 L286.2,2394.4 L287,2394.5 L287.8,2394.5 L288.5,2394.5 L289.3,2394.6 L290.1,2394.6 L290.9,2394.6 L291.6,2394.7 L292.4,2394.7 L293.2,2394.8 L294,2394.9 L294.7,2394.9 L295.5,2395 L296.3,2395.1 L297.1,2395.2 L297.8,2395.3 L298.6,2395.5 L299.4,2395.6 L300.2,2395.8 L300.9,2396 L301.7,2396.2 L302.5,2396.4 L303.3,2396.7 L304,2397 L304.8,2397.3 L305.6,2397.6 L306.4,2398 L307.1,2398.4 L307.9,2398.8 L308.7,2399.3 L309.5,2399.8 L310.2,2400.4 L311,2400.9 L311.8,2401.5 L312.6,2402.2 L313.3,2402.8 L314.1,2403.5 L314.9,2404.2 L315.6,2404.9 L316.4,2405.6 L317.2,2406.3 L318,2407 L318.7,2407.7 L319.5,2408.4 L320.3,2409 L321.1,2409.6 L321.8,2410.2 L322.6,2410.8 L323.4,2411.4 L324.2,2411.9 L324.9,2412.3 L325.7,2412.8 L326.5,2413.2 L327.3,2413.6 L328,2413.9 L328.8,2414.2 L329.6,2414.5 L330.4,2414.7 L331.1,2415 L331.9,2415.2 L332.7,2415.4 L333.5,2415.5 L334.2,2415.7 L335,2415.8 L335.8,2415.9 L336.6,2416.1 L337.3,2416.2 L338.1,2416.2 L338.9,2416.3 L339.7,2416.4 L339.7,2416.9 Z" fill="url(#hatch)"/>
<path d="M197.9,2416.9 L197.9,2416.8 L198.7,2416.7 L199.5,2416.7 L200.2,2416.5 L201,2416.3 L201.8,2416 L202.6,2415.6 L203.3,2415 L204.1,2414.2 L204.9,2413.1 L205.7,2411.6 L206.4,2409.6 L207.2,2407 L208,2403.6 L208.8,2399.4 L209.5,2394.1 L210.3,2387.7 L211.1,2380 L211.9,2371 L212.6,2360.5 L213.4,2348.6 L214.2,2335.3 L215,2320.9 L215.7,2305.5 L216.5,2289.5 L217.3,2273.1 L218.1,2257 L218.8,2241.6 L219.6,2227.4 L220.4,2214.9 L221.2,2204.6 L221.9,2197 L222.7,2192.2 L223.5,2190.7 L224.3,2192.2 L225,2197 L225.8,2204.6 L226.6,2214.9 L227.4,2227.4 L228.1,2241.6 L228.9,2257 L229.7,2273.1 L230.5,2289.5 L231.2,2305.5 L232,2320.9 L232.8,2335.3 L233.6,2348.6 L234.3,2360.5 L235.1,2371 L235.9,2380 L236.6,2387.7 L237.4,2394.1 L238.2,2399.4 L239,2403.6 L239.7,2407 L240.5,2409.6 L241.3,2411.6 L242.1,2413.1 L242.8,2414.2 L243.6,2415 L244.4,2415.6 L245.2,2416 L245.9,2416.3 L246.7,2416.5 L247.5,2416.7 L248.3,2416.7 L249,2416.8 L249,2416.9 Z" fill="#f40000" stroke="#000" stroke-width="0.8"/>
<path d="M197.9,2416.9 L197.9,2416.9 L198.7,2416.9 L199.5,2416.9 L200.2,2416.9 L201,2416.9 L201.8,2416.9 L202.6,2416.9 L203.3,2416.9 L204.1,2416.8 L204.9,2416.8 L205.7,2416.8 L206.4,2416.8 L207.2,2416.8 L208,2416.7 L208.8,2416.7 L209.5,2416.7 L210.3,2416.6 L211.1,2416.6 L211.9,2416.5 L212.6,2416.4 L213.4,2416.3 L214.2,2416.2 L215,2416.1 L215.7,2415.9 L216.5,2415.7 L217.3,2415.5 L218.1,2415.2 L218.8,2414.9 L219.6,2414.5 L220.4,2414 L221.2,2413.5 L221.9,2412.9 L222.7,2412.2 L223.5,2411.5 L224.3,2410.6 L225,2409.7 L225.8,2408.8 L226.6,2407.7 L227.4,2406.7 L228.1,2405.6 L228.9,2404.5 L229.7,2403.4 L230.5,2402.4 L231.2,2401.4 L232,2400.5 L232.8,2399.7 L233.6,2398.9 L234.3,2398.3 L235.1,2397.7 L235.9,2397.2 L236.6,2396.7 L237.4,2396.3 L238.2,2399.4 L239,2403.6 L239.7,2407 L240.5,2409.6 L241.3,2411.6 L242.1,2413.1 L242.8,2414.2 L243.6,2415 L244.4,2415.6 L245.2,2416 L245.9,2416.3 L246.7,2416.5 L247.5,2416.7 L248.3,2416.7 L249,2416.8 L249,2416.9 Z" fill="url(#hatch2)" opacity="0.75"/>
<path d="M273.8,2416.9 L273.8,2416.9 L274.6,2416.9 L275.4,2416.9 L276.1,2416.9 L276.9,2416.9 L277.7,2416.9 L278.5,2416.8 L279.2,2416.8 L280,2416.8 L280.8,2416.8 L281.6,2416.7 L282.3,2416.7 L283.1,2416.7 L283.9,2416.6 L284.7,2416.5 L285.4,2416.4 L286.2,2416.3 L287,2416.2 L287.8,2416 L288.5,2415.9 L289.3,2415.7 L290.1,2415.4 L290.9,2415.1 L291.6,2414.8 L292.4,2414.4 L293.2,2414 L294,2413.5 L294.7,2412.9 L295.5,2412.3 L296.3,2411.6 L297.1,2410.9 L297.8,2410 L298.6,2409.1 L299.4,2408.1 L300.2,2407 L300.9,2405.9 L301.7,2404.7 L302.5,2403.4 L303.3,2402.1 L304,2400.7 L304.8,2399.2 L305.6,2397.8 L306.4,2396.3 L307.1,2394.8 L307.9,2393.4 L308.7,2392 L309.5,2390.6 L310.2,2389.3 L311,2388.1 L311.8,2387 L312.6,2385.9 L313.3,2385.1 L314.1,2384.3 L314.9,2383.7 L315.6,2383.3 L316.4,2383 L317.2,2383 L318,2383 L318.7,2383.3 L319.5,2383.7 L320.3,2384.3 L321.1,2385.1 L321.8,2385.9 L322.6,2387 L323.4,2388.1 L324.2,2389.3 L324.9,2390.6 L325.7,2392 L326.5,2393.4 L327.3,2394.8 L328,2396.3 L328.8,2397.8 L329.6,2399.2 L330.4,2400.7 L331.1,2402.1 L331.9,2403.4 L332.7,2404.7 L333.5,2405.9 L334.2,2407 L335,2408.1 L335.8,2409.1 L336.6,2410 L337.3,2410.9 L338.1,2411.6 L338.9,2412.3 L339.7,2412.9 L340.4,2413.5 L341.2,2414 L342,2414.4 L342.8,2414.8 L343.5,2415.1 L344.3,2415.4 L345.1,2415.7 L345.9,2415.9 L346.6,2416 L347.4,2416.2 L348.2,2416.3 L349,2416.4 L349.7,2416.5 L350.5,2416.6 L351.3,2416.7 L352.1,2416.7 L352.8,2416.7 L353.6,2416.8 L354.4,2416.8 L355.1,2416.8 L355.9,2416.8 L356.7,2416.9 L357.5,2416.9 L358.2,2416.9 L359,2416.9 L359.8,2416.9 L360.6,2416.9 L360.6,2416.9 Z" fill="#f40000" stroke="#000" stroke-width="0.8"/>
<path d="M273.8,2416.9 L273.8,2416.9 L274.6,2416.9 L275.4,2416.9 L276.1,2416.9 L276.9,2416.9 L277.7,2416.9 L278.5,2416.8 L279.2,2416.8 L280,2416.8 L280.8,2416.8 L281.6,2416.7 L282.3,2416.7 L283.1,2416.7 L283.9,2416.6 L284.7,2416.5 L285.4,2416.4 L286.2,2416.3 L287,2416.2 L287.8,2416 L288.5,2415.9 L289.3,2415.7 L290.1,2415.4 L290.9,2415.1 L291.6,2414.8 L292.4,2414.4 L293.2,2414 L294,2413.5 L294.7,2412.9 L295.5,2412.3 L296.3,2411.6 L297.1,2410.9 L297.8,2410 L298.6,2409.1 L299.4,2408.1 L300.2,2407 L300.9,2405.9 L301.7,2404.7 L302.5,2403.4 L303.3,2402.1 L304,2400.7 L304.8,2399.2 L305.6,2397.8 L306.4,2398 L307.1,2398.4 L307.9,2398.8 L308.7,2399.3 L309.5,2399.8 L310.2,2400.4 L311,2400.9 L311.8,2401.5 L312.6,2402.2 L313.3,2402.8 L314.1,2403.5 L314.9,2404.2 L315.6,2404.9 L316.4,2405.6 L317.2,2406.3 L318,2407 L318.7,2407.7 L319.5,2408.4 L320.3,2409 L321.1,2409.6 L321.8,2410.2 L322.6,2410.8 L323.4,2411.4 L324.2,2411.9 L324.9,2412.3 L325.7,2412.8 L326.5,2413.2 L327.3,2413.6 L328,2413.9 L328.8,2414.2 L329.6,2414.5 L330.4,2414.7 L331.1,2415 L331.9,2415.2 L332.7,2415.4 L333.5,2415.5 L334.2,2415.7 L335,2415.8 L335.8,2415.9 L336.6,2416.1 L337.3,2416.2 L338.1,2416.2 L338.9,2416.3 L339.7,2416.4 L340.4,2416.4 L341.2,2416.5 L342,2416.5 L342.8,2416.6 L343.5,2416.6 L344.3,2416.7 L345.1,2416.7 L345.9,2416.7 L346.6,2416.7 L347.4,2416.7 L348.2,2416.8 L349,2416.8 L349.7,2416.8 L350.5,2416.8 L351.3,2416.8 L352.1,2416.8 L352.8,2416.8 L353.6,2416.8 L354.4,2416.9 L355.1,2416.9 L355.9,2416.9 L356.7,2416.9 L357.5,2416.9 L358.2,2416.9 L359,2416.9 L359.8,2416.9 L360.6,2416.9 L360.6,2416.9 Z" fill="url(#hatch2)" opacity="0.75"/>
<polyline points="204.9,2416.8 205.7,2416.8 206.4,2416.8 207.2,2416.8 208,2416.7 208.8,2416.7 209.5,2416.7 210.3,2416.6 211.1,2416.6 211.9,2416.5 212.6,2416.4 213.4,2416.3 214.2,2416.2 215,2416.1 215.7,2415.9 216.5,2415.7 217.3,2415.5 218.1,2415.2 218.8,2414.9 219.6,2414.5 220.4,2414 221.2,2413.5 221.9,2412.9 222.7,2412.2 223.5,2411.5 224.3,2410.6 225,2409.7 225.8,2408.8 226.6,2407.7 227.4,2406.7 228.1,2405.6 228.9,2404.5 229.7,2403.4 230.5,2402.4 231.2,2401.4 232,2400.5 232.8,2399.7 233.6,2398.9 234.3,2398.3 235.1,2397.7 235.9,2397.2 236.6,2396.7 237.4,2396.3 238.2,2396 239,2395.7 239.7,2395.5 240.5,2395.3 241.3,2395.1 242.1,2395 242.8,2394.8 243.6,2394.7 244.4,2394.7 245.2,2394.6 245.9,2394.5 246.7,2394.5 247.5,2394.5 248.3,2394.4 249,2394.4 249.8,2394.4 250.6,2394.4 251.4,2394.3 252.1,2394.3 252.9,2394.3 253.7,2394.3 254.5,2394.3 255.2,2394.3 256,2394.3 256.8,2394.3 257.6,2394.3 258.3,2394.3 259.1,2394.3 259.9,2394.3 260.7,2394.3 261.4,2394.3 262.2,2394.3 263,2394.3 263.8,2394.3 264.5,2394.3 265.3,2394.3 266.1,2394.3 266.9,2394.3 267.6,2394.3 268.4,2394.3 269.2,2394.3 270,2394.3 270.7,2394.3 271.5,2394.3 272.3,2394.3 273.1,2394.3 273.8,2394.3 274.6,2394.3 275.4,2394.3 276.1,2394.3 276.9,2394.3 277.7,2394.3 278.5,2394.3 279.2,2394.3 280,2394.3 280.8,2394.3 281.6,2394.4 282.3,2394.4 283.1,2394.4 283.9,2394.4 284.7,2394.4 285.4,2394.4 286.2,2394.4 287,2394.5 287.8,2394.5 288.5,2394.5 289.3,2394.6 290.1,2394.6 290.9,2394.6 291.6,2394.7 292.4,2394.7 293.2,2394.8 294,2394.9 294.7,2394.9 295.5,2395 296.3,2395.1 297.1,2395.2 297.8,2395.3 298.6,2395.5 299.4,2395.6 300.2,2395.8 300.9,2396 301.7,2396.2 302.5,2396.4 303.3,2396.7 304,2397 304.8,2397.3 305.6,2397.6 306.4,2398 307.1,2398.4 307.9,2398.8 308.7,2399.3 309.5,2399.8 310.2,2400.4 311,2400.9 311.8,2401.5 312.6,2402.2 313.3,2402.8 314.1,2403.5 314.9,2404.2 315.6,2404.9 316.4,2405.6 317.2,2406.3 318,2407 318.7,2407.7 319.5,2408.4 320.3,2409 321.1,2409.6 321.8,2410.2 322.6,2410.8 323.4,2411.4 324.2,2411.9 324.9,2412.3 325.7,2412.8 326.5,2413.2 327.3,2413.6 328,2413.9 328.8,2414.2 329.6,2414.5 330.4,2414.7 331.1,2415 331.9,2415.2 332.7,2415.4 333.5,2415.5 334.2,2415.7 335,2415.8 335.8,2415.9 336.6,2416.1 337.3,2416.2 338.1,2416.2 338.9,2416.3 339.7,2416.4" fill="none" stroke="#222" stroke-width="0.8"/>
<polyline points="189.4,2416.9 190.2,2416.9 191,2416.9 191.7,2416.9 192.5,2416.9 193.3,2416.9 194.1,2416.9 194.8,2416.9 195.6,2416.9 196.4,2416.9 197.2,2416.8 197.9,2416.8 198.7,2416.7 199.5,2416.6 200.2,2416.5 201,2416.3 201.8,2416 202.6,2415.6 203.3,2415 204.1,2414.1 204.9,2413 205.7,2411.5 206.4,2409.5 207.2,2406.8 208,2403.5 208.8,2399.2 209.5,2393.9 210.3,2387.4 211.1,2379.7 211.9,2370.6 212.6,2360 213.4,2348 214.2,2334.7 215,2320.1 215.7,2304.5 216.5,2288.3 217.3,2271.7 218.1,2255.3 218.8,2239.5 219.6,2224.9 220.4,2212 221.2,2201.2 221.9,2193 222.7,2187.6 223.5,2185.2 224.3,2186 225,2189.8 225.8,2196.5 226.6,2205.7 227.4,2217.2 228.1,2230.3 228.9,2244.6 229.7,2259.7 230.5,2275 231.2,2290.1 232,2304.5 232.8,2318.1 233.6,2330.6 234.3,2341.9 235.1,2351.7 235.9,2360.3 236.6,2367.5 237.4,2373.5 238.2,2378.5 239,2382.4 239.7,2385.5 240.5,2387.9 241.3,2389.8 242.1,2391.1 242.8,2392.1 243.6,2392.9 244.4,2393.4 245.2,2393.7 245.9,2394 246.7,2394.1 247.5,2394.2 248.3,2394.3 249,2394.3 249.8,2394.3 250.6,2394.3 251.4,2394.3 252.1,2394.3 252.9,2394.3 253.7,2394.3 254.5,2394.3 255.2,2394.3 256,2394.3 256.8,2394.3 257.6,2394.3 258.3,2394.3 259.1,2394.3 259.9,2394.3 260.7,2394.3 261.4,2394.3 262.2,2394.3 263,2394.3 263.8,2394.3 264.5,2394.3 265.3,2394.3 266.1,2394.3 266.9,2394.3 267.6,2394.3 268.4,2394.3 269.2,2394.3 270,2394.3 270.7,2394.3 271.5,2394.3 272.3,2394.3 273.1,2394.3 273.8,2394.3 274.6,2394.3 275.4,2394.3 276.1,2394.3 276.9,2394.3 277.7,2394.3 278.5,2394.3 279.2,2394.3 280,2394.2 280.8,2394.2 281.6,2394.2 282.3,2394.2 283.1,2394.1 283.9,2394.1 284.7,2394 285.4,2394 286.2,2393.9 287,2393.8 287.8,2393.6 288.5,2393.5 289.3,2393.3 290.1,2393.1 290.9,2392.9 291.6,2392.6 292.4,2392.2 293.2,2391.9 294,2391.4 294.7,2391 295.5,2390.4 296.3,2389.8 297.1,2389.2 297.8,2388.5 298.6,2387.7 299.4,2386.8 300.2,2385.9 300.9,2385 301.7,2384 302.5,2382.9 303.3,2381.8 304,2380.7 304.8,2379.6 305.6,2378.5 306.4,2377.4 307.1,2376.4 307.9,2375.3 308.7,2374.4 309.5,2373.5 310.2,2372.8 311,2372.1 311.8,2371.6 312.6,2371.2 313.3,2371 314.1,2370.9 314.9,2371 315.6,2371.3 316.4,2371.7 317.2,2372.4 318,2373.1 318.7,2374.1 319.5,2375.2 320.3,2376.4 321.1,2377.8 321.8,2379.3 322.6,2380.9 323.4,2382.5 324.2,2384.3 324.9,2386 325.7,2387.8 326.5,2389.7 327.3,2391.5 328,2393.3 328.8,2395.1 329.6,2396.8 330.4,2398.5 331.1,2400.1 331.9,2401.7 332.7,2403.1 333.5,2404.5 334.2,2405.8 335,2407 335.8,2408.1 336.6,2409.2 337.3,2410.1 338.1,2411 338.9,2411.7 339.7,2412.4 340.4,2413 341.2,2413.6 342,2414.1 342.8,2414.5 343.5,2414.8 344.3,2415.2 345.1,2415.4 345.9,2415.7 346.6,2415.9 347.4,2416 348.2,2416.2 349,2416.3 349.7,2416.4 350.5,2416.5 351.3,2416.6 352.1,2416.6 352.8,2416.7 353.6,2416.7 354.4,2416.8 355.1,2416.8 355.9,2416.8 356.7,2416.8 357.5,2416.8 358.2,2416.8 359,2416.9 359.8,2416.9 360.6,2416.9 361.3,2416.9 362.1,2416.9 362.9,2416.9 363.7,2416.9 364.4,2416.9 365.2,2416.9 366,2416.9 366.8,2416.9 367.5,2416.9 368.3,2416.9 369.1,2416.9 369.9,2416.9 370.6,2416.9 371.4,2416.9 372.2,2416.9 373,2416.9 373.7,2416.9 374.5,2416.9 375.3,2416.9 376.1,2416.9 376.8,2416.9 377.6,2416.9 378.4,2416.9 379.2,2416.9 379.9,2416.9 380.7,2416.9 381.5,2416.9 382.3,2416.9 383,2416.9 383.8,2416.9 384.6,2416.9 385.4,2416.9 386.1,2416.9 386.9,2416.9 387.7,2416.9 388.5,2416.9 389.2,2416.9 390,2416.9 390.8,2416.9" fill="none" stroke="#3a6a6a" stroke-width="0.9"/>
<polyline points="194.1,2416.9 194.8,2416.9 195.6,2416.9 196.4,2416.9 197.2,2416.8 197.9,2416.8 198.7,2416.7 199.5,2416.6 200.2,2416.5 201,2416.3 201.8,2416 202.6,2415.6 203.3,2413.9 204.1,2413.1 204.9,2411.2 205.7,2411.3 206.4,2407.5 207.2,2405.5 208,2402.7 208.8,2398.6 209.5,2392.5 210.3,2387.6 211.1,2379.6 211.9,2367 212.6,2358.1 213.4,2346 214.2,2328 215,2317.3 215.7,2294 216.5,2276.5 217.3,2259.3 218.1,2240.2 218.8,2228.7 219.6,2216.1 220.4,2201.6 221.2,2177.1 221.9,2165.7 222.7,2165.1 223.5,2160.6 224.3,2157.6 225,2178.9 225.8,2181.5 226.6,2182.1 227.4,2210.4 228.1,2220 228.9,2234.3 229.7,2255.9 230.5,2264.6 231.2,2286 232,2296.9 232.8,2313.9 233.6,2325.9 234.3,2339.6 235.1,2351.2 235.9,2357.2 236.6,2364.9 237.4,2373.1 238.2,2377.4 239,2380.8 239.7,2384.2 240.5,2386.3 241.3,2388.8 242.1,2390 242.8,2391.7 243.6,2391 244.4,2391.7 245.2,2392.4 245.9,2393.3 246.7,2394 247.5,2392.5 248.3,2392.5 249,2392.8 249.8,2392.2 250.6,2392.7 251.4,2392.3 252.1,2392 252.9,2393.3 253.7,2393.7 254.5,2392.1 255.2,2393.5 256,2392.2 256.8,2392.8 257.6,2394 258.3,2394.4 259.1,2392.4 259.9,2394 260.7,2394 261.4,2393 262.2,2392.9 263,2393 263.8,2391.7 264.5,2392.9 265.3,2393.7 266.1,2392.6 266.9,2393 267.6,2392.6 268.4,2394.4 269.2,2391.8 270,2392.2 270.7,2393 271.5,2393.5 272.3,2392.9 273.1,2392.4 273.8,2392 274.6,2392 275.4,2393.2 276.1,2394.7 276.9,2393 277.7,2393.5 278.5,2392.5 279.2,2392.3 280,2392.6 280.8,2391.2 281.6,2392 282.3,2390.5 283.1,2393.6 283.9,2391.1 284.7,2393.6 285.4,2391.2 286.2,2392.9 287,2393.4 287.8,2392.4 288.5,2390.8 289.3,2392.3 290.1,2391 290.9,2391.8 291.6,2389.6 292.4,2389 293.2,2389.5 294,2387.6 294.7,2386.9 295.5,2389.1 296.3,2386.6 297.1,2387.7 297.8,2386.8 298.6,2382.7 299.4,2382.5 300.2,2384 300.9,2382.3 301.7,2379.9 302.5,2379.9 303.3,2379.2 304,2377.3 304.8,2375.6 305.6,2373 306.4,2373.6 307.1,2371 307.9,2372 308.7,2369.5 309.5,2368.1 310.2,2367.4 311,2365.8 311.8,2366 312.6,2364.3 313.3,2366.4 314.1,2363 314.9,2366.8 315.6,2369.2 316.4,2365.2 317.2,2365.5 318,2369.1 318.7,2368 319.5,2369.2 320.3,2372.6 321.1,2374 321.8,2375.1 322.6,2379 323.4,2379.3 324.2,2380.7 324.9,2381.1 325.7,2384.2 326.5,2385.4 327.3,2388.4 328,2390.5 328.8,2391.2 329.6,2393.3 330.4,2397.1 331.1,2397.1 331.9,2399.7 332.7,2399.8 333.5,2403.7 334.2,2402.4 335,2405.2 335.8,2405.4 336.6,2407.2 337.3,2407.1 338.1,2408.2 338.9,2409.9 339.7,2410.1 340.4,2410.2 341.2,2412.1 342,2413.4 342.8,2411.7 343.5,2414.4 344.3,2414.1 345.1,2414.1 345.9,2415.6 346.6,2415.8 347.4,2416 348.2,2416.1 349,2416.3 349.7,2416.4 350.5,2416.5 351.3,2416.5 352.1,2416.6 352.8,2416.2 353.6,2416.1 354.4,2415.7 355.1,2415.9 355.9,2415.8 356.7,2415.6 357.5,2416.8 358.2,2415.8 359,2416.7 359.8,2415.8 360.6,2415.6 361.3,2416 362.1,2416.7 362.9,2416.2 363.7,2415.6 364.4,2416 365.2,2415.6 366,2415.9 366.8,2416.3 367.5,2416.7 368.3,2416.4 369.1,2416.8 369.9,2416.4 370.6,2415.8 371.4,2415.7 372.2,2416.7 373,2416.6 373.7,2416.3 374.5,2416.6 375.3,2416.9 376.1,2416.9 376.8,2416.9 377.6,2416.9 378.4,2416.9 379.2,2416.9 379.9,2416.9 380.7,2416.9 381.5,2416.9 382.3,2416.9 383,2416.9 383.8,2416.9 384.6,2416.9 385.4,2416.9 386.1,2416.9" fill="none" stroke="#000" stroke-width="1.3"/>
<g stroke="#111" stroke-width="1.6">
<line x1="119.7" y1="2144.4" x2="119.7" y2="2416.9"/>
<line x1="107.7" y1="2416.9" x2="429.5" y2="2416.9"/>
<line x1="107.7" y1="2416.9" x2="119.7" y2="2416.9"/>
<line x1="113.7" y1="2407.8" x2="119.7" y2="2407.8"/>
<line x1="113.7" y1="2398.8" x2="119.7" y2="2398.8"/>
<line x1="113.7" y1="2389.8" x2="119.7" y2="2389.8"/>
<line x1="113.7" y1="2380.7" x2="119.7" y2="2380.7"/>
<line x1="107.7" y1="2371.7" x2="119.7" y2="2371.7"/>
<line x1="113.7" y1="2362.6" x2="119.7" y2="2362.6"/>
<line x1="113.7" y1="2353.6" x2="119.7" y2="2353.6"/>
<line x1="113.7" y1="2344.5" x2="119.7" y2="2344.5"/>
<line x1="113.7" y1="2335.5" x2="119.7" y2="2335.5"/>
<line x1="107.7" y1="2326.4" x2="119.7" y2="2326.4"/>
<line x1="113.7" y1="2317.3" x2="119.7" y2="2317.3"/>
<line x1="113.7" y1="2308.3" x2="119.7" y2="2308.3"/>
<line x1="113.7" y1="2299.2" x2="119.7" y2="2299.2"/>
<line x1="113.7" y1="2290.2" x2="119.7" y2="2290.2"/>
<line x1="107.7" y1="2281.2" x2="119.7" y2="2281.2"/>
<line x1="113.7" y1="2272.1" x2="119.7" y2="2272.1"/>
<line x1="113.7" y1="2263.1" x2="119.7" y2="2263.1"/>
<line x1="113.7" y1="2254" x2="119.7" y2="2254"/>
<line x1="113.7" y1="2245" x2="119.7" y2="2245"/>
<line x1="107.7" y1="2235.9" x2="119.7" y2="2235.9"/>
<line x1="113.7" y1="2226.8" x2="119.7" y2="2226.8"/>
<line x1="113.7" y1="2217.8" x2="119.7" y2="2217.8"/>
<line x1="113.7" y1="2208.8" x2="119.7" y2="2208.8"/>
<line x1="113.7" y1="2199.7" x2="119.7" y2="2199.7"/>
<line x1="107.7" y1="2190.7" x2="119.7" y2="2190.7"/>
<line x1="113.7" y1="2181.6" x2="119.7" y2="2181.6"/>
<line x1="113.7" y1="2172.6" x2="119.7" y2="2172.6"/>
<line x1="113.7" y1="2163.5" x2="119.7" y2="2163.5"/>
<line x1="113.7" y1="2154.5" x2="119.7" y2="2154.5"/>
<line x1="107.7" y1="2145.4" x2="119.7" y2="2145.4"/>
<line x1="119.7" y1="2416.9" x2="119.7" y2="2428.9"/>
<line x1="135.2" y1="2416.9" x2="135.2" y2="2422.9"/>
<line x1="150.7" y1="2416.9" x2="150.7" y2="2422.9"/>
<line x1="166.2" y1="2416.9" x2="166.2" y2="2422.9"/>
<line x1="181.7" y1="2416.9" x2="181.7" y2="2422.9"/>
<line x1="197.2" y1="2416.9" x2="197.2" y2="2428.9"/>
<line x1="212.6" y1="2416.9" x2="212.6" y2="2422.9"/>
<line x1="228.1" y1="2416.9" x2="228.1" y2="2422.9"/>
<line x1="243.6" y1="2416.9" x2="243.6" y2="2422.9"/>
<line x1="259.1" y1="2416.9" x2="259.1" y2="2422.9"/>
<line x1="274.6" y1="2416.9" x2="274.6" y2="2428.9"/>
<line x1="290.1" y1="2416.9" x2="290.1" y2="2422.9"/>
<line x1="305.6" y1="2416.9" x2="305.6" y2="2422.9"/>
<line x1="321.1" y1="2416.9" x2="321.1" y2="2422.9"/>
<line x1="336.6" y1="2416.9" x2="336.6" y2="2422.9"/>
<line x1="352.1" y1="2416.9" x2="352.1" y2="2428.9"/>
<line x1="367.5" y1="2416.9" x2="367.5" y2="2422.9"/>
<line x1="383" y1="2416.9" x2="383" y2="2422.9"/>
<line x1="398.5" y1="2416.9" x2="398.5" y2="2422.9"/>
<line x1="414" y1="2416.9" x2="414" y2="2422.9"/>
<line x1="429.5" y1="2416.9" x2="429.5" y2="2428.9"/>
</g>
<text x="97.7" y="2416.9" font-family="'Liberation Sans', Arial, sans-serif" font-size="10.5" fill="#1a1a1a" text-anchor="middle" transform="rotate(-90 97.7 2416.9)">0</text>
<text x="97.7" y="2371.7" font-family="'Liberation Sans', Arial, sans-serif" font-size="10.5" fill="#1a1a1a" text-anchor="middle" transform="rotate(-90 97.7 2371.7)">100</text>
<text x="97.7" y="2326.4" font-family="'Liberation Sans', Arial, sans-serif" font-size="10.5" fill="#1a1a1a" text-anchor="middle" transform="rotate(-90 97.7 2326.4)">200</text>
<text x="97.7" y="2281.2" font-family="'Liberation Sans', Arial, sans-serif" font-size="10.5" fill="#1a1a1a" text-anchor="middle" transform="rotate(-90 97.7 2281.2)">300</text>
<text x="97.7" y="2235.9" font-family="'Liberation Sans', Arial, sans-serif" font-size="10.5" fill="#1a1a1a" text-anchor="middle" transform="rotate(-90 97.7 2235.9)">400</text>
<text x="97.7" y="2190.7" font-family="'Liberation Sans', Arial, sans-serif" font-size="10.5" fill="#1a1a1a" text-anchor="middle" transform="rotate(-90 97.7 2190.7)">500</text>
<text x="97.7" y="2145.4" font-family="'Liberation Sans', Arial, sans-serif" font-size="10.5" fill="#1a1a1a" text-anchor="middle" transform="rotate(-90 97.7 2145.4)">600</text>
<text x="119.7" y="2443.9" font-family="'Liberation Sans', Arial, sans-serif" font-size="11" font-weight="normal" text-anchor="middle" fill="#1a1a1a" >0</text>
<text x="197.2" y="2443.9" font-family="'Liberation Sans', Arial, sans-serif" font-size="11" font-weight="normal" text-anchor="middle" fill="#1a1a1a" >50</text>
<text x="274.6" y="2443.9" font-family="'Liberation Sans', Arial, sans-serif" font-size="11" font-weight="normal" text-anchor="middle" fill="#1a1a1a" >100</text>
<text x="352.1" y="2443.9" font-family="'Liberation Sans', Arial, sans-serif" font-size="11" font-weight="normal" text-anchor="middle" fill="#1a1a1a" >150</text>
<text x="429.5" y="2443.9" font-family="'Liberation Sans', Arial, sans-serif" font-size="11" font-weight="normal" text-anchor="middle" fill="#1a1a1a" >200</text>
<text x="274.6" y="2459.9" font-family="'Liberation Sans', Arial, sans-serif" font-size="10.5" font-weight="normal" text-anchor="middle" fill="#1a1a1a" >FL2-A PI-A</text>
<text x="84.7" y="2281.2" font-family="'Liberation Sans', Arial, sans-serif" font-size="9.5" fill="#333" text-anchor="middle" transform="rotate(-90 84.7 2281.2)">Number</text>
<text x="218.7" y="2106" font-family="'Liberation Sans', Arial, sans-serif" font-size="43" font-weight="bold" textLength="106.6" lengthAdjust="spacingAndGlyphs">Sh NC</text>
<path d="M599.1,2417.2 L599.1,2417.2 L599.9,2417.2 L600.6,2417.2 L601.4,2417.1 L602.2,2417.1 L603,2417.1 L603.8,2417.1 L604.5,2417.1 L605.3,2417.1 L606.1,2417 L606.9,2417 L607.6,2417 L608.4,2416.9 L609.2,2416.8 L610,2416.8 L610.7,2416.7 L611.5,2416.6 L612.3,2416.5 L613.1,2416.3 L613.8,2416.2 L614.6,2416 L615.4,2415.7 L616.2,2415.5 L617,2415.2 L617.7,2414.9 L618.5,2414.5 L619.3,2414.1 L620.1,2413.7 L620.8,2413.3 L621.6,2412.8 L622.4,2412.3 L623.2,2411.9 L623.9,2411.4 L624.7,2411 L625.5,2410.6 L626.3,2410.2 L627,2409.8 L627.8,2409.5 L628.6,2409.2 L629.4,2409 L630.2,2408.7 L630.9,2408.5 L631.7,2408.4 L632.5,2408.2 L633.3,2408.1 L634,2408 L634.8,2407.9 L635.6,2407.8 L636.4,2407.8 L637.1,2407.7 L637.9,2407.7 L638.7,2407.7 L639.5,2407.6 L640.2,2407.6 L641,2407.6 L641.8,2407.6 L642.6,2407.6 L643.4,2407.5 L644.1,2407.5 L644.9,2407.5 L645.7,2407.5 L646.5,2407.5 L647.2,2407.5 L648,2407.5 L648.8,2407.5 L649.6,2407.5 L650.3,2407.5 L651.1,2407.5 L651.9,2407.5 L652.7,2407.5 L653.4,2407.5 L654.2,2407.5 L655,2407.5 L655.8,2407.5 L656.6,2407.5 L657.3,2407.5 L658.1,2407.5 L658.9,2407.5 L659.7,2407.5 L660.4,2407.5 L661.2,2407.5 L662,2407.5 L662.8,2407.5 L663.5,2407.5 L664.3,2407.5 L665.1,2407.5 L665.9,2407.5 L666.6,2407.5 L667.4,2407.5 L668.2,2407.5 L669,2407.5 L669.8,2407.5 L670.5,2407.5 L671.3,2407.5 L672.1,2407.5 L672.9,2407.5 L673.6,2407.6 L674.4,2407.6 L675.2,2407.6 L676,2407.6 L676.7,2407.6 L677.5,2407.6 L678.3,2407.6 L679.1,2407.6 L679.8,2407.7 L680.6,2407.7 L681.4,2407.7 L682.2,2407.7 L683,2407.8 L683.7,2407.8 L684.5,2407.9 L685.3,2407.9 L686.1,2407.9 L686.8,2408 L687.6,2408.1 L688.4,2408.1 L689.2,2408.2 L689.9,2408.3 L690.7,2408.4 L691.5,2408.5 L692.3,2408.6 L693,2408.8 L693.8,2408.9 L694.6,2409.1 L695.4,2409.3 L696.2,2409.4 L696.9,2409.7 L697.7,2409.9 L698.5,2410.1 L699.3,2410.3 L700,2410.6 L700.8,2410.9 L701.6,2411.2 L702.4,2411.4 L703.1,2411.7 L703.9,2412 L704.7,2412.3 L705.5,2412.6 L706.2,2412.9 L707,2413.2 L707.8,2413.5 L708.6,2413.8 L709.4,2414.1 L710.1,2414.3 L710.9,2414.6 L711.7,2414.8 L712.5,2415 L713.2,2415.2 L714,2415.4 L714.8,2415.6 L715.6,2415.8 L716.3,2415.9 L717.1,2416 L717.9,2416.2 L718.7,2416.3 L719.4,2416.4 L720.2,2416.5 L721,2416.5 L721.8,2416.6 L722.6,2416.7 L723.3,2416.7 L724.1,2416.8 L724.9,2416.8 L725.7,2416.9 L726.4,2416.9 L727.2,2416.9 L728,2417 L728,2417.2 Z" fill="url(#hatch)"/>
<path d="M575,2417.2 L575,2417.1 L575.8,2417.1 L576.6,2417.1 L577.4,2417 L578.1,2416.9 L578.9,2416.8 L579.7,2416.7 L580.5,2416.5 L581.2,2416.3 L582,2416 L582.8,2415.6 L583.6,2415.2 L584.3,2414.6 L585.1,2413.8 L585.9,2412.9 L586.7,2411.8 L587.4,2410.4 L588.2,2408.8 L589,2406.8 L589.8,2404.4 L590.6,2401.6 L591.3,2398.3 L592.1,2394.6 L592.9,2390.2 L593.7,2385.2 L594.4,2379.6 L595.2,2373.4 L596,2366.4 L596.8,2358.8 L597.5,2350.5 L598.3,2341.5 L599.1,2332 L599.9,2322 L600.6,2311.5 L601.4,2300.8 L602.2,2289.8 L603,2278.9 L603.8,2268 L604.5,2257.5 L605.3,2247.4 L606.1,2238 L606.9,2229.5 L607.6,2221.9 L608.4,2215.5 L609.2,2210.4 L610,2206.6 L610.7,2204.3 L611.5,2203.6 L612.3,2204.3 L613.1,2206.6 L613.8,2210.4 L614.6,2215.5 L615.4,2221.9 L616.2,2229.5 L617,2238 L617.7,2247.4 L618.5,2257.5 L619.3,2268 L620.1,2278.9 L620.8,2289.8 L621.6,2300.8 L622.4,2311.5 L623.2,2322 L623.9,2332 L624.7,2341.5 L625.5,2350.5 L626.3,2358.8 L627,2366.4 L627.8,2373.4 L628.6,2379.6 L629.4,2385.2 L630.2,2390.2 L630.9,2394.6 L631.7,2398.3 L632.5,2401.6 L633.3,2404.4 L634,2406.8 L634.8,2408.8 L635.6,2410.4 L636.4,2411.8 L637.1,2412.9 L637.9,2413.8 L638.7,2414.6 L639.5,2415.2 L640.2,2415.6 L641,2416 L641.8,2416.3 L642.6,2416.5 L643.4,2416.7 L644.1,2416.8 L644.9,2416.9 L645.7,2417 L646.5,2417.1 L647.2,2417.1 L648,2417.1 L648,2417.2 Z" fill="#f40000" stroke="#000" stroke-width="0.8"/>
<path d="M575,2417.2 L575,2417.2 L575.8,2417.2 L576.6,2417.2 L577.4,2417.2 L578.1,2417.2 L578.9,2417.2 L579.7,2417.2 L580.5,2417.2 L581.2,2417.2 L582,2417.2 L582.8,2417.2 L583.6,2417.2 L584.3,2417.2 L585.1,2417.2 L585.9,2417.2 L586.7,2417.2 L587.4,2417.2 L588.2,2417.2 L589,2417.2 L589.8,2417.2 L590.6,2417.2 L591.3,2417.2 L592.1,2417.2 L592.9,2417.2 L593.7,2417.2 L594.4,2417.2 L595.2,2417.2 L596,2417.2 L596.8,2417.2 L597.5,2417.2 L598.3,2417.2 L599.1,2417.2 L599.9,2417.2 L600.6,2417.2 L601.4,2417.1 L602.2,2417.1 L603,2417.1 L603.8,2417.1 L604.5,2417.1 L605.3,2417.1 L606.1,2417 L606.9,2417 L607.6,2417 L608.4,2416.9 L609.2,2416.8 L610,2416.8 L610.7,2416.7 L611.5,2416.6 L612.3,2416.5 L613.1,2416.3 L613.8,2416.2 L614.6,2416 L615.4,2415.7 L616.2,2415.5 L617,2415.2 L617.7,2414.9 L618.5,2414.5 L619.3,2414.1 L620.1,2413.7 L620.8,2413.3 L621.6,2412.8 L622.4,2412.3 L623.2,2411.9 L623.9,2411.4 L624.7,2411 L625.5,2410.6 L626.3,2410.2 L627,2409.8 L627.8,2409.5 L628.6,2409.2 L629.4,2409 L630.2,2408.7 L630.9,2408.5 L631.7,2408.4 L632.5,2408.2 L633.3,2408.1 L634,2408 L634.8,2408.8 L635.6,2410.4 L636.4,2411.8 L637.1,2412.9 L637.9,2413.8 L638.7,2414.6 L639.5,2415.2 L640.2,2415.6 L641,2416 L641.8,2416.3 L642.6,2416.5 L643.4,2416.7 L644.1,2416.8 L644.9,2416.9 L645.7,2417 L646.5,2417.1 L647.2,2417.1 L648,2417.1 L648,2417.2 Z" fill="url(#hatch2)" opacity="0.75"/>
<path d="M655,2417.2 L655,2417.2 L655.8,2417.2 L656.6,2417.2 L657.3,2417.2 L658.1,2417.2 L658.9,2417.2 L659.7,2417.2 L660.4,2417.2 L661.2,2417.2 L662,2417.2 L662.8,2417.2 L663.5,2417.2 L664.3,2417.1 L665.1,2417.1 L665.9,2417.1 L666.6,2417.1 L667.4,2417.1 L668.2,2417 L669,2417 L669.8,2417 L670.5,2416.9 L671.3,2416.9 L672.1,2416.9 L672.9,2416.8 L673.6,2416.7 L674.4,2416.6 L675.2,2416.6 L676,2416.5 L676.7,2416.3 L677.5,2416.2 L678.3,2416.1 L679.1,2415.9 L679.8,2415.8 L680.6,2415.6 L681.4,2415.4 L682.2,2415.1 L683,2414.9 L683.7,2414.6 L684.5,2414.3 L685.3,2414 L686.1,2413.7 L686.8,2413.3 L687.6,2413 L688.4,2412.6 L689.2,2412.2 L689.9,2411.8 L690.7,2411.3 L691.5,2410.9 L692.3,2410.4 L693,2409.9 L693.8,2409.4 L694.6,2409 L695.4,2408.5 L696.2,2408 L696.9,2407.5 L697.7,2407.1 L698.5,2406.6 L699.3,2406.2 L700,2405.8 L700.8,2405.4 L701.6,2405 L702.4,2404.7 L703.1,2404.4 L703.9,2404.2 L704.7,2404 L705.5,2403.8 L706.2,2403.7 L707,2403.6 L707.8,2403.6 L708.6,2403.6 L709.4,2403.7 L710.1,2403.8 L710.9,2404 L711.7,2404.2 L712.5,2404.4 L713.2,2404.7 L714,2405 L714.8,2405.4 L715.6,2405.8 L716.3,2406.2 L717.1,2406.6 L717.9,2407.1 L718.7,2407.5 L719.4,2408 L720.2,2408.5 L721,2409 L721.8,2409.4 L722.6,2409.9 L723.3,2410.4 L724.1,2410.9 L724.9,2411.3 L725.7,2411.8 L726.4,2412.2 L727.2,2412.6 L728,2413 L728.8,2413.3 L729.5,2413.7 L730.3,2414 L731.1,2414.3 L731.9,2414.6 L732.6,2414.9 L733.4,2415.1 L734.2,2415.4 L735,2415.6 L735.8,2415.8 L736.5,2415.9 L737.3,2416.1 L738.1,2416.2 L738.9,2416.3 L739.6,2416.5 L740.4,2416.6 L741.2,2416.6 L742,2416.7 L742.7,2416.8 L743.5,2416.9 L744.3,2416.9 L745.1,2416.9 L745.9,2417 L746.6,2417 L747.4,2417 L748.2,2417.1 L749,2417.1 L749.7,2417.1 L750.5,2417.1 L751.3,2417.1 L752.1,2417.2 L752.8,2417.2 L753.6,2417.2 L754.4,2417.2 L755.2,2417.2 L755.9,2417.2 L756.7,2417.2 L757.5,2417.2 L758.3,2417.2 L759.1,2417.2 L759.8,2417.2 L760.6,2417.2 L760.6,2417.2 Z" fill="#f40000" stroke="#000" stroke-width="0.8"/>
<path d="M655,2417.2 L655,2417.2 L655.8,2417.2 L656.6,2417.2 L657.3,2417.2 L658.1,2417.2 L658.9,2417.2 L659.7,2417.2 L660.4,2417.2 L661.2,2417.2 L662,2417.2 L662.8,2417.2 L663.5,2417.2 L664.3,2417.1 L665.1,2417.1 L665.9,2417.1 L666.6,2417.1 L667.4,2417.1 L668.2,2417 L669,2417 L669.8,2417 L670.5,2416.9 L671.3,2416.9 L672.1,2416.9 L672.9,2416.8 L673.6,2416.7 L674.4,2416.6 L675.2,2416.6 L676,2416.5 L676.7,2416.3 L677.5,2416.2 L678.3,2416.1 L679.1,2415.9 L679.8,2415.8 L680.6,2415.6 L681.4,2415.4 L682.2,2415.1 L683,2414.9 L683.7,2414.6 L684.5,2414.3 L685.3,2414 L686.1,2413.7 L686.8,2413.3 L687.6,2413 L688.4,2412.6 L689.2,2412.2 L689.9,2411.8 L690.7,2411.3 L691.5,2410.9 L692.3,2410.4 L693,2409.9 L693.8,2409.4 L694.6,2409.1 L695.4,2409.3 L696.2,2409.4 L696.9,2409.7 L697.7,2409.9 L698.5,2410.1 L699.3,2410.3 L700,2410.6 L700.8,2410.9 L701.6,2411.2 L702.4,2411.4 L703.1,2411.7 L703.9,2412 L704.7,2412.3 L705.5,2412.6 L706.2,2412.9 L707,2413.2 L707.8,2413.5 L708.6,2413.8 L709.4,2414.1 L710.1,2414.3 L710.9,2414.6 L711.7,2414.8 L712.5,2415 L713.2,2415.2 L714,2415.4 L714.8,2415.6 L715.6,2415.8 L716.3,2415.9 L717.1,2416 L717.9,2416.2 L718.7,2416.3 L719.4,2416.4 L720.2,2416.5 L721,2416.5 L721.8,2416.6 L722.6,2416.7 L723.3,2416.7 L724.1,2416.8 L724.9,2416.8 L725.7,2416.9 L726.4,2416.9 L727.2,2416.9 L728,2417 L728.8,2417 L729.5,2417 L730.3,2417 L731.1,2417.1 L731.9,2417.1 L732.6,2417.1 L733.4,2417.1 L734.2,2417.1 L735,2417.1 L735.8,2417.1 L736.5,2417.1 L737.3,2417.1 L738.1,2417.2 L738.9,2417.2 L739.6,2417.2 L740.4,2417.2 L741.2,2417.2 L742,2417.2 L742.7,2417.2 L743.5,2417.2 L744.3,2417.2 L745.1,2417.2 L745.9,2417.2 L746.6,2417.2 L747.4,2417.2 L748.2,2417.2 L749,2417.2 L749.7,2417.2 L750.5,2417.2 L751.3,2417.2 L752.1,2417.2 L752.8,2417.2 L753.6,2417.2 L754.4,2417.2 L755.2,2417.2 L755.9,2417.2 L756.7,2417.2 L757.5,2417.2 L758.3,2417.2 L759.1,2417.2 L759.8,2417.2 L760.6,2417.2 L760.6,2417.2 Z" fill="url(#hatch2)" opacity="0.75"/>
<polyline points="599.1,2417.2 599.9,2417.2 600.6,2417.2 601.4,2417.1 602.2,2417.1 603,2417.1 603.8,2417.1 604.5,2417.1 605.3,2417.1 606.1,2417 606.9,2417 607.6,2417 608.4,2416.9 609.2,2416.8 610,2416.8 610.7,2416.7 611.5,2416.6 612.3,2416.5 613.1,2416.3 613.8,2416.2 614.6,2416 615.4,2415.7 616.2,2415.5 617,2415.2 617.7,2414.9 618.5,2414.5 619.3,2414.1 620.1,2413.7 620.8,2413.3 621.6,2412.8 622.4,2412.3 623.2,2411.9 623.9,2411.4 624.7,2411 625.5,2410.6 626.3,2410.2 627,2409.8 627.8,2409.5 628.6,2409.2 629.4,2409 630.2,2408.7 630.9,2408.5 631.7,2408.4 632.5,2408.2 633.3,2408.1 634,2408 634.8,2407.9 635.6,2407.8 636.4,2407.8 637.1,2407.7 637.9,2407.7 638.7,2407.7 639.5,2407.6 640.2,2407.6 641,2407.6 641.8,2407.6 642.6,2407.6 643.4,2407.5 644.1,2407.5 644.9,2407.5 645.7,2407.5 646.5,2407.5 647.2,2407.5 648,2407.5 648.8,2407.5 649.6,2407.5 650.3,2407.5 651.1,2407.5 651.9,2407.5 652.7,2407.5 653.4,2407.5 654.2,2407.5 655,2407.5 655.8,2407.5 656.6,2407.5 657.3,2407.5 658.1,2407.5 658.9,2407.5 659.7,2407.5 660.4,2407.5 661.2,2407.5 662,2407.5 662.8,2407.5 663.5,2407.5 664.3,2407.5 665.1,2407.5 665.9,2407.5 666.6,2407.5 667.4,2407.5 668.2,2407.5 669,2407.5 669.8,2407.5 670.5,2407.5 671.3,2407.5 672.1,2407.5 672.9,2407.5 673.6,2407.6 674.4,2407.6 675.2,2407.6 676,2407.6 676.7,2407.6 677.5,2407.6 678.3,2407.6 679.1,2407.6 679.8,2407.7 680.6,2407.7 681.4,2407.7 682.2,2407.7 683,2407.8 683.7,2407.8 684.5,2407.9 685.3,2407.9 686.1,2407.9 686.8,2408 687.6,2408.1 688.4,2408.1 689.2,2408.2 689.9,2408.3 690.7,2408.4 691.5,2408.5 692.3,2408.6 693,2408.8 693.8,2408.9 694.6,2409.1 695.4,2409.3 696.2,2409.4 696.9,2409.7 697.7,2409.9 698.5,2410.1 699.3,2410.3 700,2410.6 700.8,2410.9 701.6,2411.2 702.4,2411.4 703.1,2411.7 703.9,2412 704.7,2412.3 705.5,2412.6 706.2,2412.9 707,2413.2 707.8,2413.5 708.6,2413.8 709.4,2414.1 710.1,2414.3 710.9,2414.6 711.7,2414.8 712.5,2415 713.2,2415.2 714,2415.4 714.8,2415.6 715.6,2415.8 716.3,2415.9 717.1,2416 717.9,2416.2 718.7,2416.3 719.4,2416.4 720.2,2416.5 721,2416.5 721.8,2416.6 722.6,2416.7 723.3,2416.7 724.1,2416.8 724.9,2416.8 725.7,2416.9 726.4,2416.9 727.2,2416.9 728,2417" fill="none" stroke="#222" stroke-width="0.8"/>
<polyline points="569.6,2417.2 570.4,2417.2 571.1,2417.2 571.9,2417.2 572.7,2417.2 573.5,2417.2 574.2,2417.1 575,2417.1 575.8,2417.1 576.6,2417.1 577.4,2417 578.1,2416.9 578.9,2416.8 579.7,2416.7 580.5,2416.5 581.2,2416.3 582,2416 582.8,2415.6 583.6,2415.2 584.3,2414.6 585.1,2413.8 585.9,2412.9 586.7,2411.8 587.4,2410.4 588.2,2408.8 589,2406.8 589.8,2404.4 590.6,2401.6 591.3,2398.3 592.1,2394.5 592.9,2390.2 593.7,2385.2 594.4,2379.6 595.2,2373.3 596,2366.4 596.8,2358.7 597.5,2350.4 598.3,2341.5 599.1,2332 599.9,2321.9 600.6,2311.5 601.4,2300.7 602.2,2289.8 603,2278.8 603.8,2267.9 604.5,2257.4 605.3,2247.3 606.1,2237.9 606.9,2229.3 607.6,2221.7 608.4,2215.2 609.2,2210 610,2206.2 610.7,2203.8 611.5,2202.9 612.3,2203.6 613.1,2205.7 613.8,2209.3 614.6,2214.3 615.4,2220.4 616.2,2227.8 617,2236 617.7,2245.1 618.5,2254.8 619.3,2264.9 620.1,2275.4 620.8,2285.9 621.6,2296.4 622.4,2306.7 623.2,2316.6 623.9,2326.2 624.7,2335.3 625.5,2343.8 626.3,2351.7 627,2359 627.8,2365.6 628.6,2371.6 629.4,2377 630.2,2381.7 630.9,2385.9 631.7,2389.5 632.5,2392.6 633.3,2395.3 634,2397.6 634.8,2399.5 635.6,2401.1 636.4,2402.4 637.1,2403.5 637.9,2404.3 638.7,2405 639.5,2405.6 640.2,2406 641,2406.4 641.8,2406.7 642.6,2406.9 643.4,2407 644.1,2407.2 644.9,2407.2 645.7,2407.3 646.5,2407.4 647.2,2407.4 648,2407.4 648.8,2407.4 649.6,2407.5 650.3,2407.5 651.1,2407.5 651.9,2407.5 652.7,2407.5 653.4,2407.5 654.2,2407.5 655,2407.5 655.8,2407.5 656.6,2407.5 657.3,2407.5 658.1,2407.5 658.9,2407.5 659.7,2407.5 660.4,2407.5 661.2,2407.5 662,2407.5 662.8,2407.5 663.5,2407.5 664.3,2407.4 665.1,2407.4 665.9,2407.4 666.6,2407.4 667.4,2407.4 668.2,2407.4 669,2407.3 669.8,2407.3 670.5,2407.3 671.3,2407.2 672.1,2407.2 672.9,2407.1 673.6,2407.1 674.4,2407 675.2,2406.9 676,2406.8 676.7,2406.7 677.5,2406.6 678.3,2406.5 679.1,2406.4 679.8,2406.2 680.6,2406.1 681.4,2405.9 682.2,2405.7 683,2405.5 683.7,2405.2 684.5,2405 685.3,2404.7 686.1,2404.4 686.8,2404.2 687.6,2403.9 688.4,2403.5 689.2,2403.2 689.9,2402.9 690.7,2402.5 691.5,2402.2 692.3,2401.8 693,2401.5 693.8,2401.2 694.6,2400.8 695.4,2400.5 696.2,2400.2 696.9,2400 697.7,2399.7 698.5,2399.5 699.3,2399.3 700,2399.2 700.8,2399.1 701.6,2399 702.4,2399 703.1,2399 703.9,2399 704.7,2399.1 705.5,2399.3 706.2,2399.4 707,2399.7 707.8,2399.9 708.6,2400.2 709.4,2400.6 710.1,2401 710.9,2401.4 711.7,2401.8 712.5,2402.3 713.2,2402.8 714,2403.3 714.8,2403.8 715.6,2404.3 716.3,2404.9 717.1,2405.4 717.9,2406 718.7,2406.6 719.4,2407.2 720.2,2407.7 721,2408.3 721.8,2408.9 722.6,2409.4 723.3,2409.9 724.1,2410.5 724.9,2411 725.7,2411.4 726.4,2411.9 727.2,2412.3 728,2412.8 728.8,2413.2 729.5,2413.5 730.3,2413.9 731.1,2414.2 731.9,2414.5 732.6,2414.8 733.4,2415 734.2,2415.3 735,2415.5 735.8,2415.7 736.5,2415.9 737.3,2416 738.1,2416.2 738.9,2416.3 739.6,2416.4 740.4,2416.5 741.2,2416.6 742,2416.7 742.7,2416.8 743.5,2416.8 744.3,2416.9 745.1,2416.9 745.9,2417 746.6,2417 747.4,2417 748.2,2417.1 749,2417.1 749.7,2417.1 750.5,2417.1 751.3,2417.1 752.1,2417.1 752.8,2417.2 753.6,2417.2 754.4,2417.2 755.2,2417.2 755.9,2417.2 756.7,2417.2 757.5,2417.2 758.3,2417.2 759.1,2417.2 759.8,2417.2 760.6,2417.2 761.4,2417.2 762.2,2417.2 762.9,2417.2 763.7,2417.2 764.5,2417.2 765.3,2417.2 766,2417.2 766.8,2417.2 767.6,2417.2 768.4,2417.2 769.1,2417.2 769.9,2417.2 770.7,2417.2 771.5,2417.2" fill="none" stroke="#3a6a6a" stroke-width="0.9"/>
<polyline points="574.2,2417.1 575,2417.1 575.8,2417.1 576.6,2417.1 577.4,2417 578.1,2416.9 578.9,2416.8 579.7,2416.7 580.5,2416.5 581.2,2416.3 582,2413.8 582.8,2413.9 583.6,2414.7 584.3,2413.9 585.1,2413 585.9,2410.6 586.7,2409.8 587.4,2410.4 588.2,2406.7 589,2404.1 589.8,2403.3 590.6,2399 591.3,2397.6 592.1,2394.5 592.9,2388.2 593.7,2383 594.4,2376.4 595.2,2369.9 596,2364.4 596.8,2356.3 597.5,2346 598.3,2335.2 599.1,2325.9 599.9,2318.2 600.6,2303.3 601.4,2288.6 602.2,2281.7 603,2267.8 603.8,2254.4 604.5,2247.4 605.3,2226.5 606.1,2218.6 606.9,2211.1 607.6,2205.7 608.4,2197 609.2,2178.8 610,2181.1 610.7,2184.5 611.5,2176 612.3,2177.1 613.1,2188.1 613.8,2183.8 614.6,2190.6 615.4,2210.3 616.2,2217.3 617,2215.3 617.7,2226.3 618.5,2244.3 619.3,2259.6 620.1,2270.7 620.8,2277.1 621.6,2293.4 622.4,2299.4 623.2,2315.5 623.9,2323.3 624.7,2330 625.5,2340.4 626.3,2348.7 627,2356.5 627.8,2361 628.6,2369.1 629.4,2377.3 630.2,2380.3 630.9,2384.2 631.7,2388.6 632.5,2392.3 633.3,2393.4 634,2396.3 634.8,2399.6 635.6,2399.1 636.4,2401.2 637.1,2401.9 637.9,2403.8 638.7,2405.1 639.5,2403.6 640.2,2405.7 641,2405 641.8,2405.9 642.6,2406.5 643.4,2405.4 644.1,2406.2 644.9,2405.8 645.7,2406.1 646.5,2405.7 647.2,2405.9 648,2407.4 648.8,2405.3 649.6,2406.5 650.3,2406.9 651.1,2406.6 651.9,2405.1 652.7,2405.8 653.4,2405.9 654.2,2407.1 655,2405.7 655.8,2407.4 656.6,2405.8 657.3,2406 658.1,2405.7 658.9,2406.5 659.7,2405.4 660.4,2405.7 661.2,2406.3 662,2406.9 662.8,2407.4 663.5,2406.2 664.3,2405.8 665.1,2405.3 665.9,2406.2 666.6,2406.1 667.4,2406 668.2,2406 669,2404.6 669.8,2406.9 670.5,2404.8 671.3,2406 672.1,2406.8 672.9,2405.9 673.6,2404.9 674.4,2405.7 675.2,2404.9 676,2405.9 676.7,2404.6 677.5,2404.6 678.3,2404.1 679.1,2403.2 679.8,2402.8 680.6,2404.4 681.4,2402.7 682.2,2402.6 683,2404 683.7,2402.5 684.5,2401.4 685.3,2401 686.1,2400.1 686.8,2401.3 687.6,2400 688.4,2400.1 689.2,2399 689.9,2398.8 690.7,2398.5 691.5,2398.2 692.3,2398.1 693,2397.1 693.8,2397.2 694.6,2397.6 695.4,2397.4 696.2,2394.4 696.9,2395.6 697.7,2396.2 698.5,2392.9 699.3,2392.8 700,2394 700.8,2395.8 701.6,2392.7 702.4,2393.3 703.1,2393 703.9,2393.8 704.7,2394.1 705.5,2395.3 706.2,2395.6 707,2393.2 707.8,2395.3 708.6,2395.9 709.4,2394.3 710.1,2394.6 710.9,2397.7 711.7,2397.3 712.5,2396.8 713.2,2398.1 714,2398.8 714.8,2400.6 715.6,2399.9 716.3,2400.6 717.1,2401.9 717.9,2401.6 718.7,2402.9 719.4,2402.6 720.2,2403.3 721,2404.4 721.8,2406.1 722.6,2407.8 723.3,2405.9 724.1,2407 724.9,2408.8 725.7,2408.5 726.4,2409.5 727.2,2409.9 728,2410.3 728.8,2412 729.5,2410.9 730.3,2412.5 731.1,2412 731.9,2412.5 732.6,2413.3 733.4,2413.5 734.2,2413.2 735,2413.1 735.8,2414.4 736.5,2414.1 737.3,2415.5 738.1,2415 738.9,2415.8 739.6,2415.8 740.4,2416.1 741.2,2416.4 742,2416.1 742.7,2415.9 743.5,2415.7 744.3,2416.2 745.1,2416.5 745.9,2416.5 746.6,2416.5 747.4,2416.3 748.2,2416 749,2416.9 749.7,2416.7 750.5,2417 751.3,2416.1 752.1,2416.3 752.8,2416 753.6,2416.4 754.4,2416.7 755.2,2417.1 755.9,2417.2 756.7,2417.2 757.5,2417.2 758.3,2417.2 759.1,2417.2 759.8,2417.2 760.6,2417.2 761.4,2417.2 762.2,2417.2 762.9,2417.2 763.7,2417.2 764.5,2417.2 765.3,2417.2 766,2417.2 766.8,2417.2" fill="none" stroke="#000" stroke-width="1.3"/>
<g stroke="#111" stroke-width="1.6">
<line x1="499.7" y1="2144.3" x2="499.7" y2="2417.2"/>
<line x1="487.7" y1="2417.2" x2="810.3" y2="2417.2"/>
<line x1="487.7" y1="2417.2" x2="499.7" y2="2417.2"/>
<line x1="493.7" y1="2409.4" x2="499.7" y2="2409.4"/>
<line x1="493.7" y1="2401.7" x2="499.7" y2="2401.7"/>
<line x1="493.7" y1="2393.9" x2="499.7" y2="2393.9"/>
<line x1="493.7" y1="2386.1" x2="499.7" y2="2386.1"/>
<line x1="487.7" y1="2378.4" x2="499.7" y2="2378.4"/>
<line x1="493.7" y1="2370.6" x2="499.7" y2="2370.6"/>
<line x1="493.7" y1="2362.8" x2="499.7" y2="2362.8"/>
<line x1="493.7" y1="2355.1" x2="499.7" y2="2355.1"/>
<line x1="493.7" y1="2347.3" x2="499.7" y2="2347.3"/>
<line x1="487.7" y1="2339.5" x2="499.7" y2="2339.5"/>
<line x1="493.7" y1="2331.7" x2="499.7" y2="2331.7"/>
<line x1="493.7" y1="2324" x2="499.7" y2="2324"/>
<line x1="493.7" y1="2316.2" x2="499.7" y2="2316.2"/>
<line x1="493.7" y1="2308.4" x2="499.7" y2="2308.4"/>
<line x1="487.7" y1="2300.7" x2="499.7" y2="2300.7"/>
<line x1="493.7" y1="2292.9" x2="499.7" y2="2292.9"/>
<line x1="493.7" y1="2285.1" x2="499.7" y2="2285.1"/>
<line x1="493.7" y1="2277.4" x2="499.7" y2="2277.4"/>
<line x1="493.7" y1="2269.6" x2="499.7" y2="2269.6"/>
<line x1="487.7" y1="2261.8" x2="499.7" y2="2261.8"/>
<line x1="493.7" y1="2254.1" x2="499.7" y2="2254.1"/>
<line x1="493.7" y1="2246.3" x2="499.7" y2="2246.3"/>
<line x1="493.7" y1="2238.5" x2="499.7" y2="2238.5"/>
<line x1="493.7" y1="2230.8" x2="499.7" y2="2230.8"/>
<line x1="487.7" y1="2223" x2="499.7" y2="2223"/>
<line x1="493.7" y1="2215.2" x2="499.7" y2="2215.2"/>
<line x1="493.7" y1="2207.4" x2="499.7" y2="2207.4"/>
<line x1="493.7" y1="2199.7" x2="499.7" y2="2199.7"/>
<line x1="493.7" y1="2191.9" x2="499.7" y2="2191.9"/>
<line x1="487.7" y1="2184.1" x2="499.7" y2="2184.1"/>
<line x1="493.7" y1="2176.4" x2="499.7" y2="2176.4"/>
<line x1="493.7" y1="2168.6" x2="499.7" y2="2168.6"/>
<line x1="493.7" y1="2160.8" x2="499.7" y2="2160.8"/>
<line x1="493.7" y1="2153.1" x2="499.7" y2="2153.1"/>
<line x1="487.7" y1="2145.3" x2="499.7" y2="2145.3"/>
<line x1="499.7" y1="2417.2" x2="499.7" y2="2429.2"/>
<line x1="515.2" y1="2417.2" x2="515.2" y2="2423.2"/>
<line x1="530.8" y1="2417.2" x2="530.8" y2="2423.2"/>
<line x1="546.3" y1="2417.2" x2="546.3" y2="2423.2"/>
<line x1="561.8" y1="2417.2" x2="561.8" y2="2423.2"/>
<line x1="577.4" y1="2417.2" x2="577.4" y2="2429.2"/>
<line x1="592.9" y1="2417.2" x2="592.9" y2="2423.2"/>
<line x1="608.4" y1="2417.2" x2="608.4" y2="2423.2"/>
<line x1="623.9" y1="2417.2" x2="623.9" y2="2423.2"/>
<line x1="639.5" y1="2417.2" x2="639.5" y2="2423.2"/>
<line x1="655" y1="2417.2" x2="655" y2="2429.2"/>
<line x1="670.5" y1="2417.2" x2="670.5" y2="2423.2"/>
<line x1="686.1" y1="2417.2" x2="686.1" y2="2423.2"/>
<line x1="701.6" y1="2417.2" x2="701.6" y2="2423.2"/>
<line x1="717.1" y1="2417.2" x2="717.1" y2="2423.2"/>
<line x1="732.6" y1="2417.2" x2="732.6" y2="2429.2"/>
<line x1="748.2" y1="2417.2" x2="748.2" y2="2423.2"/>
<line x1="763.7" y1="2417.2" x2="763.7" y2="2423.2"/>
<line x1="779.2" y1="2417.2" x2="779.2" y2="2423.2"/>
<line x1="794.8" y1="2417.2" x2="794.8" y2="2423.2"/>
<line x1="810.3" y1="2417.2" x2="810.3" y2="2429.2"/>
</g>
<text x="477.7" y="2417.2" font-family="'Liberation Sans', Arial, sans-serif" font-size="10.5" fill="#1a1a1a" text-anchor="middle" transform="rotate(-90 477.7 2417.2)">0</text>
<text x="477.7" y="2378.4" font-family="'Liberation Sans', Arial, sans-serif" font-size="10.5" fill="#1a1a1a" text-anchor="middle" transform="rotate(-90 477.7 2378.4)">100</text>
<text x="477.7" y="2339.5" font-family="'Liberation Sans', Arial, sans-serif" font-size="10.5" fill="#1a1a1a" text-anchor="middle" transform="rotate(-90 477.7 2339.5)">200</text>
<text x="477.7" y="2300.7" font-family="'Liberation Sans', Arial, sans-serif" font-size="10.5" fill="#1a1a1a" text-anchor="middle" transform="rotate(-90 477.7 2300.7)">300</text>
<text x="477.7" y="2261.8" font-family="'Liberation Sans', Arial, sans-serif" font-size="10.5" fill="#1a1a1a" text-anchor="middle" transform="rotate(-90 477.7 2261.8)">400</text>
<text x="477.7" y="2223" font-family="'Liberation Sans', Arial, sans-serif" font-size="10.5" fill="#1a1a1a" text-anchor="middle" transform="rotate(-90 477.7 2223)">500</text>
<text x="477.7" y="2184.1" font-family="'Liberation Sans', Arial, sans-serif" font-size="10.5" fill="#1a1a1a" text-anchor="middle" transform="rotate(-90 477.7 2184.1)">600</text>
<text x="477.7" y="2145.3" font-family="'Liberation Sans', Arial, sans-serif" font-size="10.5" fill="#1a1a1a" text-anchor="middle" transform="rotate(-90 477.7 2145.3)">700</text>
<text x="499.7" y="2444.2" font-family="'Liberation Sans', Arial, sans-serif" font-size="11" font-weight="normal" text-anchor="middle" fill="#1a1a1a" >0</text>
<text x="577.4" y="2444.2" font-family="'Liberation Sans', Arial, sans-serif" font-size="11" font-weight="normal" text-anchor="middle" fill="#1a1a1a" >50</text>
<text x="655" y="2444.2" font-family="'Liberation Sans', Arial, sans-serif" font-size="11" font-weight="normal" text-anchor="middle" fill="#1a1a1a" >100</text>
<text x="732.6" y="2444.2" font-family="'Liberation Sans', Arial, sans-serif" font-size="11" font-weight="normal" text-anchor="middle" fill="#1a1a1a" >150</text>
<text x="810.3" y="2444.2" font-family="'Liberation Sans', Arial, sans-serif" font-size="11" font-weight="normal" text-anchor="middle" fill="#1a1a1a" >200</text>
<text x="655" y="2460.2" font-family="'Liberation Sans', Arial, sans-serif" font-size="10.5" font-weight="normal" text-anchor="middle" fill="#1a1a1a" >FL2-A PI-A</text>
<text x="464.7" y="2281.2" font-family="'Liberation Sans', Arial, sans-serif" font-size="9.5" fill="#333" text-anchor="middle" transform="rotate(-90 464.7 2281.2)">Number</text>
<text x="569.9" y="2107.6" font-family="'Liberation Sans', Arial, sans-serif" font-size="43" font-weight="bold" textLength="175.5" lengthAdjust="spacingAndGlyphs">Sh GRB14</text>
<line x1="933.3" y1="1617.6" x2="933.3" y2="1980.4" stroke="#000" stroke-width="3.2" stroke-linecap="butt"/>
<line x1="920.3" y1="1979.2" x2="933.3" y2="1979.2" stroke="#000" stroke-width="2.8" stroke-linecap="butt"/>
<text x="916.3" y="1987.5" font-family="'Liberation Sans', Arial, sans-serif" font-size="23" font-weight="bold" text-anchor="end" fill="#000" >0</text>
<line x1="920.3" y1="1889.1" x2="933.3" y2="1889.1" stroke="#000" stroke-width="2.8" stroke-linecap="butt"/>
<text x="916.3" y="1897.4" font-family="'Liberation Sans', Arial, sans-serif" font-size="23" font-weight="bold" text-anchor="end" fill="#000" >20</text>
<line x1="920.3" y1="1799" x2="933.3" y2="1799" stroke="#000" stroke-width="2.8" stroke-linecap="butt"/>
<text x="916.3" y="1807.3" font-family="'Liberation Sans', Arial, sans-serif" font-size="23" font-weight="bold" text-anchor="end" fill="#000" >40</text>
<line x1="920.3" y1="1708.9" x2="933.3" y2="1708.9" stroke="#000" stroke-width="2.8" stroke-linecap="butt"/>
<text x="916.3" y="1717.2" font-family="'Liberation Sans', Arial, sans-serif" font-size="23" font-weight="bold" text-anchor="end" fill="#000" >60</text>
<line x1="920.3" y1="1618.8" x2="933.3" y2="1618.8" stroke="#000" stroke-width="2.8" stroke-linecap="butt"/>
<text x="916.3" y="1627.1" font-family="'Liberation Sans', Arial, sans-serif" font-size="23" font-weight="bold" text-anchor="end" fill="#000" >80</text>
<line x1="920.8" y1="1979.2" x2="1327.5" y2="1979.2" stroke="#000" stroke-width="3.2" stroke-linecap="butt"/>
<line x1="995" y1="1979.2" x2="995" y2="1990.2" stroke="#000" stroke-width="2.8" stroke-linecap="butt"/>
<line x1="1130.4" y1="1979.2" x2="1130.4" y2="1990.2" stroke="#000" stroke-width="2.8" stroke-linecap="butt"/>
<line x1="1267" y1="1979.2" x2="1267" y2="1990.2" stroke="#000" stroke-width="2.8" stroke-linecap="butt"/>
<rect x="953.3" y="1728.3" width="32.1" height="250.9" fill="#98aad4"/>
<path d="M955.3,1979.2 V1730.3 H983.4 V1979.2" fill="none" stroke="#34507f" stroke-width="4"/>
<path d="M957.9,1979.2 V1732.9 H980.8 V1979.2" fill="none" stroke="#b6c6ee" stroke-width="1.1" opacity="0.9"/>
<line x1="952.8" y1="1979.2" x2="985.9" y2="1979.2" stroke="#000" stroke-width="3.2"/>
<rect x="1004" y="1820.8" width="31.8" height="158.4" fill="#dacdb6"/>
<path d="M1006,1979.2 V1822.8 H1033.8 V1979.2" fill="none" stroke="#9c8764" stroke-width="4"/>
<path d="M1008.6,1979.2 V1825.4 H1031.2 V1979.2" fill="none" stroke="#f0e6d2" stroke-width="1.1" opacity="0.9"/>
<line x1="1003.5" y1="1979.2" x2="1036.3" y2="1979.2" stroke="#000" stroke-width="3.2"/>
<rect x="1088.8" y="1895" width="32" height="84.2" fill="#98aad4"/>
<path d="M1090.8,1979.2 V1897 H1118.8 V1979.2" fill="none" stroke="#34507f" stroke-width="4"/>
<path d="M1093.3,1979.2 V1899.6 H1116.2 V1979.2" fill="none" stroke="#b6c6ee" stroke-width="1.1" opacity="0.9"/>
<line x1="1088.2" y1="1979.2" x2="1121.3" y2="1979.2" stroke="#000" stroke-width="3.2"/>
<rect x="1140" y="1775" width="32" height="204.2" fill="#dacdb6"/>
<path d="M1142,1979.2 V1777 H1170 V1979.2" fill="none" stroke="#9c8764" stroke-width="4"/>
<path d="M1144.6,1979.2 V1779.6 H1167.4 V1979.2" fill="none" stroke="#f0e6d2" stroke-width="1.1" opacity="0.9"/>
<line x1="1139.5" y1="1979.2" x2="1172.5" y2="1979.2" stroke="#000" stroke-width="3.2"/>
<rect x="1225.4" y="1865.8" width="32.1" height="113.4" fill="#98aad4"/>
<path d="M1227.4,1979.2 V1867.8 H1255.5 V1979.2" fill="none" stroke="#34507f" stroke-width="4"/>
<path d="M1230,1979.2 V1870.4 H1252.9 V1979.2" fill="none" stroke="#b6c6ee" stroke-width="1.1" opacity="0.9"/>
<line x1="1224.9" y1="1979.2" x2="1258" y2="1979.2" stroke="#000" stroke-width="3.2"/>
<rect x="1275.4" y="1895" width="32.1" height="84.2" fill="#dacdb6"/>
<path d="M1277.4,1979.2 V1897 H1305.5 V1979.2" fill="none" stroke="#9c8764" stroke-width="4"/>
<path d="M1280,1979.2 V1899.6 H1302.9 V1979.2" fill="none" stroke="#f0e6d2" stroke-width="1.1" opacity="0.9"/>
<line x1="1274.9" y1="1979.2" x2="1308" y2="1979.2" stroke="#000" stroke-width="3.2"/>
<line x1="968.5" y1="1715.8" x2="968.5" y2="1739.6" stroke="#000" stroke-width="2.4" stroke-linecap="butt"/>
<line x1="959.5" y1="1715.8" x2="977.5" y2="1715.8" stroke="#000" stroke-width="2.4" stroke-linecap="butt"/>
<line x1="959.5" y1="1739.6" x2="977.5" y2="1739.6" stroke="#000" stroke-width="2.4" stroke-linecap="butt"/>
<line x1="1020" y1="1802.9" x2="1020" y2="1837.5" stroke="#000" stroke-width="2.4" stroke-linecap="butt"/>
<line x1="1011.5" y1="1802.9" x2="1028.5" y2="1802.9" stroke="#000" stroke-width="2.4" stroke-linecap="butt"/>
<line x1="1011.5" y1="1837.5" x2="1028.5" y2="1837.5" stroke="#000" stroke-width="2.4" stroke-linecap="butt"/>
<line x1="1105" y1="1887.5" x2="1105" y2="1902" stroke="#000" stroke-width="2.4" stroke-linecap="butt"/>
<line x1="1096.2" y1="1887.5" x2="1113.8" y2="1887.5" stroke="#000" stroke-width="2.4" stroke-linecap="butt"/>
<line x1="1096.2" y1="1902" x2="1113.8" y2="1902" stroke="#000" stroke-width="2.4" stroke-linecap="butt"/>
<line x1="1156" y1="1757" x2="1156" y2="1794.6" stroke="#000" stroke-width="2.4" stroke-linecap="butt"/>
<line x1="1147" y1="1757" x2="1165" y2="1757" stroke="#000" stroke-width="2.4" stroke-linecap="butt"/>
<line x1="1147" y1="1794.6" x2="1165" y2="1794.6" stroke="#000" stroke-width="2.4" stroke-linecap="butt"/>
<line x1="1242.5" y1="1859" x2="1242.5" y2="1870.8" stroke="#000" stroke-width="2.4" stroke-linecap="butt"/>
<line x1="1233.8" y1="1859" x2="1251.2" y2="1859" stroke="#000" stroke-width="2.4" stroke-linecap="butt"/>
<line x1="1233.8" y1="1870.8" x2="1251.2" y2="1870.8" stroke="#000" stroke-width="2.4" stroke-linecap="butt"/>
<line x1="1292.5" y1="1889.6" x2="1292.5" y2="1897.9" stroke="#000" stroke-width="2.4" stroke-linecap="butt"/>
<line x1="1283.8" y1="1889.6" x2="1301.2" y2="1889.6" stroke="#000" stroke-width="2.4" stroke-linecap="butt"/>
<line x1="1283.8" y1="1897.9" x2="1301.2" y2="1897.9" stroke="#000" stroke-width="2.4" stroke-linecap="butt"/>
<circle cx="962.5" cy="1720" r="4.6" fill="#000"/>
<circle cx="975" cy="1721.7" r="4.6" fill="#000"/>
<circle cx="968.8" cy="1740.8" r="4.6" fill="#000"/>
<circle cx="1020" cy="1800.8" r="4.6" fill="#000"/>
<circle cx="1013.8" cy="1833.3" r="4.6" fill="#000"/>
<circle cx="1026.2" cy="1827" r="4.6" fill="#000"/>
<circle cx="1098.3" cy="1887.5" r="4.6" fill="#000"/>
<circle cx="1109.6" cy="1891.7" r="4.6" fill="#000"/>
<circle cx="1104.6" cy="1904.2" r="4.6" fill="#000"/>
<circle cx="1156.2" cy="1757" r="4.6" fill="#000"/>
<circle cx="1156.2" cy="1777" r="4.6" fill="#000"/>
<circle cx="1156.2" cy="1792.9" r="4.6" fill="#000"/>
<circle cx="1241.7" cy="1858.3" r="4.6" fill="#000"/>
<circle cx="1233.8" cy="1868.8" r="4.6" fill="#000"/>
<circle cx="1249.2" cy="1868.8" r="4.6" fill="#000"/>
<circle cx="1285.8" cy="1891.7" r="4.6" fill="#000"/>
<circle cx="1298.3" cy="1891.7" r="4.6" fill="#000"/>
<circle cx="1292" cy="1899.2" r="4.6" fill="#000"/>
<polyline points="968.8,1695.8 968.8,1676.2 1020,1676.2 1020,1783.3" fill="none" stroke="#000" stroke-width="1.7" stroke-linejoin="miter"/>
<polyline points="1104.6,1868.8 1104.6,1676.2 1156.2,1676.2 1156.2,1735.4" fill="none" stroke="#000" stroke-width="1.7" stroke-linejoin="miter"/>
<polyline points="1240.8,1839.6 1240.8,1676.2 1292,1676.2 1292,1870.8" fill="none" stroke="#000" stroke-width="1.7" stroke-linejoin="miter"/>
<text x="994.2" y="1681.6" font-family="'Liberation Sans', Arial, sans-serif" font-size="30" font-weight="bold" text-anchor="middle" fill="#000" >*</text>
<text x="1129.6" y="1681.6" font-family="'Liberation Sans', Arial, sans-serif" font-size="30" font-weight="bold" text-anchor="middle" fill="#000" >*</text>
<text x="1269.2" y="1681.6" font-family="'Liberation Sans', Arial, sans-serif" font-size="30" font-weight="bold" text-anchor="middle" fill="#000" >*</text>
<text x="1001" y="2006.2" font-family="'Liberation Sans', Arial, sans-serif" font-size="20.5" font-weight="bold" text-anchor="end" transform="rotate(-45 1001 2006.2)">G0/G1</text>
<text x="1136.4" y="2006.2" font-family="'Liberation Sans', Arial, sans-serif" font-size="20.5" font-weight="bold" text-anchor="end" transform="rotate(-45 1136.4 2006.2)">S</text>
<text x="1273" y="2006.2" font-family="'Liberation Sans', Arial, sans-serif" font-size="20.5" font-weight="bold" text-anchor="end" transform="rotate(-45 1273 2006.2)">G2/M</text>
<rect x="1322" y="1620" width="32" height="10" fill="#9fb3dc" stroke="#34507f" stroke-width="3.5"/>
<rect x="1322" y="1663" width="32" height="10" fill="#e6dcc8" stroke="#9c8764" stroke-width="3.5"/>
<text x="1376" y="1633" font-family="'Liberation Sans', Arial, sans-serif" font-size="22" font-weight="normal" text-anchor="start" fill="#000" >Lv ctrl</text>
<text x="1376" y="1676" font-family="'Liberation Sans', Arial, sans-serif" font-size="22" font-weight="normal" text-anchor="start" fill="#000" >Lv GRB14</text>
<text x="873.5" y="1797.9" font-family="'Liberation Sans', Arial, sans-serif" font-size="20.3" font-weight="bold" text-anchor="middle" transform="rotate(-90 873.5 1797.9)" >Cell cycle distribution(%)</text>
<line x1="931.7" y1="2075.5" x2="931.7" y2="2434.1" stroke="#000" stroke-width="3.2" stroke-linecap="butt"/>
<line x1="918.7" y1="2432.9" x2="931.7" y2="2432.9" stroke="#000" stroke-width="2.8" stroke-linecap="butt"/>
<text x="914.7" y="2441.2" font-family="'Liberation Sans', Arial, sans-serif" font-size="23" font-weight="bold" text-anchor="end" fill="#000" >0</text>
<line x1="918.7" y1="2361.7" x2="931.7" y2="2361.7" stroke="#000" stroke-width="2.8" stroke-linecap="butt"/>
<text x="914.7" y="2369.9" font-family="'Liberation Sans', Arial, sans-serif" font-size="23" font-weight="bold" text-anchor="end" fill="#000" >20</text>
<line x1="918.7" y1="2290.4" x2="931.7" y2="2290.4" stroke="#000" stroke-width="2.8" stroke-linecap="butt"/>
<text x="914.7" y="2298.7" font-family="'Liberation Sans', Arial, sans-serif" font-size="23" font-weight="bold" text-anchor="end" fill="#000" >40</text>
<line x1="918.7" y1="2219.2" x2="931.7" y2="2219.2" stroke="#000" stroke-width="2.8" stroke-linecap="butt"/>
<text x="914.7" y="2227.5" font-family="'Liberation Sans', Arial, sans-serif" font-size="23" font-weight="bold" text-anchor="end" fill="#000" >60</text>
<line x1="918.7" y1="2147.9" x2="931.7" y2="2147.9" stroke="#000" stroke-width="2.8" stroke-linecap="butt"/>
<text x="914.7" y="2156.2" font-family="'Liberation Sans', Arial, sans-serif" font-size="23" font-weight="bold" text-anchor="end" fill="#000" >80</text>
<line x1="918.7" y1="2076.7" x2="931.7" y2="2076.7" stroke="#000" stroke-width="2.8" stroke-linecap="butt"/>
<text x="914.7" y="2085" font-family="'Liberation Sans', Arial, sans-serif" font-size="23" font-weight="bold" text-anchor="end" fill="#000" >100</text>
<line x1="918" y1="2432.9" x2="1322" y2="2432.9" stroke="#000" stroke-width="3.2" stroke-linecap="butt"/>
<line x1="990.8" y1="2432.9" x2="990.8" y2="2443.9" stroke="#000" stroke-width="2.8" stroke-linecap="butt"/>
<line x1="1126" y1="2432.9" x2="1126" y2="2443.9" stroke="#000" stroke-width="2.8" stroke-linecap="butt"/>
<line x1="1261.7" y1="2432.9" x2="1261.7" y2="2443.9" stroke="#000" stroke-width="2.8" stroke-linecap="butt"/>
<rect x="950.4" y="2288" width="32.1" height="144.9" fill="#98aad4"/>
<path d="M952.4,2432.9 V2290 H980.5 V2432.9" fill="none" stroke="#34507f" stroke-width="4"/>
<path d="M955,2432.9 V2292.6 H977.9 V2432.9" fill="none" stroke="#b6c6ee" stroke-width="1.1" opacity="0.9"/>
<line x1="949.9" y1="2432.9" x2="983" y2="2432.9" stroke="#000" stroke-width="3.2"/>
<rect x="1001" y="2191" width="32.3" height="241.9" fill="#dacdb6"/>
<path d="M1003,2432.9 V2193 H1031.3 V2432.9" fill="none" stroke="#9c8764" stroke-width="4"/>
<path d="M1005.6,2432.9 V2195.6 H1028.7 V2432.9" fill="none" stroke="#f0e6d2" stroke-width="1.1" opacity="0.9"/>
<line x1="1000.5" y1="2432.9" x2="1033.8" y2="2432.9" stroke="#000" stroke-width="3.2"/>
<rect x="1085.4" y="2318" width="32.6" height="114.9" fill="#98aad4"/>
<path d="M1087.4,2432.9 V2320 H1116 V2432.9" fill="none" stroke="#34507f" stroke-width="4"/>
<path d="M1090,2432.9 V2322.6 H1113.4 V2432.9" fill="none" stroke="#b6c6ee" stroke-width="1.1" opacity="0.9"/>
<line x1="1084.9" y1="2432.9" x2="1118.5" y2="2432.9" stroke="#000" stroke-width="3.2"/>
<rect x="1135.8" y="2380.4" width="32.5" height="52.5" fill="#dacdb6"/>
<path d="M1137.8,2432.9 V2382.4 H1166.3 V2432.9" fill="none" stroke="#9c8764" stroke-width="4"/>
<path d="M1140.4,2432.9 V2385 H1163.7 V2432.9" fill="none" stroke="#f0e6d2" stroke-width="1.1" opacity="0.9"/>
<line x1="1135.3" y1="2432.9" x2="1168.8" y2="2432.9" stroke="#000" stroke-width="3.2"/>
<rect x="1220.8" y="2336.7" width="32.5" height="96.2" fill="#98aad4"/>
<path d="M1222.8,2432.9 V2338.7 H1251.3 V2432.9" fill="none" stroke="#34507f" stroke-width="4"/>
<path d="M1225.4,2432.9 V2341.3 H1248.7 V2432.9" fill="none" stroke="#b6c6ee" stroke-width="1.1" opacity="0.9"/>
<line x1="1220.3" y1="2432.9" x2="1253.8" y2="2432.9" stroke="#000" stroke-width="3.2"/>
<rect x="1271.2" y="2373.3" width="32" height="59.6" fill="#dacdb6"/>
<path d="M1273.2,2432.9 V2375.3 H1301.3 V2432.9" fill="none" stroke="#9c8764" stroke-width="4"/>
<path d="M1275.8,2432.9 V2377.9 H1298.7 V2432.9" fill="none" stroke="#f0e6d2" stroke-width="1.1" opacity="0.9"/>
<line x1="1270.8" y1="2432.9" x2="1303.8" y2="2432.9" stroke="#000" stroke-width="3.2"/>
<line x1="966.2" y1="2275.4" x2="966.2" y2="2298.3" stroke="#000" stroke-width="2.4" stroke-linecap="butt"/>
<line x1="957.5" y1="2275.4" x2="975" y2="2275.4" stroke="#000" stroke-width="2.4" stroke-linecap="butt"/>
<line x1="957.5" y1="2298.3" x2="975" y2="2298.3" stroke="#000" stroke-width="2.4" stroke-linecap="butt"/>
<line x1="1017.5" y1="2171.2" x2="1017.5" y2="2210" stroke="#000" stroke-width="2.4" stroke-linecap="butt"/>
<line x1="1009.5" y1="2171.2" x2="1025.5" y2="2171.2" stroke="#000" stroke-width="2.4" stroke-linecap="butt"/>
<line x1="1009.5" y1="2210" x2="1025.5" y2="2210" stroke="#000" stroke-width="2.4" stroke-linecap="butt"/>
<line x1="1101.7" y1="2310" x2="1101.7" y2="2324.6" stroke="#000" stroke-width="2.4" stroke-linecap="butt"/>
<line x1="1093" y1="2310" x2="1110.5" y2="2310" stroke="#000" stroke-width="2.4" stroke-linecap="butt"/>
<line x1="1093" y1="2324.6" x2="1110.5" y2="2324.6" stroke="#000" stroke-width="2.4" stroke-linecap="butt"/>
<line x1="1152.3" y1="2369.2" x2="1152.3" y2="2389.2" stroke="#000" stroke-width="2.4" stroke-linecap="butt"/>
<line x1="1143.8" y1="2369.2" x2="1160.8" y2="2369.2" stroke="#000" stroke-width="2.4" stroke-linecap="butt"/>
<line x1="1143.8" y1="2389.2" x2="1160.8" y2="2389.2" stroke="#000" stroke-width="2.4" stroke-linecap="butt"/>
<line x1="1236.7" y1="2324.6" x2="1236.7" y2="2347.5" stroke="#000" stroke-width="2.4" stroke-linecap="butt"/>
<line x1="1228.4" y1="2324.6" x2="1245" y2="2324.6" stroke="#000" stroke-width="2.4" stroke-linecap="butt"/>
<line x1="1228.4" y1="2347.5" x2="1245" y2="2347.5" stroke="#000" stroke-width="2.4" stroke-linecap="butt"/>
<line x1="1287" y1="2362.9" x2="1287" y2="2383.8" stroke="#000" stroke-width="2.4" stroke-linecap="butt"/>
<line x1="1278.2" y1="2362.9" x2="1295.8" y2="2362.9" stroke="#000" stroke-width="2.4" stroke-linecap="butt"/>
<line x1="1278.2" y1="2383.8" x2="1295.8" y2="2383.8" stroke="#000" stroke-width="2.4" stroke-linecap="butt"/>
<circle cx="959.6" cy="2277.5" r="4.6" fill="#000"/>
<circle cx="973.3" cy="2281.7" r="4.6" fill="#000"/>
<circle cx="965.8" cy="2300.4" r="4.6" fill="#000"/>
<circle cx="1017.5" cy="2172.5" r="4.6" fill="#000"/>
<circle cx="1017.5" cy="2187.9" r="4.6" fill="#000"/>
<circle cx="1017.5" cy="2210.8" r="4.6" fill="#000"/>
<circle cx="1101.2" cy="2310.8" r="4.6" fill="#000"/>
<circle cx="1095" cy="2323.3" r="4.6" fill="#000"/>
<circle cx="1107.5" cy="2317.9" r="4.6" fill="#000"/>
<circle cx="1152.1" cy="2369.2" r="4.6" fill="#000"/>
<circle cx="1146.2" cy="2386.7" r="4.6" fill="#000"/>
<circle cx="1159.6" cy="2383.8" r="4.6" fill="#000"/>
<circle cx="1236.7" cy="2324.6" r="4.6" fill="#000"/>
<circle cx="1236.7" cy="2336.7" r="4.6" fill="#000"/>
<circle cx="1236.7" cy="2347.5" r="4.6" fill="#000"/>
<circle cx="1280.4" cy="2367" r="4.6" fill="#000"/>
<circle cx="1293.8" cy="2367" r="4.6" fill="#000"/>
<circle cx="1287.5" cy="2385.8" r="4.6" fill="#000"/>
<polyline points="965.8,2257.9 965.8,2150.4 1017.5,2150.4 1017.5,2156.7" fill="none" stroke="#000" stroke-width="1.7" stroke-linejoin="miter"/>
<polyline points="1101.2,2295 1101.2,2150.4 1152.1,2150.4 1152.1,2354.6" fill="none" stroke="#000" stroke-width="1.7" stroke-linejoin="miter"/>
<polyline points="1235.8,2310 1235.8,2150.4 1286.7,2150.4 1286.7,2347.5" fill="none" stroke="#000" stroke-width="1.7" stroke-linejoin="miter"/>
<text x="992.9" y="2155.6" font-family="'Liberation Sans', Arial, sans-serif" font-size="30" font-weight="bold" text-anchor="middle" fill="#000" >*</text>
<text x="1127.5" y="2155.6" font-family="'Liberation Sans', Arial, sans-serif" font-size="30" font-weight="bold" text-anchor="middle" fill="#000" >*</text>
<text x="1262.5" y="2155.6" font-family="'Liberation Sans', Arial, sans-serif" font-size="30" font-weight="bold" text-anchor="middle" fill="#000" >*</text>
<text x="996.8" y="2459.9" font-family="'Liberation Sans', Arial, sans-serif" font-size="20.5" font-weight="bold" text-anchor="end" transform="rotate(-45 996.8 2459.9)">G0/G1</text>
<text x="1132" y="2459.9" font-family="'Liberation Sans', Arial, sans-serif" font-size="20.5" font-weight="bold" text-anchor="end" transform="rotate(-45 1132 2459.9)">S</text>
<text x="1267.7" y="2459.9" font-family="'Liberation Sans', Arial, sans-serif" font-size="20.5" font-weight="bold" text-anchor="end" transform="rotate(-45 1267.7 2459.9)">G2/M</text>
<rect x="1317" y="2077" width="32" height="10" fill="#9fb3dc" stroke="#34507f" stroke-width="3.5"/>
<rect x="1317" y="2120.5" width="32" height="10" fill="#e6dcc8" stroke="#9c8764" stroke-width="3.5"/>
<text x="1370.8" y="2089" font-family="'Liberation Sans', Arial, sans-serif" font-size="22" font-weight="normal" text-anchor="start" fill="#000" >Sh NC</text>
<text x="1370.8" y="2132.5" font-family="'Liberation Sans', Arial, sans-serif" font-size="22" font-weight="normal" text-anchor="start" fill="#000" >Sh GRB14</text>
<text x="860" y="2254" font-family="'Liberation Sans', Arial, sans-serif" font-size="20.3" font-weight="bold" text-anchor="middle" transform="rotate(-90 860 2254)" >Cell cycle distribution(%)</text>
</svg></body></html>
